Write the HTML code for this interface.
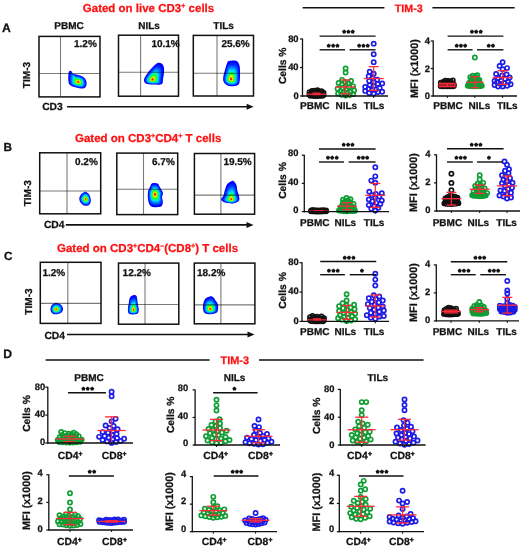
<!DOCTYPE html>
<html><head><meta charset="utf-8"><title>TIM-3 expression figure</title>
<style>
html,body{margin:0;padding:0;background:#fff;}
svg{display:block;text-rendering:geometricPrecision;}
text{font-family:'Liberation Sans', Arial, sans-serif;font-weight:bold;stroke-width:0.25px;paint-order:stroke;}
</style></head>
<body>
<svg width="526" height="550" viewBox="0 0 526 550">
<defs><filter id="bl" x="-20%" y="-20%" width="140%" height="140%"><feGaussianBlur stdDeviation="0.55"/></filter></defs>
<rect width="526" height="550" fill="#fff"/>
<text x="2" y="32.3" font-size="12.2" text-anchor="start" fill="#111" stroke="#111" >A</text>
<text x="3.4" y="150.6" font-size="11.8" text-anchor="start" fill="#111" stroke="#111" >B</text>
<text x="4" y="260.4" font-size="11.8" text-anchor="start" fill="#111" stroke="#111" >C</text>
<text x="3.2" y="358.4" font-size="12.2" text-anchor="start" fill="#111" stroke="#111" >D</text>
<text x="82.8" y="11.8" font-size="11.5" fill="#ff1010" stroke="#ff1010"><tspan>Gated on live CD3</tspan><tspan font-size="7.13" baseline-shift="4.14">+</tspan><tspan> cells</tspan></text>
<text x="75" y="142" font-size="11.5" fill="#ff1010" stroke="#ff1010"><tspan>Gated on CD3</tspan><tspan font-size="7.13" baseline-shift="4.14">+</tspan><tspan>CD4</tspan><tspan font-size="7.13" baseline-shift="4.14">+</tspan><tspan> T cells</tspan></text>
<text x="57" y="251.6" font-size="11.5" fill="#ff1010" stroke="#ff1010"><tspan>Gated on CD3</tspan><tspan font-size="7.13" baseline-shift="4.14">+</tspan><tspan>CD4</tspan><tspan font-size="7.13" baseline-shift="4.14">–</tspan><tspan>(CD8</tspan><tspan font-size="7.13" baseline-shift="4.14">+</tspan><tspan>) T cells</tspan></text>
<line x1="302.6" y1="7.8" x2="384.4" y2="7.8" stroke="#111" stroke-width="1.4" />
<line x1="432.4" y1="7.8" x2="514.6" y2="7.8" stroke="#111" stroke-width="1.4" />
<text x="408.8" y="11.7" font-size="10.7" text-anchor="middle" fill="#ff1010" stroke="#ff1010" >TIM-3</text>
<line x1="45.6" y1="360" x2="209.6" y2="360" stroke="#111" stroke-width="1.4" />
<line x1="259" y1="360" x2="423.6" y2="360" stroke="#111" stroke-width="1.4" />
<text x="234.8" y="364.2" font-size="10.9" text-anchor="middle" fill="#ff1010" stroke="#ff1010" >TIM-3</text>
<g filter="url(#bl)"><path d="M69.5,71C70.02,70.55 70.92,70.83 71.5,71.3C72.08,71.77 71.58,73.1 73,73.8C74.42,74.5 78.08,74.8 80,75.5C81.92,76.2 83.42,76.92 84.5,78C85.58,79.08 86.25,80.58 86.5,82C86.75,83.42 86.58,85.42 86,86.5C85.42,87.58 84.67,88.33 83,88.5C81.33,88.67 78.17,88.08 76,87.5C73.83,86.92 71.27,86.08 70,85C68.73,83.92 68.67,82.83 68.4,81C68.13,79.17 68.22,75.67 68.4,74C68.58,72.33 68.98,71.45 69.5,71Z" fill="#0000ff"/><path d="M70.65,72.43C71.1,72.04 71.87,72.27 72.36,72.66C72.86,73.04 72.38,74.18 73.62,74.76C74.87,75.35 78.12,75.57 79.82,76.18C81.52,76.79 82.87,77.46 83.83,78.43C84.79,79.4 85.37,80.74 85.59,82C85.8,83.26 85.64,85.02 85.12,85.99C84.6,86.95 83.96,87.62 82.48,87.78C81,87.94 78.15,87.47 76.23,86.95C74.31,86.43 72.06,85.63 70.95,84.66C69.84,83.69 69.79,82.73 69.57,81.12C69.36,79.51 69.48,76.46 69.66,75.02C69.84,73.57 70.2,72.83 70.65,72.43Z" fill="#0028ff"/><path d="M71.73,73.79C72.12,73.45 72.76,73.62 73.18,73.94C73.59,74.26 73.15,75.21 74.22,75.69C75.3,76.18 78.16,76.32 79.65,76.85C81.14,77.38 82.33,78 83.18,78.85C84.02,79.71 84.51,80.89 84.69,82C84.88,83.11 84.72,84.64 84.26,85.49C83.81,86.33 83.27,86.93 81.97,87.08C80.67,87.23 78.14,86.86 76.46,86.4C74.78,85.94 72.83,85.19 71.87,84.33C70.9,83.46 70.87,82.62 70.7,81.23C70.53,79.84 70.67,77.22 70.85,75.98C71.02,74.74 71.34,74.12 71.73,73.79Z" fill="#0064ff"/><path d="M72.74,75.05C73.07,74.77 73.61,74.9 73.95,75.16C74.3,75.41 73.88,76.2 74.8,76.59C75.72,76.98 78.19,77.07 79.47,77.51C80.76,77.96 81.81,78.52 82.53,79.27C83.26,80.02 83.67,81.04 83.82,82C83.98,82.96 83.83,84.27 83.44,85C83.04,85.73 82.6,86.25 81.47,86.39C80.35,86.53 78.14,86.25 76.69,85.85C75.24,85.45 73.57,84.75 72.76,84C71.94,83.25 71.91,82.53 71.78,81.34C71.65,80.16 71.81,77.94 71.97,76.89C72.13,75.84 72.41,75.34 72.74,75.05Z" fill="#00a8ff"/><path d="M73.7,76.25C73.97,76.01 74.41,76.11 74.68,76.31C74.96,76.51 74.59,77.14 75.36,77.45C76.13,77.76 78.21,77.8 79.3,78.17C80.39,78.55 81.28,79.04 81.9,79.68C82.51,80.32 82.85,81.19 82.98,82C83.1,82.81 82.96,83.91 82.63,84.53C82.3,85.15 81.94,85.59 80.99,85.72C80.04,85.85 78.15,85.64 76.92,85.3C75.69,84.96 74.31,84.33 73.62,83.69C72.94,83.05 72.92,82.44 72.83,81.45C72.73,80.46 72.89,78.62 73.04,77.75C73.18,76.88 73.42,76.49 73.7,76.25Z" fill="#00e4f4"/><path d="M74.51,77.26C74.73,77.06 75.09,77.14 75.31,77.29C75.53,77.45 75.21,77.96 75.85,78.2C76.49,78.45 78.23,78.46 79.15,78.76C80.06,79.07 80.82,79.5 81.33,80.04C81.85,80.58 82.13,81.32 82.23,82C82.33,82.68 82.21,83.6 81.93,84.12C81.65,84.64 81.36,85.01 80.56,85.13C79.76,85.24 78.16,85.09 77.13,84.81C76.1,84.52 74.95,83.96 74.38,83.42C73.81,82.87 73.81,82.36 73.73,81.54C73.66,80.72 73.82,79.2 73.95,78.48C74.08,77.77 74.28,77.46 74.51,77.26Z" fill="#00ff90"/><path d="M75.19,78.11C75.38,77.95 75.66,78 75.84,78.13C76.02,78.25 75.73,78.66 76.26,78.85C76.79,79.04 78.25,79.03 79.01,79.28C79.77,79.53 80.41,79.91 80.84,80.36C81.27,80.81 81.5,81.43 81.58,82C81.66,82.57 81.55,83.33 81.32,83.77C81.09,84.2 80.86,84.51 80.19,84.61C79.52,84.71 78.17,84.6 77.31,84.36C76.45,84.13 75.5,83.64 75.04,83.18C74.57,82.72 74.57,82.3 74.51,81.62C74.46,80.94 74.61,79.69 74.72,79.11C74.83,78.52 75,78.28 75.19,78.11Z" fill="#18ff18"/><path d="M75.92,79.02C76.06,78.89 76.27,78.93 76.41,79.02C76.54,79.11 76.31,79.41 76.72,79.55C77.13,79.69 78.26,79.67 78.86,79.86C79.46,80.05 79.96,80.36 80.29,80.71C80.63,81.07 80.8,81.56 80.86,82C80.92,82.44 80.83,83.04 80.65,83.38C80.47,83.72 80.3,83.96 79.78,84.04C79.25,84.13 78.19,84.06 77.52,83.87C76.85,83.68 76.12,83.28 75.76,82.92C75.4,82.56 75.39,82.23 75.36,81.7C75.32,81.18 75.45,80.22 75.54,79.77C75.64,79.33 75.77,79.15 75.92,79.02Z" fill="#90ff00"/><path d="M76.53,79.78C76.63,79.69 76.79,79.71 76.89,79.77C76.98,79.84 76.8,80.06 77.11,80.16C77.42,80.26 78.28,80.22 78.73,80.37C79.18,80.51 79.56,80.75 79.81,81.02C80.07,81.3 80.2,81.66 80.24,82C80.28,82.34 80.21,82.78 80.08,83.04C79.94,83.3 79.82,83.48 79.42,83.55C79.02,83.61 78.21,83.57 77.7,83.43C77.2,83.29 76.65,82.97 76.38,82.69C76.11,82.42 76.11,82.17 76.09,81.78C76.07,81.38 76.17,80.67 76.24,80.34C76.32,80.01 76.42,79.88 76.53,79.78Z" fill="#f0f000"/><path d="M77.11,80.51C77.18,80.44 77.28,80.46 77.34,80.5C77.41,80.54 77.28,80.68 77.49,80.74C77.7,80.81 78.29,80.78 78.59,80.87C78.9,80.97 79.17,81.14 79.34,81.33C79.51,81.52 79.6,81.77 79.63,82C79.66,82.23 79.61,82.53 79.51,82.71C79.42,82.89 79.34,83.01 79.07,83.06C78.8,83.11 78.23,83.09 77.89,82.99C77.54,82.89 77.17,82.67 76.99,82.47C76.8,82.28 76.81,82.11 76.79,81.85C76.78,81.58 76.86,81.1 76.91,80.88C76.96,80.65 77.03,80.57 77.11,80.51Z" fill="#ff8000"/><path d="M77.59,81.11C77.63,81.07 77.69,81.08 77.73,81.1C77.77,81.12 77.69,81.21 77.81,81.24C77.94,81.28 78.29,81.26 78.48,81.31C78.67,81.37 78.83,81.48 78.93,81.59C79.04,81.71 79.09,81.86 79.11,82C79.12,82.14 79.09,82.32 79.03,82.43C78.98,82.54 78.93,82.61 78.77,82.64C78.6,82.67 78.26,82.66 78.05,82.61C77.84,82.55 77.62,82.4 77.51,82.29C77.4,82.17 77.4,82.07 77.39,81.91C77.39,81.75 77.44,81.46 77.47,81.33C77.5,81.2 77.54,81.15 77.59,81.11Z" fill="#ff0000"/></g>
<line x1="60.5" y1="36.4" x2="60.5" y2="96.9" stroke="#7a7a7a" stroke-width="1.1" style="mix-blend-mode:multiply"/>
<line x1="39" y1="73.5" x2="100" y2="73.5" stroke="#7a7a7a" stroke-width="1.1" style="mix-blend-mode:multiply"/>
<rect x="39" y="36.4" width="61" height="60.5" fill="none" stroke="#111" stroke-width="1.5"/>
<text x="74" y="46.5" font-size="10" text-anchor="start" fill="#111" stroke="#111" >1.2%</text>
<g filter="url(#bl)"><path d="M157,63.2C158.92,62.12 160.37,62.87 161.5,63.5C162.63,64.13 163.38,65.42 163.8,67C164.22,68.58 164.13,71 164,73C163.87,75 163.33,77.17 163,79C162.67,80.83 163.33,83.07 162,84C160.67,84.93 157.5,84.6 155,84.6C152.5,84.6 148.83,84.6 147,84C145.17,83.4 144.33,82.17 144,81C143.67,79.83 144,78.83 145,77C146,75.17 148,72.3 150,70C152,67.7 155.08,64.28 157,63.2Z" fill="#0000ff"/><path d="M156.35,65.53C158,64.64 159.22,65.29 160.2,65.83C161.17,66.38 161.82,67.45 162.2,68.8C162.58,70.14 162.56,72.18 162.47,73.9C162.38,75.61 161.96,77.5 161.69,79.1C161.41,80.7 161.98,82.65 160.82,83.48C159.66,84.32 156.95,84.11 154.74,84.12C152.53,84.13 149.21,84.09 147.58,83.55C145.96,83 145.26,81.9 144.97,80.86C144.68,79.82 144.95,78.93 145.84,77.32C146.72,75.71 148.54,73.16 150.29,71.19C152.05,69.23 154.7,66.42 156.35,65.53Z" fill="#0028ff"/><path d="M155.76,67.69C157.16,66.96 158.17,67.52 159,67.98C159.83,68.44 160.38,69.33 160.72,70.46C161.06,71.58 161.08,73.28 161.03,74.74C160.99,76.19 160.66,77.82 160.44,79.19C160.22,80.57 160.68,82.25 159.69,82.99C158.7,83.73 156.4,83.62 154.48,83.64C152.56,83.66 149.59,83.59 148.16,83.1C146.73,82.61 146.16,81.64 145.91,80.73C145.66,79.81 145.88,79.02 146.65,77.63C147.43,76.23 149.05,73.99 150.57,72.34C152.09,70.68 154.35,68.41 155.76,67.69Z" fill="#0064ff"/><path d="M155.21,69.68C156.38,69.1 157.2,69.57 157.9,69.96C158.59,70.34 159.06,71.06 159.36,71.99C159.65,72.92 159.71,74.31 159.69,75.53C159.67,76.74 159.43,78.12 159.25,79.28C159.07,80.45 159.45,81.87 158.61,82.52C157.78,83.16 155.87,83.14 154.22,83.16C152.57,83.18 149.95,83.09 148.72,82.66C147.49,82.23 147.04,81.39 146.82,80.6C146.61,79.81 146.78,79.12 147.45,77.93C148.12,76.73 149.55,74.8 150.84,73.43C152.13,72.05 154.03,70.26 155.21,69.68Z" fill="#00a8ff"/><path d="M154.7,71.51C155.66,71.06 156.32,71.45 156.88,71.77C157.45,72.08 157.84,72.65 158.1,73.4C158.35,74.16 158.42,75.27 158.43,76.27C158.43,77.26 158.26,78.4 158.12,79.37C157.98,80.34 158.28,81.52 157.59,82.07C156.9,82.62 155.35,82.65 153.96,82.68C152.57,82.71 150.32,82.6 149.27,82.23C148.23,81.86 147.88,81.14 147.7,80.47C147.53,79.8 147.65,79.22 148.22,78.22C148.78,77.22 150.01,75.59 151.09,74.47C152.17,73.35 153.73,71.96 154.7,71.51Z" fill="#00e4f4"/><path d="M154.27,73.04C155.06,72.69 155.58,73.01 156.05,73.27C156.51,73.52 156.83,73.98 157.05,74.58C157.26,75.19 157.34,76.08 157.36,76.89C157.37,77.7 157.25,78.64 157.14,79.44C157.04,80.24 157.28,81.22 156.71,81.69C156.14,82.15 154.88,82.22 153.73,82.25C152.57,82.28 150.64,82.16 149.77,81.85C148.89,81.53 148.62,80.92 148.47,80.36C148.33,79.8 148.42,79.3 148.89,78.47C149.36,77.64 150.42,76.27 151.31,75.37C152.21,74.46 153.48,73.39 154.27,73.04Z" fill="#00ff90"/><path d="M153.92,74.31C154.56,74.04 154.98,74.3 155.36,74.5C155.73,74.71 155.99,75.07 156.18,75.56C156.36,76.05 156.44,76.76 156.46,77.42C156.48,78.08 156.4,78.85 156.32,79.5C156.23,80.16 156.42,80.96 155.96,81.36C155.49,81.75 154.48,81.84 153.52,81.86C152.56,81.89 150.93,81.78 150.19,81.52C149.46,81.25 149.25,80.74 149.13,80.27C149.01,79.8 149.08,79.38 149.48,78.69C149.87,78.01 150.76,76.87 151.5,76.14C152.24,75.41 153.28,74.58 153.92,74.31Z" fill="#18ff18"/><path d="M153.55,75.63C154.04,75.44 154.35,75.64 154.64,75.79C154.92,75.95 155.12,76.22 155.27,76.58C155.41,76.95 155.48,77.48 155.51,77.98C155.53,78.48 155.48,79.07 155.42,79.57C155.36,80.08 155.5,80.69 155.15,81C154.79,81.31 154.03,81.41 153.28,81.43C152.54,81.46 151.24,81.36 150.67,81.15C150.1,80.93 149.95,80.53 149.86,80.16C149.77,79.8 149.81,79.47 150.12,78.94C150.43,78.4 151.13,77.52 151.71,76.97C152.28,76.42 153.07,75.83 153.55,75.63Z" fill="#90ff00"/><path d="M153.25,76.73C153.61,76.59 153.83,76.74 154.04,76.85C154.25,76.97 154.4,77.16 154.51,77.43C154.62,77.69 154.68,78.08 154.71,78.45C154.73,78.81 154.7,79.25 154.66,79.63C154.62,80 154.72,80.46 154.46,80.7C154.19,80.94 153.64,81.03 153.08,81.05C152.51,81.07 151.52,80.98 151.09,80.82C150.65,80.66 150.55,80.35 150.48,80.07C150.41,79.79 150.44,79.55 150.68,79.15C150.91,78.75 151.45,78.08 151.88,77.68C152.31,77.27 152.89,76.87 153.25,76.73Z" fill="#f0f000"/><path d="M152.97,77.75C153.21,77.66 153.35,77.76 153.49,77.84C153.63,77.92 153.73,78.04 153.81,78.22C153.89,78.39 153.93,78.64 153.95,78.89C153.97,79.13 153.96,79.43 153.93,79.68C153.91,79.94 153.97,80.25 153.8,80.41C153.62,80.57 153.25,80.65 152.87,80.66C152.49,80.68 151.79,80.61 151.5,80.5C151.2,80.39 151.14,80.18 151.09,79.99C151.05,79.8 151.06,79.63 151.22,79.35C151.38,79.08 151.76,78.63 152.05,78.36C152.34,78.09 152.73,77.84 152.97,77.75Z" fill="#ff8000"/><path d="M152.74,78.59C152.88,78.54 152.96,78.6 153.05,78.64C153.13,78.69 153.19,78.76 153.23,78.86C153.28,78.97 153.31,79.11 153.33,79.26C153.34,79.4 153.33,79.58 153.32,79.73C153.3,79.88 153.34,80.07 153.24,80.17C153.13,80.27 152.92,80.32 152.69,80.33C152.46,80.34 152.03,80.3 151.85,80.23C151.67,80.16 151.64,80.03 151.61,79.91C151.58,79.8 151.59,79.69 151.69,79.53C151.78,79.37 152.01,79.09 152.19,78.93C152.36,78.78 152.59,78.64 152.74,78.59Z" fill="#ff0000"/></g>
<line x1="140.6" y1="35.2" x2="140.6" y2="96.2" stroke="#7a7a7a" stroke-width="1.1" style="mix-blend-mode:multiply"/>
<line x1="118.5" y1="72.3" x2="178.5" y2="72.3" stroke="#7a7a7a" stroke-width="1.1" style="mix-blend-mode:multiply"/>
<rect x="118.5" y="35.2" width="60" height="61" fill="none" stroke="#111" stroke-width="1.5"/>
<text x="151.4" y="47" font-size="10" text-anchor="start" fill="#111" stroke="#111" >10.1%</text>
<g filter="url(#bl)"><path d="M229,61C230.5,60.55 234.33,60.3 236,60.8C237.67,61.3 238.33,62.47 239,64C239.67,65.53 239.9,67 240,70C240.1,73 240.1,79.4 239.6,82C239.1,84.6 238.27,84.9 237,85.6C235.73,86.3 233.67,86.27 232,86.2C230.33,86.13 228.42,85.98 227,85.2C225.58,84.42 224.1,83.03 223.5,81.5C222.9,79.97 223.15,77.92 223.4,76C223.65,74.08 224.4,72.08 225,70C225.6,67.92 226.33,65 227,63.5C227.67,62 227.5,61.45 229,61Z" fill="#0000ff"/><path d="M229.27,63.48C230.57,63.11 233.87,62.91 235.32,63.34C236.76,63.76 237.34,64.74 237.94,66.04C238.53,67.35 238.78,68.54 238.9,71.15C239.02,73.77 239.08,79.42 238.66,81.72C238.23,84.01 237.48,84.3 236.35,84.93C235.22,85.56 233.39,85.57 231.9,85.52C230.41,85.47 228.67,85.32 227.4,84.61C226.13,83.91 224.82,82.66 224.28,81.28C223.75,79.91 223.98,78.06 224.21,76.36C224.45,74.67 225.15,72.9 225.7,71.1C226.26,69.3 226.93,66.85 227.52,65.58C228.12,64.31 227.97,63.86 229.27,63.48Z" fill="#0028ff"/><path d="M229.52,65.8C230.63,65.5 233.45,65.34 234.68,65.7C235.92,66.06 236.42,66.87 236.94,67.96C237.47,69.05 237.71,70.01 237.84,72.25C237.97,74.5 238.09,79.43 237.73,81.44C237.38,83.44 236.7,83.7 235.71,84.27C234.72,84.84 233.12,84.88 231.8,84.84C230.48,84.8 228.93,84.66 227.81,84.03C226.68,83.4 225.53,82.28 225.06,81.06C224.59,79.85 224.79,78.2 225.01,76.72C225.23,75.24 225.88,73.7 226.38,72.17C226.88,70.63 227.49,68.6 228.01,67.53C228.54,66.47 228.41,66.11 229.52,65.8Z" fill="#0064ff"/><path d="M229.76,67.96C230.69,67.72 233.05,67.6 234.09,67.89C235.14,68.19 235.55,68.85 236.01,69.75C236.47,70.66 236.7,71.4 236.84,73.31C236.97,75.21 237.12,79.44 236.83,81.16C236.54,82.88 235.94,83.12 235.09,83.62C234.23,84.12 232.85,84.19 231.7,84.16C230.55,84.13 229.19,84 228.21,83.45C227.23,82.9 226.23,81.91 225.83,80.85C225.43,79.79 225.6,78.35 225.8,77.07C226,75.8 226.59,74.47 227.04,73.19C227.48,71.91 228.02,70.24 228.48,69.37C228.93,68.5 228.82,68.21 229.76,67.96Z" fill="#00a8ff"/><path d="M229.98,69.98C230.75,69.78 232.68,69.69 233.54,69.94C234.4,70.18 234.75,70.7 235.14,71.43C235.53,72.16 235.74,72.73 235.88,74.31C236.01,75.88 236.18,79.45 235.94,80.89C235.71,82.34 235.2,82.56 234.47,82.99C233.75,83.42 232.58,83.5 231.6,83.48C230.62,83.46 229.44,83.34 228.61,82.87C227.77,82.39 226.93,81.54 226.59,80.64C226.25,79.73 226.4,78.5 226.58,77.42C226.76,76.35 227.28,75.23 227.67,74.18C228.06,73.13 228.53,71.8 228.91,71.1C229.3,70.4 229.2,70.17 229.98,69.98Z" fill="#00e4f4"/><path d="M230.16,71.67C230.79,71.52 232.38,71.45 233.08,71.65C233.79,71.85 234.07,72.26 234.4,72.85C234.73,73.44 234.92,73.87 235.05,75.17C235.18,76.47 235.35,79.45 235.16,80.66C234.97,81.87 234.54,82.06 233.93,82.42C233.32,82.79 232.34,82.88 231.51,82.87C230.68,82.85 229.68,82.75 228.97,82.34C228.26,81.94 227.55,81.21 227.27,80.45C226.98,79.68 227.11,78.63 227.27,77.73C227.43,76.83 227.88,75.9 228.22,75.04C228.55,74.18 228.96,73.12 229.28,72.56C229.6,72 229.53,71.82 230.16,71.67Z" fill="#00ff90"/><path d="M230.31,73.09C230.83,72.97 232.12,72.92 232.7,73.08C233.28,73.24 233.51,73.57 233.79,74.04C234.06,74.51 234.23,74.84 234.35,75.91C234.46,76.97 234.63,79.45 234.48,80.45C234.33,81.46 233.96,81.62 233.45,81.93C232.94,82.24 232.12,82.33 231.43,82.32C230.74,82.32 229.88,82.22 229.29,81.88C228.7,81.54 228.1,80.92 227.87,80.28C227.63,79.63 227.73,78.75 227.87,78C228.01,77.25 228.4,76.48 228.69,75.78C228.98,75.08 229.32,74.24 229.59,73.79C229.86,73.34 229.8,73.21 230.31,73.09Z" fill="#18ff18"/><path d="M230.48,74.58C230.87,74.5 231.85,74.46 232.3,74.58C232.74,74.7 232.91,74.95 233.13,75.3C233.35,75.65 233.49,75.88 233.59,76.7C233.68,77.52 233.84,79.44 233.72,80.22C233.61,81 233.32,81.14 232.92,81.39C232.52,81.63 231.89,81.72 231.34,81.71C230.79,81.71 230.12,81.63 229.65,81.36C229.18,81.09 228.72,80.6 228.53,80.09C228.35,79.58 228.43,78.88 228.54,78.3C228.66,77.72 228.98,77.12 229.2,76.59C229.43,76.05 229.71,75.44 229.92,75.1C230.13,74.77 230.08,74.67 230.48,74.58Z" fill="#90ff00"/><path d="M230.61,75.83C230.91,75.77 231.63,75.75 231.96,75.84C232.29,75.92 232.42,76.1 232.58,76.36C232.74,76.61 232.86,76.77 232.94,77.38C233.02,77.99 233.15,79.44 233.07,80.02C232.99,80.61 232.76,80.72 232.46,80.91C232.16,81.1 231.68,81.17 231.26,81.17C230.84,81.17 230.32,81.1 229.97,80.9C229.61,80.69 229.26,80.31 229.12,79.93C228.98,79.54 229.05,79.01 229.13,78.56C229.22,78.12 229.47,77.68 229.65,77.28C229.83,76.89 230.04,76.45 230.2,76.2C230.36,75.96 230.32,75.89 230.61,75.83Z" fill="#f0f000"/><path d="M230.74,77.01C230.94,76.97 231.42,76.95 231.64,77.01C231.86,77.07 231.95,77.18 232.06,77.35C232.17,77.52 232.25,77.62 232.31,78.03C232.37,78.44 232.47,79.43 232.42,79.83C232.37,80.23 232.21,80.3 232,80.44C231.8,80.57 231.47,80.62 231.18,80.62C230.89,80.62 230.53,80.58 230.29,80.44C230.04,80.29 229.8,80.03 229.7,79.76C229.61,79.49 229.65,79.13 229.72,78.83C229.78,78.52 229.95,78.22 230.08,77.96C230.2,77.69 230.35,77.41 230.46,77.25C230.57,77.09 230.54,77.05 230.74,77.01Z" fill="#ff8000"/><path d="M230.85,77.98C230.96,77.96 231.25,77.95 231.38,77.98C231.51,78.02 231.56,78.08 231.63,78.18C231.7,78.28 231.75,78.33 231.79,78.58C231.83,78.82 231.89,79.42 231.86,79.66C231.83,79.9 231.73,79.95 231.61,80.03C231.48,80.11 231.28,80.15 231.11,80.15C230.94,80.15 230.71,80.12 230.56,80.03C230.41,79.94 230.27,79.78 230.21,79.62C230.15,79.46 230.18,79.23 230.22,79.05C230.26,78.87 230.37,78.69 230.44,78.53C230.52,78.37 230.61,78.21 230.68,78.12C230.74,78.02 230.73,78 230.85,77.98Z" fill="#ff0000"/></g>
<line x1="217" y1="35.4" x2="217" y2="96" stroke="#7a7a7a" stroke-width="1.1" style="mix-blend-mode:multiply"/>
<line x1="193.3" y1="73.3" x2="253.5" y2="73.3" stroke="#7a7a7a" stroke-width="1.1" style="mix-blend-mode:multiply"/>
<rect x="193.3" y="35.4" width="60.2" height="60.6" fill="none" stroke="#111" stroke-width="1.5"/>
<text x="221.4" y="47" font-size="10" text-anchor="start" fill="#111" stroke="#111" >25.6%</text>
<g filter="url(#bl)"><path d="M84.5,192C85.5,191.65 86.17,191.9 87,192.4C87.83,192.9 88.88,193.9 89.5,195C90.12,196.1 90.55,197.67 90.7,199C90.85,200.33 90.85,201.9 90.4,203C89.95,204.1 89.07,205.2 88,205.6C86.93,206 85.25,205.92 84,205.4C82.75,204.88 81.28,203.65 80.5,202.5C79.72,201.35 79.22,199.83 79.3,198.5C79.38,197.17 80.13,195.58 81,194.5C81.87,193.42 83.5,192.35 84.5,192Z" fill="#0000ff"/><path d="M84.64,192.79C85.53,192.48 86.11,192.69 86.86,193.13C87.6,193.57 88.55,194.44 89.11,195.41C89.66,196.39 90.07,197.81 90.2,199C90.33,200.19 90.3,201.59 89.89,202.57C89.48,203.55 88.69,204.51 87.74,204.86C86.79,205.22 85.3,205.15 84.19,204.7C83.07,204.24 81.76,203.15 81.06,202.12C80.36,201.1 79.92,199.74 80,198.55C80.07,197.37 80.74,195.95 81.51,194.99C82.29,194.03 83.74,193.1 84.64,192.79Z" fill="#0028ff"/><path d="M84.77,193.56C85.55,193.28 86.06,193.47 86.72,193.84C87.37,194.22 88.22,194.97 88.72,195.83C89.21,196.68 89.59,197.95 89.7,199C89.81,200.05 89.77,201.29 89.4,202.15C89.03,203 88.33,203.83 87.49,204.14C86.65,204.45 85.35,204.4 84.37,204.01C83.39,203.61 82.23,202.65 81.61,201.75C81,200.85 80.61,199.65 80.68,198.61C80.75,197.56 81.34,196.32 82.02,195.48C82.7,194.63 83.98,193.83 84.77,193.56Z" fill="#0064ff"/><path d="M84.89,194.3C85.57,194.07 86.01,194.22 86.58,194.54C87.15,194.86 87.89,195.49 88.33,196.23C88.77,196.98 89.1,198.08 89.2,199C89.3,199.92 89.23,200.99 88.91,201.73C88.58,202.47 87.97,203.17 87.25,203.44C86.52,203.7 85.4,203.67 84.55,203.33C83.7,202.99 82.69,202.16 82.16,201.38C81.62,200.61 81.29,199.57 81.35,198.66C81.41,197.75 81.92,196.67 82.51,195.95C83.1,195.22 84.22,194.54 84.89,194.3Z" fill="#00a8ff"/><path d="M85.02,195.03C85.59,194.83 85.96,194.96 86.44,195.22C86.93,195.49 87.57,196.01 87.94,196.64C88.32,197.27 88.62,198.22 88.7,199C88.78,199.78 88.71,200.69 88.43,201.32C88.14,201.95 87.62,202.53 87.01,202.75C86.39,202.98 85.44,202.96 84.72,202.67C84.01,202.38 83.14,201.69 82.69,201.03C82.24,200.37 81.96,199.48 82.01,198.71C82.06,197.94 82.49,197.03 83,196.41C83.5,195.8 84.44,195.23 85.02,195.03Z" fill="#00e4f4"/><path d="M85.13,195.67C85.61,195.5 85.91,195.6 86.33,195.82C86.74,196.05 87.28,196.47 87.6,197C87.92,197.53 88.18,198.34 88.25,199C88.32,199.66 88.24,200.43 88,200.96C87.76,201.48 87.32,201.96 86.8,202.15C86.28,202.34 85.49,202.33 84.88,202.09C84.27,201.85 83.54,201.26 83.16,200.71C82.78,200.15 82.55,199.41 82.59,198.76C82.64,198.11 83,197.34 83.42,196.82C83.85,196.31 84.65,195.83 85.13,195.67Z" fill="#00ff90"/><path d="M85.22,196.22C85.63,196.08 85.88,196.16 86.22,196.35C86.57,196.53 87.03,196.88 87.3,197.32C87.57,197.76 87.8,198.45 87.85,199C87.9,199.55 87.83,200.2 87.63,200.64C87.42,201.08 87.05,201.47 86.62,201.63C86.18,201.79 85.52,201.78 85.01,201.58C84.51,201.38 83.9,200.89 83.58,200.43C83.26,199.97 83.06,199.34 83.1,198.8C83.14,198.25 83.44,197.61 83.8,197.18C84.15,196.75 84.82,196.36 85.22,196.22Z" fill="#18ff18"/><path d="M85.33,196.83C85.64,196.72 85.84,196.78 86.11,196.93C86.38,197.07 86.74,197.33 86.96,197.67C87.17,198.02 87.36,198.56 87.4,199C87.44,199.44 87.38,199.94 87.21,200.29C87.05,200.63 86.76,200.93 86.42,201.05C86.07,201.18 85.56,201.18 85.16,201.02C84.77,200.86 84.28,200.48 84.03,200.12C83.78,199.76 83.63,199.27 83.66,198.84C83.69,198.42 83.93,197.91 84.21,197.57C84.49,197.24 85.01,196.94 85.33,196.83Z" fill="#90ff00"/><path d="M85.42,197.36C85.66,197.28 85.8,197.32 86.01,197.43C86.22,197.53 86.49,197.73 86.66,197.99C86.82,198.25 86.97,198.67 87,199C87.03,199.33 86.97,199.72 86.85,199.98C86.72,200.24 86.5,200.46 86.24,200.55C85.98,200.65 85.59,200.65 85.29,200.53C84.99,200.41 84.63,200.13 84.44,199.85C84.25,199.58 84.13,199.2 84.15,198.88C84.18,198.56 84.36,198.17 84.57,197.92C84.78,197.66 85.18,197.44 85.42,197.36Z" fill="#f0f000"/><path d="M85.51,197.88C85.67,197.82 85.77,197.85 85.91,197.92C86.05,197.99 86.25,198.12 86.36,198.3C86.48,198.48 86.58,198.77 86.6,199C86.62,199.23 86.58,199.49 86.49,199.67C86.4,199.85 86.25,200 86.07,200.06C85.89,200.13 85.63,200.13 85.42,200.05C85.21,199.97 84.96,199.77 84.83,199.58C84.7,199.4 84.62,199.14 84.64,198.92C84.65,198.7 84.78,198.43 84.92,198.26C85.07,198.08 85.34,197.93 85.51,197.88Z" fill="#ff8000"/><path d="M85.58,198.32C85.68,198.29 85.74,198.3 85.83,198.35C85.92,198.39 86.03,198.47 86.1,198.58C86.17,198.68 86.24,198.86 86.25,199C86.26,199.14 86.23,199.3 86.18,199.41C86.13,199.52 86.03,199.61 85.92,199.64C85.82,199.68 85.66,199.69 85.53,199.64C85.41,199.59 85.25,199.47 85.17,199.36C85.09,199.24 85.05,199.08 85.06,198.95C85.07,198.82 85.14,198.65 85.23,198.55C85.32,198.44 85.48,198.35 85.58,198.32Z" fill="#ff0000"/></g>
<line x1="67" y1="152.8" x2="67" y2="213.8" stroke="#7a7a7a" stroke-width="1.1" style="mix-blend-mode:multiply"/>
<line x1="39.7" y1="191" x2="100.7" y2="191" stroke="#7a7a7a" stroke-width="1.1" style="mix-blend-mode:multiply"/>
<rect x="39.7" y="152.8" width="61" height="61" fill="none" stroke="#111" stroke-width="1.5"/>
<text x="75" y="165.1" font-size="10" text-anchor="start" fill="#111" stroke="#111" >0.2%</text>
<g filter="url(#bl)"><path d="M152,183.4C153.25,182.83 156.25,183.08 157.5,183.6C158.75,184.12 158.83,185.43 159.5,186.5C160.17,187.57 160.92,188.92 161.5,190C162.08,191.08 162.92,191.83 163,193C163.08,194.17 162.03,195.5 162,197C161.97,198.5 162.97,200.4 162.8,202C162.63,203.6 162.63,205.77 161,206.6C159.37,207.43 154.92,207.35 153,207C151.08,206.65 150.33,205.83 149.5,204.5C148.67,203.17 148.25,201.08 148,199C147.75,196.92 147.67,194 148,192C148.33,190 149.33,188.43 150,187C150.67,185.57 150.75,183.97 152,183.4Z" fill="#0000ff"/><path d="M152.35,184.64C153.46,184.15 156.1,184.36 157.21,184.81C158.33,185.26 158.41,186.39 159.02,187.32C159.62,188.26 160.31,189.46 160.84,190.43C161.36,191.39 162.1,192.08 162.17,193.12C162.25,194.17 161.34,195.39 161.29,196.72C161.25,198.05 162.08,199.71 161.91,201.11C161.74,202.5 161.71,204.36 160.27,205.08C158.82,205.81 154.93,205.76 153.24,205.46C151.55,205.16 150.89,204.46 150.14,203.3C149.39,202.14 148.98,200.34 148.74,198.49C148.5,196.65 148.4,194.01 148.7,192.22C149,190.43 149.92,189.03 150.53,187.77C151.14,186.5 151.23,185.14 152.35,184.64Z" fill="#0028ff"/><path d="M152.68,185.85C153.66,185.43 155.96,185.6 156.94,185.98C157.92,186.36 158,187.32 158.54,188.14C159.08,188.95 159.71,190 160.18,190.85C160.65,191.71 161.28,192.32 161.35,193.25C161.42,194.18 160.64,195.27 160.59,196.44C160.54,197.6 161.21,199.04 161.04,200.24C160.87,201.44 160.83,203.01 159.56,203.63C158.3,204.26 154.94,204.23 153.47,203.98C152,203.74 151.43,203.14 150.76,202.14C150.09,201.14 149.69,199.61 149.46,198C149.24,196.38 149.13,194.02 149.4,192.44C149.67,190.86 150.51,189.62 151.06,188.52C151.6,187.42 151.7,186.27 152.68,185.85Z" fill="#0064ff"/><path d="M153,187.01C153.85,186.66 155.82,186.8 156.67,187.12C157.51,187.44 157.6,188.24 158.08,188.93C158.55,189.63 159.11,190.54 159.52,191.28C159.93,192.02 160.47,192.56 160.53,193.37C160.6,194.18 159.94,195.15 159.88,196.15C159.83,197.16 160.36,198.38 160.2,199.4C160.03,200.42 159.98,201.72 158.89,202.25C157.81,202.78 154.95,202.77 153.69,202.57C152.44,202.36 151.94,201.86 151.36,201.02C150.77,200.17 150.39,198.89 150.18,197.5C149.98,196.11 149.87,194.03 150.1,192.66C150.33,191.29 151.09,190.21 151.57,189.27C152.06,188.33 152.15,187.37 153,187.01Z" fill="#00a8ff"/><path d="M153.32,188.14C154.04,187.85 155.69,187.97 156.41,188.23C157.12,188.49 157.21,189.14 157.62,189.72C158.03,190.3 158.52,191.07 158.87,191.7C159.22,192.33 159.67,192.8 159.73,193.49C159.78,194.19 159.24,195.02 159.18,195.87C159.12,196.72 159.54,197.74 159.38,198.58C159.23,199.43 159.17,200.49 158.25,200.93C157.34,201.36 154.96,201.38 153.9,201.21C152.85,201.05 152.44,200.64 151.94,199.94C151.44,199.24 151.09,198.19 150.9,197.01C150.71,195.84 150.6,194.05 150.8,192.88C151,191.71 151.66,190.79 152.08,190C152.5,189.21 152.6,188.44 153.32,188.14Z" fill="#00e4f4"/><path d="M153.59,189.13C154.2,188.89 155.58,188.98 156.18,189.2C156.78,189.41 156.86,189.94 157.21,190.42C157.56,190.9 157.98,191.55 158.28,192.08C158.58,192.61 158.96,193.01 159,193.6C159.05,194.19 158.61,194.91 158.55,195.62C158.5,196.33 158.81,197.18 158.67,197.87C158.53,198.57 158.47,199.43 157.7,199.79C156.94,200.15 154.97,200.17 154.09,200.04C153.21,199.91 152.87,199.57 152.44,199C152.01,198.42 151.7,197.57 151.53,196.58C151.36,195.59 151.26,194.07 151.43,193.08C151.6,192.09 152.18,191.31 152.54,190.65C152.9,190 152.98,189.37 153.59,189.13Z" fill="#00ff90"/><path d="M153.83,189.98C154.34,189.78 155.48,189.86 155.98,190.03C156.49,190.21 156.55,190.64 156.85,191.03C157.15,191.43 157.51,191.97 157.76,192.42C158.01,192.86 158.33,193.2 158.36,193.7C158.4,194.19 158.04,194.8 157.99,195.4C157.94,195.99 158.18,196.69 158.06,197.26C157.93,197.83 157.87,198.52 157.23,198.82C156.6,199.12 154.97,199.14 154.24,199.03C153.52,198.93 153.23,198.66 152.87,198.18C152.51,197.71 152.24,197.02 152.09,196.2C151.94,195.37 151.85,194.08 151.99,193.25C152.13,192.43 152.63,191.77 152.94,191.23C153.24,190.68 153.32,190.18 153.83,189.98Z" fill="#18ff18"/><path d="M154.09,190.92C154.49,190.76 155.37,190.82 155.77,190.95C156.16,191.09 156.22,191.41 156.45,191.71C156.69,192.02 156.98,192.44 157.18,192.79C157.38,193.14 157.62,193.41 157.65,193.8C157.68,194.19 157.41,194.68 157.36,195.15C157.32,195.61 157.49,196.14 157.38,196.58C157.28,197.02 157.22,197.54 156.73,197.77C156.23,198 154.98,198.02 154.41,197.95C153.85,197.87 153.63,197.66 153.35,197.3C153.06,196.94 152.83,196.41 152.71,195.77C152.59,195.13 152.51,194.1 152.62,193.45C152.73,192.8 153.13,192.29 153.38,191.86C153.62,191.44 153.69,191.07 154.09,190.92Z" fill="#90ff00"/><path d="M154.31,191.72C154.61,191.61 155.28,191.65 155.58,191.75C155.88,191.85 155.92,192.08 156.1,192.31C156.29,192.54 156.51,192.86 156.66,193.13C156.82,193.39 157,193.6 157.02,193.9C157.04,194.2 156.84,194.57 156.81,194.92C156.77,195.27 156.88,195.67 156.8,196C156.71,196.32 156.67,196.71 156.29,196.88C155.92,197.04 154.98,197.07 154.56,197.01C154.14,196.96 153.97,196.8 153.75,196.53C153.54,196.26 153.35,195.88 153.26,195.4C153.16,194.91 153.1,194.12 153.18,193.63C153.26,193.13 153.58,192.74 153.77,192.42C153.96,192.11 154.01,191.84 154.31,191.72Z" fill="#f0f000"/><path d="M154.53,192.51C154.74,192.43 155.19,192.46 155.4,192.52C155.6,192.59 155.63,192.74 155.76,192.9C155.89,193.06 156.04,193.28 156.15,193.46C156.26,193.64 156.38,193.78 156.39,193.99C156.41,194.2 156.28,194.46 156.25,194.7C156.22,194.94 156.29,195.21 156.23,195.43C156.17,195.65 156.13,195.9 155.88,196.02C155.62,196.13 154.99,196.15 154.7,196.11C154.41,196.07 154.3,195.97 154.15,195.79C154,195.61 153.87,195.36 153.8,195.02C153.73,194.69 153.68,194.15 153.74,193.8C153.8,193.46 154.02,193.19 154.15,192.98C154.28,192.76 154.32,192.58 154.53,192.51Z" fill="#ff8000"/><path d="M154.72,193.18C154.84,193.13 155.11,193.15 155.24,193.19C155.36,193.23 155.38,193.32 155.46,193.41C155.54,193.5 155.64,193.64 155.7,193.75C155.77,193.86 155.84,193.95 155.85,194.07C155.86,194.2 155.78,194.36 155.76,194.51C155.74,194.65 155.78,194.81 155.74,194.94C155.7,195.07 155.68,195.22 155.53,195.29C155.37,195.36 154.99,195.37 154.82,195.35C154.65,195.33 154.58,195.27 154.49,195.16C154.4,195.05 154.31,194.9 154.27,194.7C154.23,194.5 154.19,194.17 154.23,193.96C154.27,193.75 154.4,193.59 154.48,193.46C154.56,193.33 154.59,193.22 154.72,193.18Z" fill="#ff0000"/></g>
<line x1="143.5" y1="153.1" x2="143.5" y2="214.6" stroke="#7a7a7a" stroke-width="1.1" style="mix-blend-mode:multiply"/>
<line x1="116.8" y1="189.3" x2="177.7" y2="189.3" stroke="#7a7a7a" stroke-width="1.1" style="mix-blend-mode:multiply"/>
<rect x="116.8" y="153.1" width="60.9" height="61.5" fill="none" stroke="#111" stroke-width="1.5"/>
<text x="152" y="165.1" font-size="10" text-anchor="start" fill="#111" stroke="#111" >6.7%</text>
<g filter="url(#bl)"><path d="M232,180.9C233.17,180.6 233.73,181.23 234.5,182C235.27,182.77 236.15,184.17 236.6,185.5C237.05,186.83 236.8,188.25 237.2,190C237.6,191.75 238.73,194.17 239,196C239.27,197.83 239.8,199.77 238.8,201C237.8,202.23 235.3,203.13 233,203.4C230.7,203.67 226.97,203.25 225,202.6C223.03,201.95 221.45,200.68 221.2,199.5C220.95,198.32 222.83,197.25 223.5,195.5C224.17,193.75 224.53,190.95 225.2,189C225.87,187.05 226.37,185.15 227.5,183.8C228.63,182.45 230.83,181.2 232,180.9Z" fill="#0000ff"/><path d="M231.89,183.75C232.89,183.51 233.36,184.02 234.02,184.66C234.67,185.29 235.43,186.44 235.83,187.55C236.23,188.65 236.04,189.81 236.4,191.3C236.77,192.78 237.79,194.86 238.03,196.45C238.28,198.04 238.76,199.74 237.89,200.83C237.02,201.92 234.85,202.78 232.83,203.02C230.81,203.26 227.46,202.83 225.75,202.24C224.03,201.66 222.74,200.55 222.53,199.51C222.32,198.48 223.9,197.53 224.49,196.02C225.07,194.51 225.45,192.11 226.04,190.46C226.64,188.81 227.09,187.25 228.06,186.13C229.04,185.02 230.9,184 231.89,183.75Z" fill="#0028ff"/><path d="M231.8,186.33C232.63,186.14 233.02,186.56 233.58,187.07C234.13,187.58 234.78,188.52 235.13,189.42C235.47,190.33 235.33,191.27 235.66,192.51C235.99,193.75 236.89,195.52 237.12,196.88C237.34,198.24 237.76,199.71 237.02,200.67C236.27,201.63 234.42,202.43 232.66,202.64C230.9,202.85 227.95,202.42 226.46,201.9C224.98,201.38 223.95,200.42 223.77,199.53C223.6,198.63 224.92,197.8 225.42,196.51C225.93,195.23 226.3,193.19 226.82,191.82C227.35,190.45 227.74,189.18 228.57,188.26C229.4,187.35 230.96,186.53 231.8,186.33Z" fill="#0064ff"/><path d="M231.71,188.67C232.4,188.51 232.72,188.85 233.18,189.26C233.64,189.67 234.18,190.41 234.48,191.14C234.78,191.87 234.67,192.61 234.96,193.64C235.26,194.66 236.04,196.14 236.25,197.29C236.45,198.43 236.81,199.68 236.18,200.51C235.56,201.34 233.99,202.08 232.49,202.26C230.99,202.44 228.41,202.03 227.16,201.57C225.9,201.12 225.08,200.3 224.94,199.54C224.8,198.77 225.88,198.05 226.31,196.98C226.74,195.9 227.09,194.21 227.55,193.08C228,191.95 228.35,190.94 229.04,190.21C229.73,189.47 231.02,188.83 231.71,188.67Z" fill="#00a8ff"/><path d="M231.63,190.78C232.19,190.66 232.44,190.91 232.82,191.24C233.2,191.56 233.64,192.14 233.89,192.71C234.14,193.29 234.06,193.86 234.32,194.69C234.57,195.51 235.24,196.73 235.42,197.67C235.6,198.62 235.9,199.66 235.38,200.36C234.87,201.06 233.58,201.73 232.32,201.88C231.06,202.03 228.87,201.65 227.82,201.26C226.77,200.87 226.15,200.19 226.04,199.55C225.93,198.91 226.79,198.3 227.15,197.42C227.51,196.53 227.83,195.15 228.22,194.25C228.61,193.34 228.9,192.55 229.47,191.98C230.03,191.4 231.07,190.9 231.63,190.78Z" fill="#00e4f4"/><path d="M231.57,192.5C232.02,192.4 232.22,192.6 232.53,192.86C232.83,193.11 233.19,193.56 233.4,194.01C233.61,194.46 233.56,194.91 233.78,195.57C233.99,196.24 234.56,197.23 234.71,198C234.87,198.78 235.12,199.65 234.7,200.23C234.27,200.82 233.22,201.41 232.17,201.54C231.12,201.66 229.26,201.31 228.4,200.98C227.53,200.65 227.06,200.09 226.97,199.56C226.88,199.03 227.56,198.52 227.87,197.79C228.17,197.07 228.46,195.95 228.78,195.22C229.11,194.5 229.35,193.88 229.82,193.43C230.28,192.98 231.11,192.59 231.57,192.5Z" fill="#00ff90"/><path d="M231.51,193.89C231.88,193.82 232.04,193.97 232.29,194.17C232.53,194.37 232.83,194.72 233,195.08C233.17,195.43 233.14,195.78 233.32,196.31C233.51,196.84 233.98,197.65 234.11,198.28C234.24,198.92 234.46,199.63 234.11,200.12C233.76,200.62 232.9,201.13 232.03,201.23C231.16,201.34 229.61,201.02 228.89,200.75C228.18,200.47 227.82,200 227.75,199.56C227.68,199.13 228.22,198.7 228.47,198.11C228.72,197.53 228.98,196.62 229.25,196.03C229.52,195.45 229.72,194.98 230.1,194.62C230.48,194.26 231.15,193.97 231.51,193.89Z" fill="#18ff18"/><path d="M231.46,195.32C231.73,195.27 231.85,195.38 232.04,195.53C232.23,195.67 232.45,195.93 232.58,196.19C232.72,196.45 232.69,196.69 232.84,197.09C232.99,197.49 233.36,198.1 233.47,198.59C233.57,199.07 233.74,199.62 233.47,200.01C233.21,200.39 232.55,200.81 231.88,200.89C231.2,200.97 229.98,200.71 229.43,200.49C228.88,200.27 228.63,199.91 228.58,199.57C228.53,199.23 228.93,198.9 229.12,198.46C229.32,198.01 229.53,197.32 229.74,196.89C229.95,196.45 230.11,196.11 230.4,195.85C230.68,195.59 231.19,195.38 231.46,195.32Z" fill="#90ff00"/><path d="M231.42,196.48C231.62,196.45 231.7,196.53 231.84,196.63C231.98,196.73 232.14,196.91 232.24,197.09C232.34,197.28 232.33,197.45 232.44,197.74C232.56,198.03 232.84,198.48 232.92,198.84C233,199.2 233.13,199.61 232.93,199.9C232.73,200.2 232.25,200.53 231.74,200.59C231.24,200.65 230.3,200.44 229.89,200.27C229.48,200.1 229.32,199.83 229.28,199.58C229.24,199.33 229.53,199.08 229.68,198.75C229.82,198.42 229.99,197.91 230.15,197.6C230.31,197.28 230.43,197.04 230.64,196.85C230.85,196.67 231.22,196.52 231.42,196.48Z" fill="#f0f000"/><path d="M231.38,197.54C231.51,197.52 231.57,197.57 231.66,197.64C231.75,197.7 231.86,197.82 231.93,197.94C231.99,198.05 231.99,198.16 232.07,198.35C232.14,198.55 232.34,198.85 232.4,199.09C232.45,199.33 232.54,199.61 232.41,199.81C232.27,200.01 231.95,200.24 231.61,200.28C231.26,200.33 230.62,200.17 230.34,200.06C230.07,199.94 229.96,199.76 229.94,199.59C229.92,199.41 230.1,199.24 230.2,199.02C230.3,198.8 230.42,198.47 230.53,198.26C230.64,198.05 230.72,197.9 230.86,197.78C231,197.66 231.24,197.57 231.38,197.54Z" fill="#ff8000"/><path d="M231.35,198.4C231.42,198.38 231.46,198.41 231.51,198.45C231.56,198.49 231.63,198.55 231.67,198.62C231.71,198.69 231.71,198.75 231.76,198.86C231.8,198.97 231.92,199.15 231.96,199.29C231.99,199.44 232.04,199.6 231.96,199.72C231.89,199.84 231.69,199.99 231.49,200.02C231.28,200.04 230.89,199.95 230.72,199.87C230.56,199.8 230.5,199.7 230.49,199.59C230.48,199.49 230.58,199.39 230.64,199.25C230.7,199.12 230.78,198.93 230.84,198.81C230.91,198.68 230.96,198.6 231.04,198.53C231.13,198.46 231.27,198.41 231.35,198.4Z" fill="#ff0000"/></g>
<line x1="220.9" y1="153.5" x2="220.9" y2="214.2" stroke="#7a7a7a" stroke-width="1.1" style="mix-blend-mode:multiply"/>
<line x1="194.4" y1="195.1" x2="254.6" y2="195.1" stroke="#7a7a7a" stroke-width="1.1" style="mix-blend-mode:multiply"/>
<rect x="194.4" y="153.5" width="60.2" height="60.7" fill="none" stroke="#111" stroke-width="1.5"/>
<text x="223.4" y="165.1" font-size="10" text-anchor="start" fill="#111" stroke="#111" >19.5%</text>
<g filter="url(#bl)"><path d="M55,303.2C56.25,302.88 57.83,303.13 59,303.6C60.17,304.07 61.33,305.1 62,306C62.67,306.9 63.08,307.9 63,309C62.92,310.1 62.5,311.72 61.5,312.6C60.5,313.48 58.5,314.15 57,314.3C55.5,314.45 53.58,314.22 52.5,313.5C51.42,312.78 50.67,311.33 50.5,310C50.33,308.67 50.75,306.63 51.5,305.5C52.25,304.37 53.75,303.52 55,303.2Z" fill="#0000ff"/><path d="M55.13,303.87C56.25,303.59 57.66,303.82 58.69,304.23C59.73,304.65 60.77,305.58 61.36,306.38C61.95,307.18 62.31,308.06 62.24,309.04C62.17,310.02 61.82,311.46 60.93,312.25C60.04,313.05 58.26,313.67 56.92,313.81C55.58,313.95 53.85,313.72 52.88,313.07C51.91,312.43 51.25,311.13 51.1,309.94C50.95,308.74 51.33,306.93 52,305.92C52.68,304.91 54.02,304.15 55.13,303.87Z" fill="#0028ff"/><path d="M55.26,304.53C56.24,304.29 57.48,304.49 58.39,304.86C59.31,305.22 60.21,306.04 60.73,306.75C61.25,307.45 61.56,308.23 61.5,309.09C61.44,309.95 61.14,311.21 60.37,311.92C59.59,312.62 58.02,313.2 56.84,313.32C55.66,313.44 54.12,313.23 53.27,312.65C52.41,312.08 51.82,310.93 51.69,309.87C51.56,308.82 51.91,307.22 52.5,306.33C53.1,305.44 54.28,304.78 55.26,304.53Z" fill="#0064ff"/><path d="M55.38,305.18C56.24,304.97 57.31,305.14 58.1,305.46C58.89,305.79 59.67,306.49 60.11,307.11C60.56,307.72 60.83,308.38 60.78,309.13C60.73,309.88 60.48,310.96 59.81,311.58C59.14,312.2 57.79,312.72 56.76,312.83C55.73,312.94 54.39,312.74 53.64,312.23C52.9,311.73 52.39,310.73 52.28,309.81C52.17,308.9 52.47,307.51 52.99,306.74C53.51,305.97 54.53,305.4 55.38,305.18Z" fill="#00a8ff"/><path d="M55.51,305.82C56.23,305.64 57.14,305.79 57.81,306.06C58.48,306.33 59.14,306.94 59.52,307.46C59.89,307.97 60.12,308.54 60.08,309.17C60.04,309.8 59.84,310.73 59.27,311.25C58.7,311.78 57.56,312.25 56.68,312.34C55.8,312.43 54.65,312.25 54.02,311.82C53.38,311.39 52.95,310.53 52.86,309.75C52.77,308.97 53.03,307.79 53.47,307.14C53.91,306.48 54.78,306 55.51,305.82Z" fill="#00e4f4"/><path d="M55.62,306.38C56.23,306.23 57,306.36 57.56,306.59C58.12,306.82 58.67,307.33 58.99,307.77C59.3,308.2 59.49,308.68 59.46,309.21C59.43,309.74 59.26,310.51 58.79,310.96C58.31,311.41 57.35,311.82 56.61,311.9C55.87,311.98 54.89,311.81 54.35,311.45C53.81,311.08 53.45,310.36 53.37,309.7C53.3,309.04 53.52,308.04 53.9,307.49C54.27,306.94 55.01,306.53 55.62,306.38Z" fill="#00ff90"/><path d="M55.71,306.88C56.22,306.75 56.87,306.86 57.33,307.05C57.8,307.24 58.26,307.67 58.53,308.04C58.79,308.4 58.95,308.79 58.92,309.24C58.89,309.69 58.76,310.33 58.37,310.71C57.97,311.09 57.16,311.44 56.54,311.51C55.92,311.58 55.1,311.43 54.65,311.12C54.19,310.81 53.89,310.2 53.83,309.65C53.77,309.1 53.96,308.26 54.27,307.8C54.59,307.34 55.2,307 55.71,306.88Z" fill="#18ff18"/><path d="M55.82,307.42C56.22,307.32 56.72,307.41 57.09,307.56C57.46,307.71 57.81,308.05 58.02,308.33C58.23,308.62 58.35,308.93 58.33,309.27C58.31,309.62 58.21,310.13 57.9,310.43C57.59,310.72 56.96,311.01 56.47,311.07C55.98,311.12 55.33,311 54.98,310.76C54.62,310.51 54.38,310.03 54.33,309.6C54.29,309.16 54.44,308.51 54.69,308.14C54.93,307.78 55.42,307.52 55.82,307.42Z" fill="#90ff00"/><path d="M55.91,307.9C56.21,307.83 56.6,307.89 56.87,308C57.15,308.12 57.42,308.37 57.58,308.59C57.73,308.81 57.82,309.04 57.81,309.31C57.8,309.57 57.72,309.95 57.49,310.18C57.26,310.41 56.78,310.63 56.41,310.67C56.04,310.72 55.54,310.62 55.27,310.43C55,310.25 54.82,309.88 54.78,309.55C54.74,309.22 54.86,308.72 55.05,308.45C55.24,308.17 55.61,307.97 55.91,307.9Z" fill="#f0f000"/><path d="M56,308.37C56.21,308.32 56.47,308.36 56.66,308.44C56.85,308.52 57.04,308.7 57.15,308.85C57.25,308.99 57.31,309.15 57.3,309.34C57.29,309.52 57.25,309.78 57.09,309.94C56.93,310.09 56.6,310.25 56.34,310.28C56.09,310.31 55.74,310.24 55.56,310.11C55.37,309.98 55.25,309.73 55.22,309.5C55.2,309.27 55.28,308.93 55.41,308.74C55.54,308.56 55.79,308.42 56,308.37Z" fill="#ff8000"/><path d="M56.08,308.77C56.21,308.74 56.37,308.77 56.48,308.82C56.6,308.87 56.71,308.97 56.77,309.06C56.84,309.15 56.87,309.25 56.87,309.36C56.86,309.47 56.84,309.63 56.74,309.73C56.64,309.82 56.44,309.92 56.29,309.94C56.13,309.96 55.92,309.91 55.81,309.83C55.69,309.75 55.62,309.6 55.6,309.46C55.59,309.32 55.64,309.12 55.72,309C55.8,308.89 55.95,308.8 56.08,308.77Z" fill="#ff0000"/></g>
<line x1="67.8" y1="262.3" x2="67.8" y2="323.4" stroke="#7a7a7a" stroke-width="1.1" style="mix-blend-mode:multiply"/>
<line x1="40.3" y1="303.4" x2="101" y2="303.4" stroke="#7a7a7a" stroke-width="1.1" style="mix-blend-mode:multiply"/>
<rect x="40.3" y="262.3" width="60.7" height="61.1" fill="none" stroke="#111" stroke-width="1.5"/>
<text x="42.4" y="276.2" font-size="10" text-anchor="start" fill="#111" stroke="#111" >1.2%</text>
<g filter="url(#bl)"><path d="M134,295.1C135.08,294.85 135.95,295.18 136.5,296C137.05,296.82 137.05,298.5 137.3,300C137.55,301.5 137.75,303.33 138,305C138.25,306.67 138.88,308.57 138.8,310C138.72,311.43 138.47,312.85 137.5,313.6C136.53,314.35 134.45,314.52 133,314.5C131.55,314.48 129.65,314.42 128.8,313.5C127.95,312.58 127.87,310.92 127.9,309C127.93,307.08 128.65,303.92 129,302C129.35,300.08 129.17,298.65 130,297.5C130.83,296.35 132.92,295.35 134,295.1Z" fill="#0000ff"/><path d="M133.93,297.19C134.86,296.98 135.6,297.26 136.08,297.94C136.56,298.62 136.57,300.01 136.81,301.28C137.04,302.55 137.25,304.1 137.49,305.55C137.73,307.01 138.31,308.71 138.24,309.99C138.17,311.27 137.94,312.53 137.08,313.21C136.21,313.88 134.34,314.06 133.05,314.04C131.76,314.02 130.07,313.93 129.31,313.11C128.55,312.28 128.46,310.78 128.5,309.1C128.54,307.41 129.23,304.63 129.56,302.98C129.89,301.33 129.75,300.15 130.48,299.19C131.21,298.22 133,297.39 133.93,297.19Z" fill="#0028ff"/><path d="M133.86,299.11C134.66,298.94 135.28,299.17 135.69,299.74C136.11,300.3 136.13,301.43 136.34,302.49C136.56,303.55 136.77,304.84 137,306.09C137.22,307.34 137.75,308.86 137.69,309.98C137.64,311.1 137.42,312.22 136.66,312.82C135.89,313.42 134.24,313.6 133.1,313.58C131.96,313.56 130.48,313.46 129.81,312.72C129.15,311.99 129.05,310.66 129.09,309.19C129.14,307.72 129.78,305.32 130.09,303.91C130.39,302.51 130.29,301.56 130.92,300.76C131.55,299.96 133.07,299.28 133.86,299.11Z" fill="#0064ff"/><path d="M133.8,300.89C134.47,300.75 134.98,300.94 135.34,301.4C135.69,301.85 135.71,302.76 135.91,303.63C136.1,304.5 136.31,305.56 136.52,306.62C136.72,307.67 137.19,309 137.15,309.97C137.1,310.94 136.91,311.91 136.25,312.44C135.58,312.96 134.14,313.14 133.15,313.12C132.16,313.1 130.89,312.99 130.31,312.35C129.73,311.71 129.63,310.54 129.67,309.29C129.72,308.03 130.32,305.98 130.6,304.8C130.87,303.62 130.8,302.88 131.33,302.22C131.87,301.57 133.14,301.03 133.8,300.89Z" fill="#00a8ff"/><path d="M133.75,302.53C134.3,302.42 134.71,302.57 135,302.93C135.3,303.29 135.32,304 135.5,304.7C135.67,305.4 135.86,306.25 136.05,307.13C136.23,308 136.65,309.14 136.61,309.96C136.58,310.78 136.41,311.61 135.84,312.06C135.27,312.51 134.04,312.67 133.2,312.66C132.36,312.65 131.28,312.52 130.79,311.98C130.3,311.43 130.2,310.43 130.25,309.38C130.3,308.32 130.83,306.61 131.08,305.65C131.32,304.68 131.27,304.1 131.72,303.58C132.16,303.06 133.2,302.64 133.75,302.53Z" fill="#00e4f4"/><path d="M133.7,303.89C134.15,303.81 134.49,303.92 134.73,304.21C134.97,304.5 135,305.05 135.15,305.61C135.3,306.17 135.47,306.85 135.64,307.57C135.8,308.3 136.16,309.26 136.13,309.95C136.1,310.64 135.96,311.34 135.48,311.73C134.99,312.11 133.95,312.26 133.25,312.25C132.54,312.23 131.63,312.11 131.22,311.65C130.8,311.18 130.71,310.34 130.76,309.46C130.8,308.58 131.28,307.16 131.49,306.37C131.7,305.58 131.67,305.14 132.04,304.73C132.41,304.31 133.25,303.98 133.7,303.89Z" fill="#00ff90"/><path d="M133.66,305.02C134.03,304.95 134.3,305.05 134.5,305.27C134.7,305.5 134.72,305.93 134.85,306.38C134.98,306.82 135.14,307.37 135.28,307.96C135.42,308.55 135.73,309.36 135.71,309.94C135.69,310.52 135.56,311.11 135.16,311.43C134.75,311.76 133.88,311.89 133.28,311.88C132.69,311.87 131.94,311.75 131.59,311.36C131.24,310.97 131.16,310.26 131.2,309.53C131.24,308.8 131.66,307.63 131.84,306.99C132.03,306.35 132,306.01 132.31,305.68C132.61,305.35 133.3,305.09 133.66,305.02Z" fill="#18ff18"/><path d="M133.63,306.2C133.9,306.15 134.11,306.22 134.26,306.39C134.41,306.55 134.43,306.86 134.54,307.2C134.64,307.53 134.77,307.93 134.89,308.39C135.01,308.84 135.25,309.48 135.24,309.93C135.22,310.39 135.12,310.85 134.8,311.1C134.48,311.36 133.8,311.47 133.33,311.46C132.86,311.45 132.28,311.36 132,311.05C131.73,310.74 131.66,310.18 131.7,309.61C131.73,309.04 132.07,308.14 132.22,307.65C132.37,307.16 132.36,306.93 132.59,306.68C132.83,306.44 133.35,306.25 133.63,306.2Z" fill="#90ff00"/><path d="M133.59,307.17C133.8,307.14 133.95,307.19 134.06,307.31C134.17,307.43 134.19,307.64 134.27,307.89C134.35,308.13 134.46,308.42 134.55,308.76C134.64,309.1 134.83,309.58 134.82,309.92C134.81,310.27 134.73,310.62 134.49,310.82C134.25,311.01 133.72,311.1 133.37,311.1C133.02,311.09 132.57,311.01 132.36,310.77C132.16,310.53 132.1,310.11 132.13,309.68C132.16,309.25 132.43,308.58 132.54,308.22C132.66,307.86 132.65,307.69 132.83,307.52C133,307.34 133.39,307.21 133.59,307.17Z" fill="#f0f000"/><path d="M133.56,308.08C133.7,308.06 133.8,308.09 133.87,308.17C133.95,308.25 133.96,308.38 134.02,308.54C134.08,308.7 134.15,308.89 134.22,309.12C134.28,309.35 134.42,309.68 134.41,309.92C134.41,310.15 134.35,310.4 134.18,310.53C134.02,310.67 133.65,310.73 133.41,310.73C133.17,310.72 132.86,310.66 132.72,310.5C132.58,310.33 132.54,310.04 132.56,309.75C132.58,309.46 132.77,309 132.85,308.76C132.93,308.52 132.93,308.42 133.05,308.3C133.17,308.19 133.42,308.1 133.56,308.08Z" fill="#ff8000"/><path d="M133.54,308.82C133.62,308.81 133.68,308.83 133.72,308.87C133.77,308.92 133.78,309 133.81,309.09C133.85,309.18 133.89,309.29 133.93,309.43C133.98,309.56 134.06,309.77 134.06,309.91C134.05,310.05 134.02,310.2 133.92,310.28C133.81,310.37 133.59,310.41 133.44,310.41C133.3,310.4 133.11,310.36 133.03,310.26C132.94,310.16 132.91,309.98 132.93,309.81C132.94,309.63 133.06,309.36 133.11,309.22C133.16,309.07 133.16,309.02 133.23,308.95C133.3,308.89 133.45,308.84 133.54,308.82Z" fill="#ff0000"/></g>
<line x1="145" y1="263.1" x2="145" y2="324.2" stroke="#7a7a7a" stroke-width="1.1" style="mix-blend-mode:multiply"/>
<line x1="118.5" y1="304.5" x2="178.8" y2="304.5" stroke="#7a7a7a" stroke-width="1.1" style="mix-blend-mode:multiply"/>
<rect x="118.5" y="263.1" width="60.3" height="61.1" fill="none" stroke="#111" stroke-width="1.5"/>
<text x="122.6" y="276.2" font-size="10" text-anchor="start" fill="#111" stroke="#111" >12.2%</text>
<g filter="url(#bl)"><path d="M210,296.4C211.33,296.23 212.58,296.82 213.5,297.5C214.42,298.18 214.78,299.42 215.5,300.5C216.22,301.58 217.37,302.58 217.8,304C218.23,305.42 218.32,307.53 218.1,309C217.88,310.47 217.77,311.92 216.5,312.8C215.23,313.68 212.42,314.23 210.5,314.3C208.58,314.37 206.23,314 205,313.2C203.77,312.4 203.37,311.12 203.1,309.5C202.83,307.88 203,305.33 203.4,303.5C203.8,301.67 204.4,299.68 205.5,298.5C206.6,297.32 208.67,296.57 210,296.4Z" fill="#0000ff"/><path d="M210.03,298.07C211.19,297.93 212.27,298.42 213.07,299C213.88,299.59 214.21,300.63 214.85,301.56C215.48,302.5 216.5,303.37 216.89,304.61C217.28,305.85 217.37,307.72 217.19,309.01C217.01,310.31 216.91,311.59 215.79,312.39C214.67,313.18 212.17,313.72 210.47,313.78C208.77,313.84 206.66,313.48 205.56,312.75C204.47,312.03 204.12,310.89 203.89,309.46C203.66,308.02 203.84,305.76 204.21,304.16C204.58,302.57 205.13,300.88 206.1,299.86C207.07,298.84 208.86,298.21 210.03,298.07Z" fill="#0028ff"/><path d="M210.05,299.64C211.05,299.52 211.97,299.93 212.67,300.42C213.36,300.91 213.66,301.78 214.22,302.58C214.78,303.37 215.66,304.13 216.01,305.2C216.36,306.27 216.46,307.89 216.31,309.02C216.16,310.15 216.08,311.27 215.11,311.98C214.13,312.69 211.94,313.2 210.44,313.26C208.94,313.32 207.08,312.96 206.12,312.32C205.16,311.68 204.85,310.66 204.66,309.41C204.47,308.16 204.65,306.18 204.98,304.8C205.32,303.43 205.83,302.01 206.67,301.15C207.52,300.29 209.05,299.76 210.05,299.64Z" fill="#0064ff"/><path d="M210.07,301.11C210.92,301.01 211.7,301.35 212.29,301.76C212.88,302.16 213.15,302.87 213.63,303.54C214.11,304.21 214.87,304.85 215.17,305.76C215.48,306.68 215.58,308.06 215.46,309.03C215.34,310 215.28,310.97 214.43,311.59C213.59,312.2 211.71,312.69 210.41,312.74C209.11,312.79 207.5,312.45 206.66,311.89C205.83,311.33 205.57,310.45 205.41,309.37C205.26,308.29 205.43,306.59 205.73,305.42C206.03,304.25 206.49,303.08 207.21,302.36C207.94,301.64 209.23,301.21 210.07,301.11Z" fill="#00a8ff"/><path d="M210.1,302.49C210.8,302.41 211.44,302.69 211.93,303.01C212.43,303.34 212.65,303.91 213.06,304.46C213.47,305.01 214.1,305.54 214.37,306.3C214.63,307.07 214.73,308.23 214.63,309.04C214.54,309.86 214.49,310.67 213.78,311.2C213.07,311.73 211.48,312.18 210.38,312.22C209.28,312.26 207.9,311.95 207.2,311.47C206.49,310.99 206.27,310.24 206.15,309.33C206.02,308.42 206.19,306.98 206.45,306.01C206.71,305.04 207.11,304.09 207.72,303.5C208.33,302.92 209.39,302.57 210.1,302.49Z" fill="#00e4f4"/><path d="M210.11,303.66C210.69,303.6 211.22,303.82 211.63,304.08C212.04,304.35 212.23,304.8 212.57,305.25C212.91,305.7 213.45,306.14 213.67,306.77C213.89,307.41 213.99,308.37 213.91,309.05C213.84,309.74 213.8,310.42 213.21,310.87C212.61,311.32 211.28,311.71 210.35,311.75C209.43,311.79 208.26,311.5 207.67,311.09C207.08,310.68 206.89,310.05 206.79,309.29C206.69,308.53 206.85,307.33 207.07,306.52C207.3,305.72 207.64,304.96 208.15,304.48C208.66,304 209.53,303.73 210.11,303.66Z" fill="#00ff90"/><path d="M210.13,304.64C210.61,304.59 211.03,304.77 211.37,304.98C211.71,305.19 211.88,305.56 212.16,305.92C212.44,306.29 212.89,306.65 213.07,307.17C213.26,307.69 213.35,308.49 213.29,309.06C213.23,309.63 213.2,310.19 212.71,310.57C212.21,310.95 211.1,311.3 210.33,311.34C209.56,311.37 208.58,311.12 208.08,310.77C207.59,310.42 207.44,309.89 207.36,309.26C207.28,308.63 207.41,307.62 207.61,306.96C207.8,306.3 208.1,305.69 208.52,305.3C208.94,304.92 209.65,304.7 210.13,304.64Z" fill="#18ff18"/><path d="M210.15,305.69C210.51,305.65 210.84,305.78 211.1,305.94C211.36,306.1 211.49,306.37 211.71,306.65C211.93,306.92 212.28,307.2 212.43,307.61C212.58,308.01 212.65,308.63 212.61,309.07C212.56,309.51 212.54,309.95 212.16,310.25C211.77,310.55 210.91,310.84 210.3,310.87C209.7,310.89 208.93,310.68 208.54,310.41C208.15,310.13 208.04,309.72 207.98,309.23C207.92,308.73 208.03,307.95 208.19,307.44C208.34,306.94 208.58,306.47 208.91,306.18C209.23,305.89 209.78,305.73 210.15,305.69Z" fill="#90ff00"/><path d="M210.16,306.56C210.43,306.53 210.67,306.63 210.87,306.75C211.06,306.86 211.17,307.06 211.33,307.26C211.5,307.47 211.76,307.68 211.87,307.98C211.99,308.28 212.05,308.74 212.02,309.08C211.98,309.41 211.97,309.74 211.68,309.97C211.39,310.2 210.73,310.43 210.28,310.45C209.82,310.47 209.23,310.3 208.94,310.09C208.65,309.88 208.56,309.57 208.52,309.19C208.47,308.82 208.57,308.23 208.69,307.85C208.81,307.48 208.99,307.14 209.24,306.93C209.48,306.71 209.89,306.59 210.16,306.56Z" fill="#f0f000"/><path d="M210.17,307.39C210.36,307.37 210.52,307.44 210.65,307.51C210.78,307.59 210.85,307.72 210.97,307.85C211.08,307.99 211.26,308.13 211.34,308.34C211.42,308.54 211.46,308.86 211.44,309.08C211.42,309.31 211.41,309.54 211.21,309.7C211.02,309.85 210.57,310.02 210.25,310.04C209.94,310.05 209.54,309.93 209.33,309.78C209.13,309.64 209.07,309.42 209.05,309.17C209.02,308.91 209.09,308.51 209.17,308.25C209.25,308 209.38,307.78 209.55,307.63C209.72,307.49 209.99,307.41 210.17,307.39Z" fill="#ff8000"/><path d="M210.18,308.08C210.29,308.07 210.39,308.11 210.47,308.15C210.55,308.2 210.59,308.27 210.66,308.35C210.73,308.43 210.84,308.52 210.88,308.64C210.93,308.76 210.96,308.95 210.95,309.09C210.94,309.23 210.93,309.36 210.81,309.46C210.69,309.56 210.42,309.66 210.23,309.67C210.04,309.68 209.8,309.6 209.67,309.51C209.55,309.43 209.52,309.29 209.5,309.14C209.49,308.99 209.53,308.74 209.58,308.59C209.63,308.44 209.71,308.31 209.81,308.22C209.91,308.14 210.07,308.09 210.18,308.08Z" fill="#ff0000"/></g>
<line x1="220.9" y1="263.1" x2="220.9" y2="323.8" stroke="#7a7a7a" stroke-width="1.1" style="mix-blend-mode:multiply"/>
<line x1="194.3" y1="304.9" x2="254.9" y2="304.9" stroke="#7a7a7a" stroke-width="1.1" style="mix-blend-mode:multiply"/>
<rect x="194.3" y="263.1" width="60.6" height="60.7" fill="none" stroke="#111" stroke-width="1.5"/>
<text x="197" y="276.2" font-size="10" text-anchor="start" fill="#111" stroke="#111" >18.2%</text>
<text x="69" y="29" font-size="10" text-anchor="middle" fill="#111" stroke="#111" >PBMC</text>
<text x="149.1" y="29" font-size="10" text-anchor="middle" fill="#111" stroke="#111" >NILs</text>
<text x="223.6" y="29" font-size="10" text-anchor="middle" fill="#111" stroke="#111" >TILs</text>
<text x="0" y="0" transform="translate(30.3,75) rotate(-90)" font-size="10.1" text-anchor="middle" fill="#111" stroke="#111" >TIM-3</text>
<text x="42.2" y="110.3" font-size="10.3" text-anchor="start" fill="#111" stroke="#111" >CD3</text>
<line x1="67" y1="106.8" x2="248.6" y2="106.8" stroke="#111" stroke-width="1.6" />
<path d="M246.6,103.8 L253.6,106.8 L246.6,109.8 Z" fill="#111"/>
<text x="0" y="0" transform="translate(30.9,193.2) rotate(-90)" font-size="10.1" text-anchor="middle" fill="#111" stroke="#111" >TIM-3</text>
<text x="43.9" y="228.2" font-size="10.3" text-anchor="start" fill="#111" stroke="#111" >CD4</text>
<line x1="65.8" y1="224.9" x2="248.5" y2="224.9" stroke="#111" stroke-width="1.6" />
<path d="M246.5,221.9 L253.5,224.9 L246.5,227.9 Z" fill="#111"/>
<text x="0" y="0" transform="translate(31.7,301.5) rotate(-90)" font-size="10.1" text-anchor="middle" fill="#111" stroke="#111" >TIM-3</text>
<text x="44.4" y="338.5" font-size="10.3" text-anchor="start" fill="#111" stroke="#111" >CD4</text>
<line x1="67" y1="334.5" x2="249.5" y2="334.5" stroke="#111" stroke-width="1.6" />
<path d="M247.5,331.5 L254.5,334.5 L247.5,337.5 Z" fill="#111"/>
<circle cx="316.5" cy="96" r="2.1" fill="#111" stroke="#111" stroke-width="1.7"/>
<circle cx="313.5" cy="95.96" r="2.1" fill="#111" stroke="#111" stroke-width="1.7"/>
<circle cx="319.5" cy="95.88" r="2.1" fill="#111" stroke="#111" stroke-width="1.7"/>
<circle cx="322.5" cy="95.83" r="2.1" fill="#111" stroke="#111" stroke-width="1.7"/>
<circle cx="310.5" cy="95.69" r="2.1" fill="#111" stroke="#111" stroke-width="1.7"/>
<circle cx="315" cy="95.58" r="2.1" fill="#111" stroke="#111" stroke-width="1.7"/>
<circle cx="318" cy="95.47" r="2.1" fill="#111" stroke="#111" stroke-width="1.7"/>
<circle cx="321" cy="95.27" r="2.1" fill="#111" stroke="#111" stroke-width="1.7"/>
<circle cx="312" cy="95.15" r="2.1" fill="#111" stroke="#111" stroke-width="1.7"/>
<circle cx="323.5" cy="94.92" r="2.1" fill="#111" stroke="#111" stroke-width="1.7"/>
<circle cx="309.5" cy="94.77" r="2.1" fill="#111" stroke="#111" stroke-width="1.7"/>
<circle cx="316.5" cy="94.55" r="2.1" fill="#111" stroke="#111" stroke-width="1.7"/>
<circle cx="314" cy="94.27" r="2.1" fill="#111" stroke="#111" stroke-width="1.7"/>
<circle cx="319" cy="93.95" r="2.1" fill="#111" stroke="#111" stroke-width="1.7"/>
<circle cx="321.5" cy="93.82" r="2.1" fill="#111" stroke="#111" stroke-width="1.7"/>
<circle cx="311.5" cy="93.54" r="2.1" fill="#111" stroke="#111" stroke-width="1.7"/>
<circle cx="316.5" cy="93.18" r="2.1" fill="#111" stroke="#111" stroke-width="1.7"/>
<circle cx="323.5" cy="92.82" r="2.1" fill="none" stroke="#111" stroke-width="1.7"/>
<circle cx="314" cy="92.59" r="2.1" fill="none" stroke="#111" stroke-width="1.7"/>
<circle cx="309.5" cy="92.31" r="2.1" fill="none" stroke="#111" stroke-width="1.7"/>
<circle cx="319" cy="91.84" r="2.1" fill="none" stroke="#111" stroke-width="1.7"/>
<circle cx="316.5" cy="91.73" r="2.1" fill="none" stroke="#111" stroke-width="1.7"/>
<circle cx="321.5" cy="91.17" r="2.1" fill="none" stroke="#111" stroke-width="1.7"/>
<circle cx="312" cy="90.95" r="2.1" fill="none" stroke="#111" stroke-width="1.7"/>
<circle cx="314.5" cy="90.62" r="2.1" fill="none" stroke="#111" stroke-width="1.7"/>
<circle cx="317.5" cy="90.24" r="2.1" fill="none" stroke="#111" stroke-width="1.7"/>
<circle cx="345.6" cy="95.57" r="2.1" fill="none" stroke="#0f9e34" stroke-width="1.7"/>
<circle cx="349.6" cy="95.06" r="2.1" fill="none" stroke="#0f9e34" stroke-width="1.7"/>
<circle cx="341.6" cy="94.8" r="2.1" fill="none" stroke="#0f9e34" stroke-width="1.7"/>
<circle cx="353.1" cy="94.14" r="2.1" fill="none" stroke="#0f9e34" stroke-width="1.7"/>
<circle cx="338.1" cy="93.55" r="2.1" fill="none" stroke="#0f9e34" stroke-width="1.7"/>
<circle cx="347.1" cy="93.06" r="2.1" fill="none" stroke="#0f9e34" stroke-width="1.7"/>
<circle cx="343.6" cy="92.34" r="2.1" fill="none" stroke="#0f9e34" stroke-width="1.7"/>
<circle cx="350.6" cy="91.9" r="2.1" fill="none" stroke="#0f9e34" stroke-width="1.7"/>
<circle cx="340.6" cy="91.21" r="2.1" fill="none" stroke="#0f9e34" stroke-width="1.7"/>
<circle cx="354.1" cy="90.41" r="2.1" fill="none" stroke="#0f9e34" stroke-width="1.7"/>
<circle cx="346.1" cy="89.42" r="2.1" fill="none" stroke="#0f9e34" stroke-width="1.7"/>
<circle cx="337.6" cy="88.79" r="2.1" fill="none" stroke="#0f9e34" stroke-width="1.7"/>
<circle cx="342.6" cy="88.06" r="2.1" fill="none" stroke="#0f9e34" stroke-width="1.7"/>
<circle cx="349.1" cy="87.1" r="2.1" fill="none" stroke="#0f9e34" stroke-width="1.7"/>
<circle cx="353.1" cy="86.35" r="2.1" fill="none" stroke="#0f9e34" stroke-width="1.7"/>
<circle cx="345.6" cy="85.59" r="2.1" fill="none" stroke="#0f9e34" stroke-width="1.7"/>
<circle cx="342.1" cy="84.44" r="2.1" fill="none" stroke="#0f9e34" stroke-width="1.7"/>
<circle cx="348.6" cy="83.61" r="2.1" fill="none" stroke="#0f9e34" stroke-width="1.7"/>
<circle cx="338.6" cy="83.01" r="2.1" fill="none" stroke="#0f9e34" stroke-width="1.7"/>
<circle cx="345.1" cy="81.89" r="2.1" fill="none" stroke="#0f9e34" stroke-width="1.7"/>
<circle cx="351.1" cy="81" r="2.1" fill="none" stroke="#0f9e34" stroke-width="1.7"/>
<circle cx="342.1" cy="79.84" r="2.1" fill="none" stroke="#0f9e34" stroke-width="1.7"/>
<circle cx="345.6" cy="72.49" r="2.1" fill="none" stroke="#0f9e34" stroke-width="1.7"/>
<circle cx="345.6" cy="68.57" r="2.1" fill="none" stroke="#0f9e34" stroke-width="1.7"/>
<circle cx="373.7" cy="93.44" r="2.1" fill="none" stroke="#1c1ce6" stroke-width="1.7"/>
<circle cx="369.2" cy="93" r="2.1" fill="none" stroke="#1c1ce6" stroke-width="1.7"/>
<circle cx="377.7" cy="92.02" r="2.1" fill="none" stroke="#1c1ce6" stroke-width="1.7"/>
<circle cx="382.2" cy="91.75" r="2.1" fill="none" stroke="#1c1ce6" stroke-width="1.7"/>
<circle cx="365.2" cy="90.91" r="2.1" fill="none" stroke="#1c1ce6" stroke-width="1.7"/>
<circle cx="372.2" cy="90.02" r="2.1" fill="none" stroke="#1c1ce6" stroke-width="1.7"/>
<circle cx="375.7" cy="89.59" r="2.1" fill="none" stroke="#1c1ce6" stroke-width="1.7"/>
<circle cx="368.7" cy="88.64" r="2.1" fill="none" stroke="#1c1ce6" stroke-width="1.7"/>
<circle cx="379.7" cy="88.1" r="2.1" fill="none" stroke="#1c1ce6" stroke-width="1.7"/>
<circle cx="365.2" cy="86.91" r="2.1" fill="none" stroke="#1c1ce6" stroke-width="1.7"/>
<circle cx="373.7" cy="85.98" r="2.1" fill="none" stroke="#1c1ce6" stroke-width="1.7"/>
<circle cx="369.7" cy="85.18" r="2.1" fill="none" stroke="#1c1ce6" stroke-width="1.7"/>
<circle cx="377.7" cy="84.01" r="2.1" fill="none" stroke="#1c1ce6" stroke-width="1.7"/>
<circle cx="382.2" cy="83.39" r="2.1" fill="none" stroke="#1c1ce6" stroke-width="1.7"/>
<circle cx="373.7" cy="82.01" r="2.1" fill="none" stroke="#1c1ce6" stroke-width="1.7"/>
<circle cx="369.2" cy="80.91" r="2.1" fill="none" stroke="#1c1ce6" stroke-width="1.7"/>
<circle cx="377.2" cy="79.63" r="2.1" fill="none" stroke="#1c1ce6" stroke-width="1.7"/>
<circle cx="372.7" cy="78.31" r="2.1" fill="none" stroke="#1c1ce6" stroke-width="1.7"/>
<circle cx="368.7" cy="76.15" r="2.1" fill="none" stroke="#1c1ce6" stroke-width="1.7"/>
<circle cx="373.7" cy="73.77" r="2.1" fill="none" stroke="#1c1ce6" stroke-width="1.7"/>
<circle cx="369.7" cy="71.64" r="2.1" fill="none" stroke="#1c1ce6" stroke-width="1.7"/>
<circle cx="373.7" cy="62.16" r="2.1" fill="none" stroke="#1c1ce6" stroke-width="1.7"/>
<circle cx="373.7" cy="54.32" r="2.1" fill="none" stroke="#1c1ce6" stroke-width="1.7"/>
<circle cx="373.7" cy="43.63" r="2.1" fill="none" stroke="#1c1ce6" stroke-width="1.7"/>
<line x1="316.5" y1="95.29" x2="316.5" y2="93.15" stroke="#ff2a3a" stroke-width="1.2" />
<line x1="306.5" y1="94.22" x2="326.5" y2="94.22" stroke="#ff2a3a" stroke-width="1.3" />
<line x1="312.5" y1="93.15" x2="320.5" y2="93.15" stroke="#ff2a3a" stroke-width="1.3" />
<line x1="312.5" y1="95.29" x2="320.5" y2="95.29" stroke="#ff2a3a" stroke-width="1.3" />
<line x1="345.6" y1="93.93" x2="345.6" y2="79.97" stroke="#ff2a3a" stroke-width="1.2" />
<line x1="335.6" y1="86.95" x2="355.6" y2="86.95" stroke="#ff2a3a" stroke-width="1.3" />
<line x1="340.6" y1="79.97" x2="350.6" y2="79.97" stroke="#ff2a3a" stroke-width="1.3" />
<line x1="340.6" y1="93.93" x2="350.6" y2="93.93" stroke="#ff2a3a" stroke-width="1.3" />
<line x1="373.7" y1="90.44" x2="373.7" y2="66.64" stroke="#ff2a3a" stroke-width="1.2" />
<line x1="363.7" y1="78.54" x2="383.7" y2="78.54" stroke="#ff2a3a" stroke-width="1.3" />
<line x1="368.7" y1="66.64" x2="378.7" y2="66.64" stroke="#ff2a3a" stroke-width="1.3" />
<line x1="368.7" y1="90.44" x2="378.7" y2="90.44" stroke="#ff2a3a" stroke-width="1.3" />
<line x1="302.5" y1="38.5" x2="302.5" y2="96.6" stroke="#111" stroke-width="1.3" />
<line x1="301.9" y1="96" x2="388" y2="96" stroke="#111" stroke-width="1.3" />
<line x1="300" y1="96" x2="302.5" y2="96" stroke="#111" stroke-width="1.2" />
<text x="298.6" y="98.9" font-size="9.4" text-anchor="end" fill="#111" stroke="#111" >0</text>
<line x1="300" y1="67.5" x2="302.5" y2="67.5" stroke="#111" stroke-width="1.2" />
<text x="298.6" y="70.4" font-size="9.4" text-anchor="end" fill="#111" stroke="#111" >40</text>
<line x1="300" y1="39" x2="302.5" y2="39" stroke="#111" stroke-width="1.2" />
<text x="298.6" y="41.9" font-size="9.4" text-anchor="end" fill="#111" stroke="#111" >80</text>
<line x1="316.5" y1="96" x2="316.5" y2="98" stroke="#111" stroke-width="1" />
<line x1="345.6" y1="96" x2="345.6" y2="98" stroke="#111" stroke-width="1" />
<line x1="373.7" y1="96" x2="373.7" y2="98" stroke="#111" stroke-width="1" />
<text x="0" y="0" transform="translate(285.7,65.8) rotate(-90)" font-size="10.3" text-anchor="middle" fill="#111" stroke="#111" >Cells %</text>
<text x="314.8" y="109.3" font-size="10" text-anchor="middle" fill="#111" stroke="#111" >PBMC</text>
<text x="346.3" y="109.3" font-size="10" text-anchor="middle" fill="#111" stroke="#111" >NILs</text>
<text x="374.1" y="109.3" font-size="10" text-anchor="middle" fill="#111" stroke="#111" >TILs</text>
<line x1="319.6" y1="36.1" x2="375.6" y2="36.1" stroke="#111" stroke-width="1.4" />
<text x="348.9" y="36.4" font-size="8.6" text-anchor="middle" fill="#111" stroke="#111" style="stroke-width:0.75px;stroke-linejoin:round" letter-spacing="1.0">***</text>
<line x1="319.6" y1="49.8" x2="345" y2="49.8" stroke="#111" stroke-width="1.4" />
<text x="333.6" y="50.1" font-size="8.6" text-anchor="middle" fill="#111" stroke="#111" style="stroke-width:0.75px;stroke-linejoin:round" letter-spacing="1.0">***</text>
<line x1="349.6" y1="49.8" x2="375.6" y2="49.8" stroke="#111" stroke-width="1.4" />
<text x="363.9" y="50.1" font-size="8.6" text-anchor="middle" fill="#111" stroke="#111" style="stroke-width:0.75px;stroke-linejoin:round" letter-spacing="1.0">***</text>
<circle cx="447.3" cy="86.37" r="2.1" fill="#111" stroke="#111" stroke-width="1.7"/>
<circle cx="444.8" cy="86.36" r="2.1" fill="#111" stroke="#111" stroke-width="1.7"/>
<circle cx="449.8" cy="86.34" r="2.1" fill="#111" stroke="#111" stroke-width="1.7"/>
<circle cx="442.3" cy="86.27" r="2.1" fill="#111" stroke="#111" stroke-width="1.7"/>
<circle cx="452.3" cy="86.23" r="2.1" fill="#111" stroke="#111" stroke-width="1.7"/>
<circle cx="440.8" cy="86.13" r="2.1" fill="#111" stroke="#111" stroke-width="1.7"/>
<circle cx="453.8" cy="86" r="2.1" fill="#111" stroke="#111" stroke-width="1.7"/>
<circle cx="446.3" cy="85.96" r="2.1" fill="#111" stroke="#111" stroke-width="1.7"/>
<circle cx="448.8" cy="85.84" r="2.1" fill="#111" stroke="#111" stroke-width="1.7"/>
<circle cx="443.8" cy="85.65" r="2.1" fill="#111" stroke="#111" stroke-width="1.7"/>
<circle cx="451.3" cy="85.52" r="2.1" fill="#111" stroke="#111" stroke-width="1.7"/>
<circle cx="447.3" cy="85.28" r="2.1" fill="#111" stroke="#111" stroke-width="1.7"/>
<circle cx="440.8" cy="85.18" r="2.1" fill="#111" stroke="#111" stroke-width="1.7"/>
<circle cx="445.3" cy="84.85" r="2.1" fill="#111" stroke="#111" stroke-width="1.7"/>
<circle cx="449.8" cy="84.62" r="2.1" fill="#111" stroke="#111" stroke-width="1.7"/>
<circle cx="453.8" cy="84.39" r="2.1" fill="#111" stroke="#111" stroke-width="1.7"/>
<circle cx="442.8" cy="84.19" r="2.1" fill="#111" stroke="#111" stroke-width="1.7"/>
<circle cx="447.3" cy="83.95" r="2.1" fill="#111" stroke="#111" stroke-width="1.7"/>
<circle cx="451.8" cy="83.58" r="2.1" fill="#111" stroke="#111" stroke-width="1.7"/>
<circle cx="444.8" cy="83.3" r="2.1" fill="#111" stroke="#111" stroke-width="1.7"/>
<circle cx="449.3" cy="83" r="2.1" fill="#111" stroke="#111" stroke-width="1.7"/>
<circle cx="440.8" cy="82.68" r="2.1" fill="none" stroke="#111" stroke-width="1.7"/>
<circle cx="446.8" cy="82.31" r="2.1" fill="none" stroke="#111" stroke-width="1.7"/>
<circle cx="443.3" cy="81.88" r="2.1" fill="none" stroke="#111" stroke-width="1.7"/>
<circle cx="450.8" cy="81.44" r="2.1" fill="none" stroke="#111" stroke-width="1.7"/>
<circle cx="448.3" cy="81.01" r="2.1" fill="none" stroke="#111" stroke-width="1.7"/>
<circle cx="445.3" cy="80.81" r="2.1" fill="none" stroke="#111" stroke-width="1.7"/>
<circle cx="452.8" cy="80.34" r="2.1" fill="none" stroke="#111" stroke-width="1.7"/>
<circle cx="474.8" cy="86.37" r="2.1" fill="#0f9e34" stroke="#0f9e34" stroke-width="1.7"/>
<circle cx="477.3" cy="86.32" r="2.1" fill="#0f9e34" stroke="#0f9e34" stroke-width="1.7"/>
<circle cx="472.3" cy="86.25" r="2.1" fill="#0f9e34" stroke="#0f9e34" stroke-width="1.7"/>
<circle cx="479.8" cy="86.16" r="2.1" fill="#0f9e34" stroke="#0f9e34" stroke-width="1.7"/>
<circle cx="469.8" cy="86.03" r="2.1" fill="#0f9e34" stroke="#0f9e34" stroke-width="1.7"/>
<circle cx="481.8" cy="85.85" r="2.1" fill="#0f9e34" stroke="#0f9e34" stroke-width="1.7"/>
<circle cx="467.8" cy="85.64" r="2.1" fill="#0f9e34" stroke="#0f9e34" stroke-width="1.7"/>
<circle cx="475.8" cy="85.33" r="2.1" fill="#0f9e34" stroke="#0f9e34" stroke-width="1.7"/>
<circle cx="473.3" cy="85.09" r="2.1" fill="#0f9e34" stroke="#0f9e34" stroke-width="1.7"/>
<circle cx="478.3" cy="84.83" r="2.1" fill="#0f9e34" stroke="#0f9e34" stroke-width="1.7"/>
<circle cx="470.8" cy="84.51" r="2.1" fill="#0f9e34" stroke="#0f9e34" stroke-width="1.7"/>
<circle cx="474.8" cy="84.19" r="2.1" fill="#0f9e34" stroke="#0f9e34" stroke-width="1.7"/>
<circle cx="480.3" cy="83.93" r="2.1" fill="#0f9e34" stroke="#0f9e34" stroke-width="1.7"/>
<circle cx="476.8" cy="83.52" r="2.1" fill="#0f9e34" stroke="#0f9e34" stroke-width="1.7"/>
<circle cx="472.8" cy="83.34" r="2.1" fill="#0f9e34" stroke="#0f9e34" stroke-width="1.7"/>
<circle cx="469.3" cy="82.76" r="2.1" fill="#0f9e34" stroke="#0f9e34" stroke-width="1.7"/>
<circle cx="474.8" cy="82.36" r="2.1" fill="#0f9e34" stroke="#0f9e34" stroke-width="1.7"/>
<circle cx="478.8" cy="82.01" r="2.1" fill="#0f9e34" stroke="#0f9e34" stroke-width="1.7"/>
<circle cx="471.3" cy="81.46" r="2.1" fill="#0f9e34" stroke="#0f9e34" stroke-width="1.7"/>
<circle cx="476.8" cy="80.83" r="2.1" fill="#0f9e34" stroke="#0f9e34" stroke-width="1.7"/>
<circle cx="473.8" cy="80.49" r="2.1" fill="#0f9e34" stroke="#0f9e34" stroke-width="1.7"/>
<circle cx="479.3" cy="79.9" r="2.1" fill="#0f9e34" stroke="#0f9e34" stroke-width="1.7"/>
<circle cx="475.3" cy="79.49" r="2.1" fill="#0f9e34" stroke="#0f9e34" stroke-width="1.7"/>
<circle cx="471.8" cy="78.91" r="2.1" fill="#0f9e34" stroke="#0f9e34" stroke-width="1.7"/>
<circle cx="477.3" cy="78.1" r="2.1" fill="none" stroke="#0f9e34" stroke-width="1.7"/>
<circle cx="473.8" cy="77.85" r="2.1" fill="none" stroke="#0f9e34" stroke-width="1.7"/>
<circle cx="470.3" cy="77.16" r="2.1" fill="none" stroke="#0f9e34" stroke-width="1.7"/>
<circle cx="475.3" cy="76.3" r="2.1" fill="none" stroke="#0f9e34" stroke-width="1.7"/>
<circle cx="472.8" cy="75.74" r="2.1" fill="none" stroke="#0f9e34" stroke-width="1.7"/>
<circle cx="477.3" cy="75.24" r="2.1" fill="none" stroke="#0f9e34" stroke-width="1.7"/>
<circle cx="474.8" cy="57.5" r="2.1" fill="none" stroke="#0f9e34" stroke-width="1.7"/>
<circle cx="502.6" cy="86.51" r="2.1" fill="none" stroke="#1c1ce6" stroke-width="1.7"/>
<circle cx="498.1" cy="86.51" r="2.1" fill="none" stroke="#1c1ce6" stroke-width="1.7"/>
<circle cx="507.1" cy="85.69" r="2.1" fill="none" stroke="#1c1ce6" stroke-width="1.7"/>
<circle cx="494.6" cy="85" r="2.1" fill="none" stroke="#1c1ce6" stroke-width="1.7"/>
<circle cx="510.6" cy="84.31" r="2.1" fill="none" stroke="#1c1ce6" stroke-width="1.7"/>
<circle cx="500.6" cy="84.04" r="2.1" fill="none" stroke="#1c1ce6" stroke-width="1.7"/>
<circle cx="504.6" cy="82.94" r="2.1" fill="none" stroke="#1c1ce6" stroke-width="1.7"/>
<circle cx="497.1" cy="82.25" r="2.1" fill="none" stroke="#1c1ce6" stroke-width="1.7"/>
<circle cx="508.1" cy="81.97" r="2.1" fill="none" stroke="#1c1ce6" stroke-width="1.7"/>
<circle cx="501.1" cy="81.01" r="2.1" fill="none" stroke="#1c1ce6" stroke-width="1.7"/>
<circle cx="494.6" cy="80.88" r="2.1" fill="none" stroke="#1c1ce6" stroke-width="1.7"/>
<circle cx="505.1" cy="78.81" r="2.1" fill="none" stroke="#1c1ce6" stroke-width="1.7"/>
<circle cx="498.1" cy="77.99" r="2.1" fill="none" stroke="#1c1ce6" stroke-width="1.7"/>
<circle cx="509.6" cy="77.44" r="2.1" fill="none" stroke="#1c1ce6" stroke-width="1.7"/>
<circle cx="502.1" cy="75.38" r="2.1" fill="none" stroke="#1c1ce6" stroke-width="1.7"/>
<circle cx="506.6" cy="74.55" r="2.1" fill="none" stroke="#1c1ce6" stroke-width="1.7"/>
<circle cx="496.1" cy="74" r="2.1" fill="none" stroke="#1c1ce6" stroke-width="1.7"/>
<circle cx="502.6" cy="69.19" r="2.1" fill="none" stroke="#1c1ce6" stroke-width="1.7"/>
<circle cx="507.1" cy="68.09" r="2.1" fill="none" stroke="#1c1ce6" stroke-width="1.7"/>
<circle cx="499.6" cy="65.89" r="2.1" fill="none" stroke="#1c1ce6" stroke-width="1.7"/>
<circle cx="502.6" cy="62.31" r="2.1" fill="none" stroke="#1c1ce6" stroke-width="1.7"/>
<line x1="447.3" y1="86.65" x2="447.3" y2="83.35" stroke="#ff2a3a" stroke-width="1.2" />
<line x1="438.3" y1="85" x2="456.3" y2="85" stroke="#ff2a3a" stroke-width="1.3" />
<line x1="438.8" y1="83.35" x2="455.8" y2="83.35" stroke="#ff2a3a" stroke-width="1.3" />
<line x1="438.8" y1="86.65" x2="455.8" y2="86.65" stroke="#ff2a3a" stroke-width="1.3" />
<line x1="474.8" y1="87.75" x2="474.8" y2="76.75" stroke="#ff2a3a" stroke-width="1.2" />
<line x1="466.1" y1="82.25" x2="483.5" y2="82.25" stroke="#ff2a3a" stroke-width="1.3" />
<line x1="470.8" y1="76.75" x2="478.8" y2="76.75" stroke="#ff2a3a" stroke-width="1.3" />
<line x1="470.8" y1="87.75" x2="478.8" y2="87.75" stroke="#ff2a3a" stroke-width="1.3" />
<line x1="502.6" y1="84.45" x2="502.6" y2="70.7" stroke="#ff2a3a" stroke-width="1.2" />
<line x1="492.6" y1="77.58" x2="512.6" y2="77.58" stroke="#ff2a3a" stroke-width="1.3" />
<line x1="497.6" y1="70.7" x2="507.6" y2="70.7" stroke="#ff2a3a" stroke-width="1.3" />
<line x1="497.6" y1="84.45" x2="507.6" y2="84.45" stroke="#ff2a3a" stroke-width="1.3" />
<line x1="433.2" y1="40.5" x2="433.2" y2="96.6" stroke="#111" stroke-width="1.3" />
<line x1="432.6" y1="96" x2="517" y2="96" stroke="#111" stroke-width="1.3" />
<line x1="430.7" y1="96" x2="433.2" y2="96" stroke="#111" stroke-width="1.2" />
<text x="430" y="99.3" font-size="9.4" text-anchor="end" fill="#111" stroke="#111" >0</text>
<line x1="430.7" y1="68.5" x2="433.2" y2="68.5" stroke="#111" stroke-width="1.2" />
<text x="430" y="71.8" font-size="9.4" text-anchor="end" fill="#111" stroke="#111" >2</text>
<line x1="430.7" y1="41" x2="433.2" y2="41" stroke="#111" stroke-width="1.2" />
<text x="430" y="44.3" font-size="9.4" text-anchor="end" fill="#111" stroke="#111" >4</text>
<line x1="447.3" y1="96" x2="447.3" y2="98" stroke="#111" stroke-width="1" />
<line x1="474.8" y1="96" x2="474.8" y2="98" stroke="#111" stroke-width="1" />
<line x1="502.6" y1="96" x2="502.6" y2="98" stroke="#111" stroke-width="1" />
<text x="0" y="0" transform="translate(417.6,68.5) rotate(-90)" font-size="10.8" text-anchor="middle" fill="#111" stroke="#111" >MFI (x1000)</text>
<text x="448" y="109.3" font-size="10" text-anchor="middle" fill="#111" stroke="#111" >PBMC</text>
<text x="479.4" y="109.3" font-size="10" text-anchor="middle" fill="#111" stroke="#111" >NILs</text>
<text x="507.3" y="109.3" font-size="10" text-anchor="middle" fill="#111" stroke="#111" >TILs</text>
<line x1="447.6" y1="36.1" x2="503.4" y2="36.1" stroke="#111" stroke-width="1.4" />
<text x="476.8" y="36.4" font-size="8.6" text-anchor="middle" fill="#111" stroke="#111" style="stroke-width:0.75px;stroke-linejoin:round" letter-spacing="1.0">***</text>
<line x1="447.6" y1="49.8" x2="472.6" y2="49.8" stroke="#111" stroke-width="1.4" />
<text x="461.4" y="50.1" font-size="8.6" text-anchor="middle" fill="#111" stroke="#111" style="stroke-width:0.75px;stroke-linejoin:round" letter-spacing="1.0">***</text>
<line x1="477" y1="49.8" x2="503.4" y2="49.8" stroke="#111" stroke-width="1.4" />
<text x="491.3" y="50.1" font-size="8.6" text-anchor="middle" fill="#111" stroke="#111" style="stroke-width:0.75px;stroke-linejoin:round" letter-spacing="1.0">**</text>
<circle cx="318.6" cy="211.57" r="2.1" fill="none" stroke="#111" stroke-width="1.7"/>
<circle cx="316.1" cy="211.51" r="2.1" fill="none" stroke="#111" stroke-width="1.7"/>
<circle cx="321.1" cy="211.48" r="2.1" fill="none" stroke="#111" stroke-width="1.7"/>
<circle cx="313.6" cy="211.4" r="2.1" fill="none" stroke="#111" stroke-width="1.7"/>
<circle cx="323.6" cy="211.36" r="2.1" fill="none" stroke="#111" stroke-width="1.7"/>
<circle cx="326.1" cy="211.31" r="2.1" fill="none" stroke="#111" stroke-width="1.7"/>
<circle cx="311.1" cy="211.23" r="2.1" fill="none" stroke="#111" stroke-width="1.7"/>
<circle cx="317.6" cy="211.18" r="2.1" fill="none" stroke="#111" stroke-width="1.7"/>
<circle cx="320.1" cy="211.12" r="2.1" fill="none" stroke="#111" stroke-width="1.7"/>
<circle cx="315.1" cy="211.09" r="2.1" fill="none" stroke="#111" stroke-width="1.7"/>
<circle cx="322.6" cy="211.03" r="2.1" fill="none" stroke="#111" stroke-width="1.7"/>
<circle cx="312.6" cy="210.96" r="2.1" fill="none" stroke="#111" stroke-width="1.7"/>
<circle cx="325.1" cy="210.91" r="2.1" fill="none" stroke="#111" stroke-width="1.7"/>
<circle cx="319.1" cy="210.87" r="2.1" fill="none" stroke="#111" stroke-width="1.7"/>
<circle cx="316.6" cy="210.8" r="2.1" fill="none" stroke="#111" stroke-width="1.7"/>
<circle cx="311.1" cy="210.76" r="2.1" fill="none" stroke="#111" stroke-width="1.7"/>
<circle cx="321.6" cy="210.69" r="2.1" fill="none" stroke="#111" stroke-width="1.7"/>
<circle cx="314.1" cy="210.65" r="2.1" fill="none" stroke="#111" stroke-width="1.7"/>
<circle cx="324.1" cy="210.61" r="2.1" fill="none" stroke="#111" stroke-width="1.7"/>
<circle cx="326.1" cy="210.53" r="2.1" fill="none" stroke="#111" stroke-width="1.7"/>
<circle cx="318.1" cy="210.5" r="2.1" fill="none" stroke="#111" stroke-width="1.7"/>
<circle cx="320.6" cy="210.43" r="2.1" fill="none" stroke="#111" stroke-width="1.7"/>
<circle cx="315.6" cy="210.4" r="2.1" fill="none" stroke="#111" stroke-width="1.7"/>
<circle cx="312.1" cy="210.31" r="2.1" fill="none" stroke="#111" stroke-width="1.7"/>
<circle cx="323.1" cy="210.27" r="2.1" fill="none" stroke="#111" stroke-width="1.7"/>
<circle cx="313.6" cy="210.21" r="2.1" fill="none" stroke="#111" stroke-width="1.7"/>
<circle cx="347" cy="211.25" r="2.1" fill="#0f9e34" stroke="#0f9e34" stroke-width="1.7"/>
<circle cx="344" cy="211.18" r="2.1" fill="#0f9e34" stroke="#0f9e34" stroke-width="1.7"/>
<circle cx="350" cy="211.1" r="2.1" fill="#0f9e34" stroke="#0f9e34" stroke-width="1.7"/>
<circle cx="353" cy="210.99" r="2.1" fill="#0f9e34" stroke="#0f9e34" stroke-width="1.7"/>
<circle cx="341" cy="210.77" r="2.1" fill="#0f9e34" stroke="#0f9e34" stroke-width="1.7"/>
<circle cx="355" cy="210.68" r="2.1" fill="#0f9e34" stroke="#0f9e34" stroke-width="1.7"/>
<circle cx="339" cy="210.4" r="2.1" fill="#0f9e34" stroke="#0f9e34" stroke-width="1.7"/>
<circle cx="345.5" cy="210.22" r="2.1" fill="#0f9e34" stroke="#0f9e34" stroke-width="1.7"/>
<circle cx="348.5" cy="209.79" r="2.1" fill="#0f9e34" stroke="#0f9e34" stroke-width="1.7"/>
<circle cx="351.5" cy="209.47" r="2.1" fill="#0f9e34" stroke="#0f9e34" stroke-width="1.7"/>
<circle cx="343" cy="209.33" r="2.1" fill="#0f9e34" stroke="#0f9e34" stroke-width="1.7"/>
<circle cx="354" cy="208.87" r="2.1" fill="#0f9e34" stroke="#0f9e34" stroke-width="1.7"/>
<circle cx="346.5" cy="208.49" r="2.1" fill="#0f9e34" stroke="#0f9e34" stroke-width="1.7"/>
<circle cx="340.5" cy="208" r="2.1" fill="#0f9e34" stroke="#0f9e34" stroke-width="1.7"/>
<circle cx="349.5" cy="207.56" r="2.1" fill="#0f9e34" stroke="#0f9e34" stroke-width="1.7"/>
<circle cx="344" cy="207.22" r="2.1" fill="#0f9e34" stroke="#0f9e34" stroke-width="1.7"/>
<circle cx="352" cy="206.53" r="2.1" fill="#0f9e34" stroke="#0f9e34" stroke-width="1.7"/>
<circle cx="347" cy="206.29" r="2.1" fill="#0f9e34" stroke="#0f9e34" stroke-width="1.7"/>
<circle cx="342" cy="205.77" r="2.1" fill="#0f9e34" stroke="#0f9e34" stroke-width="1.7"/>
<circle cx="349.5" cy="204.95" r="2.1" fill="none" stroke="#0f9e34" stroke-width="1.7"/>
<circle cx="345" cy="204.65" r="2.1" fill="none" stroke="#0f9e34" stroke-width="1.7"/>
<circle cx="353.5" cy="204.03" r="2.1" fill="none" stroke="#0f9e34" stroke-width="1.7"/>
<circle cx="347.5" cy="203.27" r="2.1" fill="none" stroke="#0f9e34" stroke-width="1.7"/>
<circle cx="343" cy="202.69" r="2.1" fill="none" stroke="#0f9e34" stroke-width="1.7"/>
<circle cx="350" cy="202.1" r="2.1" fill="none" stroke="#0f9e34" stroke-width="1.7"/>
<circle cx="345.5" cy="201.04" r="2.1" fill="none" stroke="#0f9e34" stroke-width="1.7"/>
<circle cx="348" cy="200.55" r="2.1" fill="none" stroke="#0f9e34" stroke-width="1.7"/>
<circle cx="343" cy="199.64" r="2.1" fill="none" stroke="#0f9e34" stroke-width="1.7"/>
<circle cx="350.5" cy="199.17" r="2.1" fill="none" stroke="#0f9e34" stroke-width="1.7"/>
<circle cx="346.5" cy="198.02" r="2.1" fill="none" stroke="#0f9e34" stroke-width="1.7"/>
<circle cx="375.3" cy="210.52" r="2.1" fill="none" stroke="#1c1ce6" stroke-width="1.7"/>
<circle cx="371.3" cy="208.69" r="2.1" fill="none" stroke="#1c1ce6" stroke-width="1.7"/>
<circle cx="378.3" cy="207.71" r="2.1" fill="none" stroke="#1c1ce6" stroke-width="1.7"/>
<circle cx="374.3" cy="206.17" r="2.1" fill="none" stroke="#1c1ce6" stroke-width="1.7"/>
<circle cx="368.8" cy="205.11" r="2.1" fill="none" stroke="#1c1ce6" stroke-width="1.7"/>
<circle cx="380.3" cy="204" r="2.1" fill="none" stroke="#1c1ce6" stroke-width="1.7"/>
<circle cx="376.3" cy="202.85" r="2.1" fill="none" stroke="#1c1ce6" stroke-width="1.7"/>
<circle cx="372.3" cy="201.34" r="2.1" fill="none" stroke="#1c1ce6" stroke-width="1.7"/>
<circle cx="381.8" cy="200.46" r="2.1" fill="none" stroke="#1c1ce6" stroke-width="1.7"/>
<circle cx="368.8" cy="199.52" r="2.1" fill="none" stroke="#1c1ce6" stroke-width="1.7"/>
<circle cx="375.3" cy="197.58" r="2.1" fill="none" stroke="#1c1ce6" stroke-width="1.7"/>
<circle cx="379.3" cy="196.44" r="2.1" fill="none" stroke="#1c1ce6" stroke-width="1.7"/>
<circle cx="371.8" cy="195.32" r="2.1" fill="none" stroke="#1c1ce6" stroke-width="1.7"/>
<circle cx="375.8" cy="194.03" r="2.1" fill="none" stroke="#1c1ce6" stroke-width="1.7"/>
<circle cx="381.8" cy="193.24" r="2.1" fill="none" stroke="#1c1ce6" stroke-width="1.7"/>
<circle cx="369.3" cy="191.8" r="2.1" fill="none" stroke="#1c1ce6" stroke-width="1.7"/>
<circle cx="375.3" cy="182.69" r="2.1" fill="none" stroke="#1c1ce6" stroke-width="1.7"/>
<circle cx="371.3" cy="180.58" r="2.1" fill="none" stroke="#1c1ce6" stroke-width="1.7"/>
<circle cx="375.3" cy="176.35" r="2.1" fill="none" stroke="#1c1ce6" stroke-width="1.7"/>
<circle cx="375.3" cy="167.19" r="2.1" fill="none" stroke="#1c1ce6" stroke-width="1.7"/>
<line x1="318.6" y1="211.46" x2="318.6" y2="211.04" stroke="#ff2a3a" stroke-width="1.2" />
<line x1="308.6" y1="211.25" x2="328.6" y2="211.25" stroke="#ff2a3a" stroke-width="1.3" />
<line x1="313.6" y1="211.04" x2="323.6" y2="211.04" stroke="#ff2a3a" stroke-width="1.3" />
<line x1="313.6" y1="211.46" x2="323.6" y2="211.46" stroke="#ff2a3a" stroke-width="1.3" />
<line x1="347" y1="209.7" x2="347" y2="202.65" stroke="#ff2a3a" stroke-width="1.2" />
<line x1="337" y1="206.17" x2="357" y2="206.17" stroke="#ff2a3a" stroke-width="1.3" />
<line x1="342" y1="202.65" x2="352" y2="202.65" stroke="#ff2a3a" stroke-width="1.3" />
<line x1="342" y1="209.7" x2="352" y2="209.7" stroke="#ff2a3a" stroke-width="1.3" />
<line x1="375.3" y1="207.37" x2="375.3" y2="183.4" stroke="#ff2a3a" stroke-width="1.2" />
<line x1="365.3" y1="195.38" x2="385.3" y2="195.38" stroke="#ff2a3a" stroke-width="1.3" />
<line x1="370.3" y1="183.4" x2="380.3" y2="183.4" stroke="#ff2a3a" stroke-width="1.3" />
<line x1="370.3" y1="207.37" x2="380.3" y2="207.37" stroke="#ff2a3a" stroke-width="1.3" />
<line x1="304.3" y1="154.7" x2="304.3" y2="212.2" stroke="#111" stroke-width="1.3" />
<line x1="303.7" y1="211.6" x2="389" y2="211.6" stroke="#111" stroke-width="1.3" />
<line x1="301.8" y1="211.6" x2="304.3" y2="211.6" stroke="#111" stroke-width="1.2" />
<text x="298.5" y="212.7" font-size="9.4" text-anchor="end" fill="#111" stroke="#111" >0</text>
<line x1="301.8" y1="183.4" x2="304.3" y2="183.4" stroke="#111" stroke-width="1.2" />
<text x="298.5" y="184.5" font-size="9.4" text-anchor="end" fill="#111" stroke="#111" >40</text>
<line x1="301.8" y1="155.2" x2="304.3" y2="155.2" stroke="#111" stroke-width="1.2" />
<text x="298.5" y="156.3" font-size="9.4" text-anchor="end" fill="#111" stroke="#111" >80</text>
<line x1="318.6" y1="211.6" x2="318.6" y2="213.6" stroke="#111" stroke-width="1" />
<line x1="347" y1="211.6" x2="347" y2="213.6" stroke="#111" stroke-width="1" />
<line x1="375.3" y1="211.6" x2="375.3" y2="213.6" stroke="#111" stroke-width="1" />
<text x="0" y="0" transform="translate(285.9,180.5) rotate(-90)" font-size="10.3" text-anchor="middle" fill="#111" stroke="#111" >Cells %</text>
<text x="314.8" y="226" font-size="10" text-anchor="middle" fill="#111" stroke="#111" >PBMC</text>
<text x="345.3" y="226" font-size="10" text-anchor="middle" fill="#111" stroke="#111" >NILs</text>
<text x="374.1" y="226" font-size="10" text-anchor="middle" fill="#111" stroke="#111" >TILs</text>
<line x1="319" y1="149" x2="375.6" y2="149" stroke="#111" stroke-width="1.4" />
<text x="348.6" y="149.3" font-size="8.6" text-anchor="middle" fill="#111" stroke="#111" style="stroke-width:0.75px;stroke-linejoin:round" letter-spacing="1.0">***</text>
<line x1="319" y1="162" x2="344" y2="162" stroke="#111" stroke-width="1.4" />
<text x="332.8" y="162.3" font-size="8.6" text-anchor="middle" fill="#111" stroke="#111" style="stroke-width:0.75px;stroke-linejoin:round" letter-spacing="1.0">***</text>
<line x1="348.6" y1="162" x2="375.6" y2="162" stroke="#111" stroke-width="1.4" />
<text x="363.4" y="162.3" font-size="8.6" text-anchor="middle" fill="#111" stroke="#111" style="stroke-width:0.75px;stroke-linejoin:round" letter-spacing="1.0">***</text>
<circle cx="451.4" cy="203.97" r="2.1" fill="#111" stroke="#111" stroke-width="1.7"/>
<circle cx="448.9" cy="203.89" r="2.1" fill="#111" stroke="#111" stroke-width="1.7"/>
<circle cx="453.9" cy="203.79" r="2.1" fill="#111" stroke="#111" stroke-width="1.7"/>
<circle cx="446.4" cy="203.71" r="2.1" fill="#111" stroke="#111" stroke-width="1.7"/>
<circle cx="456.4" cy="203.49" r="2.1" fill="#111" stroke="#111" stroke-width="1.7"/>
<circle cx="444.4" cy="203.38" r="2.1" fill="#111" stroke="#111" stroke-width="1.7"/>
<circle cx="458.4" cy="203.15" r="2.1" fill="#111" stroke="#111" stroke-width="1.7"/>
<circle cx="450.4" cy="202.95" r="2.1" fill="#111" stroke="#111" stroke-width="1.7"/>
<circle cx="452.9" cy="202.75" r="2.1" fill="#111" stroke="#111" stroke-width="1.7"/>
<circle cx="447.9" cy="202.4" r="2.1" fill="#111" stroke="#111" stroke-width="1.7"/>
<circle cx="455.4" cy="202.24" r="2.1" fill="#111" stroke="#111" stroke-width="1.7"/>
<circle cx="445.4" cy="201.96" r="2.1" fill="#111" stroke="#111" stroke-width="1.7"/>
<circle cx="451.4" cy="201.65" r="2.1" fill="#111" stroke="#111" stroke-width="1.7"/>
<circle cx="457.4" cy="201.28" r="2.1" fill="#111" stroke="#111" stroke-width="1.7"/>
<circle cx="449.4" cy="200.92" r="2.1" fill="#111" stroke="#111" stroke-width="1.7"/>
<circle cx="453.9" cy="200.64" r="2.1" fill="#111" stroke="#111" stroke-width="1.7"/>
<circle cx="446.9" cy="200.35" r="2.1" fill="#111" stroke="#111" stroke-width="1.7"/>
<circle cx="451.4" cy="199.95" r="2.1" fill="#111" stroke="#111" stroke-width="1.7"/>
<circle cx="455.9" cy="199.6" r="2.1" fill="#111" stroke="#111" stroke-width="1.7"/>
<circle cx="448.9" cy="199.12" r="2.1" fill="#111" stroke="#111" stroke-width="1.7"/>
<circle cx="453.4" cy="198.72" r="2.1" fill="#111" stroke="#111" stroke-width="1.7"/>
<circle cx="445.4" cy="198.38" r="2.1" fill="#111" stroke="#111" stroke-width="1.7"/>
<circle cx="450.9" cy="198.12" r="2.1" fill="#111" stroke="#111" stroke-width="1.7"/>
<circle cx="457.4" cy="197.59" r="2.1" fill="#111" stroke="#111" stroke-width="1.7"/>
<circle cx="447.4" cy="197.19" r="2.1" fill="#111" stroke="#111" stroke-width="1.7"/>
<circle cx="454.9" cy="196.8" r="2.1" fill="none" stroke="#111" stroke-width="1.7"/>
<circle cx="452.4" cy="196.16" r="2.1" fill="none" stroke="#111" stroke-width="1.7"/>
<circle cx="449.9" cy="195.88" r="2.1" fill="none" stroke="#111" stroke-width="1.7"/>
<circle cx="451.4" cy="190.21" r="2.1" fill="none" stroke="#111" stroke-width="1.7"/>
<circle cx="451.4" cy="182.9" r="2.1" fill="none" stroke="#111" stroke-width="1.7"/>
<circle cx="451.4" cy="173.77" r="2.1" fill="none" stroke="#111" stroke-width="1.7"/>
<circle cx="479.7" cy="196.23" r="2.1" fill="#0f9e34" stroke="#0f9e34" stroke-width="1.7"/>
<circle cx="482.7" cy="196.15" r="2.1" fill="#0f9e34" stroke="#0f9e34" stroke-width="1.7"/>
<circle cx="476.7" cy="196.02" r="2.1" fill="#0f9e34" stroke="#0f9e34" stroke-width="1.7"/>
<circle cx="473.7" cy="195.78" r="2.1" fill="#0f9e34" stroke="#0f9e34" stroke-width="1.7"/>
<circle cx="485.7" cy="195.51" r="2.1" fill="#0f9e34" stroke="#0f9e34" stroke-width="1.7"/>
<circle cx="472.2" cy="195.14" r="2.1" fill="#0f9e34" stroke="#0f9e34" stroke-width="1.7"/>
<circle cx="481.2" cy="194.78" r="2.1" fill="#0f9e34" stroke="#0f9e34" stroke-width="1.7"/>
<circle cx="478.2" cy="194.43" r="2.1" fill="#0f9e34" stroke="#0f9e34" stroke-width="1.7"/>
<circle cx="475.2" cy="194.15" r="2.1" fill="#0f9e34" stroke="#0f9e34" stroke-width="1.7"/>
<circle cx="483.7" cy="193.54" r="2.1" fill="#0f9e34" stroke="#0f9e34" stroke-width="1.7"/>
<circle cx="487.2" cy="193.08" r="2.1" fill="none" stroke="#0f9e34" stroke-width="1.7"/>
<circle cx="480.2" cy="192.33" r="2.1" fill="none" stroke="#0f9e34" stroke-width="1.7"/>
<circle cx="477.2" cy="191.93" r="2.1" fill="none" stroke="#0f9e34" stroke-width="1.7"/>
<circle cx="473.7" cy="191.33" r="2.1" fill="none" stroke="#0f9e34" stroke-width="1.7"/>
<circle cx="482.7" cy="190.81" r="2.1" fill="none" stroke="#0f9e34" stroke-width="1.7"/>
<circle cx="479.2" cy="189.87" r="2.1" fill="none" stroke="#0f9e34" stroke-width="1.7"/>
<circle cx="476.2" cy="189.07" r="2.1" fill="none" stroke="#0f9e34" stroke-width="1.7"/>
<circle cx="484.7" cy="188.4" r="2.1" fill="none" stroke="#0f9e34" stroke-width="1.7"/>
<circle cx="481.2" cy="187.69" r="2.1" fill="none" stroke="#0f9e34" stroke-width="1.7"/>
<circle cx="478.2" cy="186.59" r="2.1" fill="none" stroke="#0f9e34" stroke-width="1.7"/>
<circle cx="475.2" cy="185.95" r="2.1" fill="none" stroke="#0f9e34" stroke-width="1.7"/>
<circle cx="480.7" cy="184.94" r="2.1" fill="none" stroke="#0f9e34" stroke-width="1.7"/>
<circle cx="477.7" cy="183.78" r="2.1" fill="none" stroke="#0f9e34" stroke-width="1.7"/>
<circle cx="483.2" cy="182.83" r="2.1" fill="none" stroke="#0f9e34" stroke-width="1.7"/>
<circle cx="479.7" cy="179.39" r="2.1" fill="none" stroke="#0f9e34" stroke-width="1.7"/>
<circle cx="479.7" cy="175.17" r="2.1" fill="none" stroke="#0f9e34" stroke-width="1.7"/>
<circle cx="507" cy="198.61" r="2.1" fill="none" stroke="#1c1ce6" stroke-width="1.7"/>
<circle cx="511" cy="197.53" r="2.1" fill="none" stroke="#1c1ce6" stroke-width="1.7"/>
<circle cx="503.5" cy="196.51" r="2.1" fill="none" stroke="#1c1ce6" stroke-width="1.7"/>
<circle cx="499.5" cy="195.54" r="2.1" fill="none" stroke="#1c1ce6" stroke-width="1.7"/>
<circle cx="507" cy="194.43" r="2.1" fill="none" stroke="#1c1ce6" stroke-width="1.7"/>
<circle cx="511" cy="192.72" r="2.1" fill="none" stroke="#1c1ce6" stroke-width="1.7"/>
<circle cx="504.5" cy="191.09" r="2.1" fill="none" stroke="#1c1ce6" stroke-width="1.7"/>
<circle cx="500.5" cy="190.42" r="2.1" fill="none" stroke="#1c1ce6" stroke-width="1.7"/>
<circle cx="508" cy="189.05" r="2.1" fill="none" stroke="#1c1ce6" stroke-width="1.7"/>
<circle cx="512" cy="187.76" r="2.1" fill="none" stroke="#1c1ce6" stroke-width="1.7"/>
<circle cx="505" cy="186.04" r="2.1" fill="none" stroke="#1c1ce6" stroke-width="1.7"/>
<circle cx="509" cy="184.92" r="2.1" fill="none" stroke="#1c1ce6" stroke-width="1.7"/>
<circle cx="502" cy="183.28" r="2.1" fill="none" stroke="#1c1ce6" stroke-width="1.7"/>
<circle cx="512.5" cy="182.66" r="2.1" fill="none" stroke="#1c1ce6" stroke-width="1.7"/>
<circle cx="507" cy="181.16" r="2.1" fill="none" stroke="#1c1ce6" stroke-width="1.7"/>
<circle cx="503.5" cy="179.71" r="2.1" fill="none" stroke="#1c1ce6" stroke-width="1.7"/>
<circle cx="510" cy="178.15" r="2.1" fill="none" stroke="#1c1ce6" stroke-width="1.7"/>
<circle cx="506" cy="176.72" r="2.1" fill="none" stroke="#1c1ce6" stroke-width="1.7"/>
<circle cx="502" cy="175.31" r="2.1" fill="none" stroke="#1c1ce6" stroke-width="1.7"/>
<circle cx="508.5" cy="173.31" r="2.1" fill="none" stroke="#1c1ce6" stroke-width="1.7"/>
<circle cx="505" cy="170.82" r="2.1" fill="none" stroke="#1c1ce6" stroke-width="1.7"/>
<circle cx="509" cy="169.13" r="2.1" fill="none" stroke="#1c1ce6" stroke-width="1.7"/>
<circle cx="507" cy="164.78" r="2.1" fill="none" stroke="#1c1ce6" stroke-width="1.7"/>
<circle cx="504.5" cy="161.4" r="2.1" fill="none" stroke="#1c1ce6" stroke-width="1.7"/>
<line x1="451.4" y1="205.1" x2="451.4" y2="192.31" stroke="#ff2a3a" stroke-width="1.2" />
<line x1="441.4" y1="198.71" x2="461.4" y2="198.71" stroke="#ff2a3a" stroke-width="1.3" />
<line x1="446.4" y1="192.31" x2="456.4" y2="192.31" stroke="#ff2a3a" stroke-width="1.3" />
<line x1="446.4" y1="205.1" x2="456.4" y2="205.1" stroke="#ff2a3a" stroke-width="1.3" />
<line x1="479.7" y1="193.44" x2="479.7" y2="185.01" stroke="#ff2a3a" stroke-width="1.2" />
<line x1="469.7" y1="189.22" x2="489.7" y2="189.22" stroke="#ff2a3a" stroke-width="1.3" />
<line x1="474.7" y1="185.01" x2="484.7" y2="185.01" stroke="#ff2a3a" stroke-width="1.3" />
<line x1="474.7" y1="193.44" x2="484.7" y2="193.44" stroke="#ff2a3a" stroke-width="1.3" />
<line x1="507" y1="195.69" x2="507" y2="176.02" stroke="#ff2a3a" stroke-width="1.2" />
<line x1="497" y1="185.85" x2="517" y2="185.85" stroke="#ff2a3a" stroke-width="1.3" />
<line x1="502" y1="176.02" x2="512" y2="176.02" stroke="#ff2a3a" stroke-width="1.3" />
<line x1="502" y1="195.69" x2="512" y2="195.69" stroke="#ff2a3a" stroke-width="1.3" />
<line x1="436.5" y1="154.3" x2="436.5" y2="211.6" stroke="#111" stroke-width="1.3" />
<line x1="435.9" y1="211" x2="520" y2="211" stroke="#111" stroke-width="1.3" />
<line x1="434" y1="211" x2="436.5" y2="211" stroke="#111" stroke-width="1.2" />
<text x="430.5" y="213" font-size="9.4" text-anchor="end" fill="#111" stroke="#111" >0</text>
<line x1="434" y1="182.9" x2="436.5" y2="182.9" stroke="#111" stroke-width="1.2" />
<text x="430.5" y="184.9" font-size="9.4" text-anchor="end" fill="#111" stroke="#111" >2</text>
<line x1="434" y1="154.8" x2="436.5" y2="154.8" stroke="#111" stroke-width="1.2" />
<text x="430.5" y="156.8" font-size="9.4" text-anchor="end" fill="#111" stroke="#111" >4</text>
<line x1="451.4" y1="211" x2="451.4" y2="213" stroke="#111" stroke-width="1" />
<line x1="479.7" y1="211" x2="479.7" y2="213" stroke="#111" stroke-width="1" />
<line x1="507" y1="211" x2="507" y2="213" stroke="#111" stroke-width="1" />
<text x="0" y="0" transform="translate(417.4,182.5) rotate(-90)" font-size="10.8" text-anchor="middle" fill="#111" stroke="#111" >MFI (x1000)</text>
<text x="447.4" y="226" font-size="10" text-anchor="middle" fill="#111" stroke="#111" >PBMC</text>
<text x="478.3" y="226" font-size="10" text-anchor="middle" fill="#111" stroke="#111" >NILs</text>
<text x="506.6" y="226" font-size="10" text-anchor="middle" fill="#111" stroke="#111" >TILs</text>
<line x1="447" y1="148.8" x2="503.6" y2="148.8" stroke="#111" stroke-width="1.4" />
<text x="476.6" y="149.1" font-size="8.6" text-anchor="middle" fill="#111" stroke="#111" style="stroke-width:0.75px;stroke-linejoin:round" letter-spacing="1.0">***</text>
<line x1="447" y1="162" x2="472.8" y2="162" stroke="#111" stroke-width="1.4" />
<text x="461.2" y="162.3" font-size="8.6" text-anchor="middle" fill="#111" stroke="#111" style="stroke-width:0.75px;stroke-linejoin:round" letter-spacing="1.0">***</text>
<line x1="477" y1="162" x2="502.8" y2="162" stroke="#111" stroke-width="1.4" />
<text x="489.4" y="162.3" font-size="8.6" text-anchor="middle" fill="#111" stroke="#111" style="stroke-width:0.75px;stroke-linejoin:round" letter-spacing="1.0">*</text>
<circle cx="317" cy="321.38" r="2.1" fill="#111" stroke="#111" stroke-width="1.7"/>
<circle cx="320" cy="321.36" r="2.1" fill="#111" stroke="#111" stroke-width="1.7"/>
<circle cx="314" cy="321.27" r="2.1" fill="#111" stroke="#111" stroke-width="1.7"/>
<circle cx="323" cy="321.2" r="2.1" fill="#111" stroke="#111" stroke-width="1.7"/>
<circle cx="311" cy="321.06" r="2.1" fill="#111" stroke="#111" stroke-width="1.7"/>
<circle cx="318.5" cy="320.93" r="2.1" fill="#111" stroke="#111" stroke-width="1.7"/>
<circle cx="315.5" cy="320.81" r="2.1" fill="#111" stroke="#111" stroke-width="1.7"/>
<circle cx="321.5" cy="320.58" r="2.1" fill="#111" stroke="#111" stroke-width="1.7"/>
<circle cx="312.5" cy="320.47" r="2.1" fill="#111" stroke="#111" stroke-width="1.7"/>
<circle cx="324" cy="320.27" r="2.1" fill="#111" stroke="#111" stroke-width="1.7"/>
<circle cx="310" cy="320.02" r="2.1" fill="#111" stroke="#111" stroke-width="1.7"/>
<circle cx="317" cy="319.88" r="2.1" fill="#111" stroke="#111" stroke-width="1.7"/>
<circle cx="319.5" cy="319.52" r="2.1" fill="#111" stroke="#111" stroke-width="1.7"/>
<circle cx="314.5" cy="319.36" r="2.1" fill="#111" stroke="#111" stroke-width="1.7"/>
<circle cx="322" cy="318.99" r="2.1" fill="#111" stroke="#111" stroke-width="1.7"/>
<circle cx="312" cy="318.85" r="2.1" fill="#111" stroke="#111" stroke-width="1.7"/>
<circle cx="317" cy="318.57" r="2.1" fill="#111" stroke="#111" stroke-width="1.7"/>
<circle cx="324" cy="318.16" r="2.1" fill="none" stroke="#111" stroke-width="1.7"/>
<circle cx="319.5" cy="317.92" r="2.1" fill="none" stroke="#111" stroke-width="1.7"/>
<circle cx="314.5" cy="317.55" r="2.1" fill="none" stroke="#111" stroke-width="1.7"/>
<circle cx="310" cy="317.26" r="2.1" fill="none" stroke="#111" stroke-width="1.7"/>
<circle cx="317" cy="316.78" r="2.1" fill="none" stroke="#111" stroke-width="1.7"/>
<circle cx="321.5" cy="316.41" r="2.1" fill="none" stroke="#111" stroke-width="1.7"/>
<circle cx="312.5" cy="316.04" r="2.1" fill="none" stroke="#111" stroke-width="1.7"/>
<circle cx="346.6" cy="320.95" r="2.1" fill="none" stroke="#0f9e34" stroke-width="1.7"/>
<circle cx="351.1" cy="320.49" r="2.1" fill="none" stroke="#0f9e34" stroke-width="1.7"/>
<circle cx="342.1" cy="319.67" r="2.1" fill="none" stroke="#0f9e34" stroke-width="1.7"/>
<circle cx="355.1" cy="319.25" r="2.1" fill="none" stroke="#0f9e34" stroke-width="1.7"/>
<circle cx="338.1" cy="318.25" r="2.1" fill="none" stroke="#0f9e34" stroke-width="1.7"/>
<circle cx="348.1" cy="317.6" r="2.1" fill="none" stroke="#0f9e34" stroke-width="1.7"/>
<circle cx="344.1" cy="316.64" r="2.1" fill="none" stroke="#0f9e34" stroke-width="1.7"/>
<circle cx="352.1" cy="315.91" r="2.1" fill="none" stroke="#0f9e34" stroke-width="1.7"/>
<circle cx="340.1" cy="315.2" r="2.1" fill="none" stroke="#0f9e34" stroke-width="1.7"/>
<circle cx="347.6" cy="314.28" r="2.1" fill="none" stroke="#0f9e34" stroke-width="1.7"/>
<circle cx="355.1" cy="313.63" r="2.1" fill="none" stroke="#0f9e34" stroke-width="1.7"/>
<circle cx="343.6" cy="312.91" r="2.1" fill="none" stroke="#0f9e34" stroke-width="1.7"/>
<circle cx="351.1" cy="312.18" r="2.1" fill="none" stroke="#0f9e34" stroke-width="1.7"/>
<circle cx="339.1" cy="310.9" r="2.1" fill="none" stroke="#0f9e34" stroke-width="1.7"/>
<circle cx="347.1" cy="310.03" r="2.1" fill="none" stroke="#0f9e34" stroke-width="1.7"/>
<circle cx="354.6" cy="309.14" r="2.1" fill="none" stroke="#0f9e34" stroke-width="1.7"/>
<circle cx="343.1" cy="308.3" r="2.1" fill="none" stroke="#0f9e34" stroke-width="1.7"/>
<circle cx="350.6" cy="307.4" r="2.1" fill="none" stroke="#0f9e34" stroke-width="1.7"/>
<circle cx="339.1" cy="306.15" r="2.1" fill="none" stroke="#0f9e34" stroke-width="1.7"/>
<circle cx="346.6" cy="305.56" r="2.1" fill="none" stroke="#0f9e34" stroke-width="1.7"/>
<circle cx="354.1" cy="304.76" r="2.1" fill="none" stroke="#0f9e34" stroke-width="1.7"/>
<circle cx="342.6" cy="303.24" r="2.1" fill="none" stroke="#0f9e34" stroke-width="1.7"/>
<circle cx="346.6" cy="300.49" r="2.1" fill="none" stroke="#0f9e34" stroke-width="1.7"/>
<circle cx="346.6" cy="294.25" r="2.1" fill="none" stroke="#0f9e34" stroke-width="1.7"/>
<circle cx="375.3" cy="318.67" r="2.1" fill="none" stroke="#1c1ce6" stroke-width="1.7"/>
<circle cx="370.8" cy="317.68" r="2.1" fill="none" stroke="#1c1ce6" stroke-width="1.7"/>
<circle cx="379.3" cy="316.65" r="2.1" fill="none" stroke="#1c1ce6" stroke-width="1.7"/>
<circle cx="383.8" cy="316.04" r="2.1" fill="none" stroke="#1c1ce6" stroke-width="1.7"/>
<circle cx="366.8" cy="315.22" r="2.1" fill="none" stroke="#1c1ce6" stroke-width="1.7"/>
<circle cx="375.3" cy="313.93" r="2.1" fill="none" stroke="#1c1ce6" stroke-width="1.7"/>
<circle cx="370.8" cy="312.87" r="2.1" fill="none" stroke="#1c1ce6" stroke-width="1.7"/>
<circle cx="379.3" cy="311.87" r="2.1" fill="none" stroke="#1c1ce6" stroke-width="1.7"/>
<circle cx="383.8" cy="310.47" r="2.1" fill="none" stroke="#1c1ce6" stroke-width="1.7"/>
<circle cx="374.3" cy="309.78" r="2.1" fill="none" stroke="#1c1ce6" stroke-width="1.7"/>
<circle cx="369.8" cy="308.1" r="2.1" fill="none" stroke="#1c1ce6" stroke-width="1.7"/>
<circle cx="378.3" cy="307.56" r="2.1" fill="none" stroke="#1c1ce6" stroke-width="1.7"/>
<circle cx="382.8" cy="306.37" r="2.1" fill="none" stroke="#1c1ce6" stroke-width="1.7"/>
<circle cx="374.8" cy="304.78" r="2.1" fill="none" stroke="#1c1ce6" stroke-width="1.7"/>
<circle cx="367.8" cy="304.11" r="2.1" fill="none" stroke="#1c1ce6" stroke-width="1.7"/>
<circle cx="378.8" cy="302.54" r="2.1" fill="none" stroke="#1c1ce6" stroke-width="1.7"/>
<circle cx="371.8" cy="301.74" r="2.1" fill="none" stroke="#1c1ce6" stroke-width="1.7"/>
<circle cx="382.8" cy="300.45" r="2.1" fill="none" stroke="#1c1ce6" stroke-width="1.7"/>
<circle cx="375.8" cy="299.21" r="2.1" fill="none" stroke="#1c1ce6" stroke-width="1.7"/>
<circle cx="368.8" cy="298.21" r="2.1" fill="none" stroke="#1c1ce6" stroke-width="1.7"/>
<circle cx="379.3" cy="296.52" r="2.1" fill="none" stroke="#1c1ce6" stroke-width="1.7"/>
<circle cx="373.8" cy="295.22" r="2.1" fill="none" stroke="#1c1ce6" stroke-width="1.7"/>
<circle cx="375.3" cy="285.45" r="2.1" fill="none" stroke="#1c1ce6" stroke-width="1.7"/>
<circle cx="375.3" cy="279.58" r="2.1" fill="none" stroke="#1c1ce6" stroke-width="1.7"/>
<circle cx="375.3" cy="273.71" r="2.1" fill="none" stroke="#1c1ce6" stroke-width="1.7"/>
<line x1="317" y1="321.03" x2="317" y2="318.83" stroke="#ff2a3a" stroke-width="1.2" />
<line x1="307" y1="319.93" x2="327" y2="319.93" stroke="#ff2a3a" stroke-width="1.3" />
<line x1="313" y1="318.83" x2="321" y2="318.83" stroke="#ff2a3a" stroke-width="1.3" />
<line x1="313" y1="321.03" x2="321" y2="321.03" stroke="#ff2a3a" stroke-width="1.3" />
<line x1="346.6" y1="319.27" x2="346.6" y2="305.48" stroke="#ff2a3a" stroke-width="1.2" />
<line x1="336.6" y1="312.37" x2="356.6" y2="312.37" stroke="#ff2a3a" stroke-width="1.3" />
<line x1="341.6" y1="305.48" x2="351.6" y2="305.48" stroke="#ff2a3a" stroke-width="1.3" />
<line x1="341.6" y1="319.27" x2="351.6" y2="319.27" stroke="#ff2a3a" stroke-width="1.3" />
<line x1="375.3" y1="317" x2="375.3" y2="294.98" stroke="#ff2a3a" stroke-width="1.2" />
<line x1="365.3" y1="305.99" x2="385.3" y2="305.99" stroke="#ff2a3a" stroke-width="1.3" />
<line x1="370.3" y1="294.98" x2="380.3" y2="294.98" stroke="#ff2a3a" stroke-width="1.3" />
<line x1="370.3" y1="317" x2="380.3" y2="317" stroke="#ff2a3a" stroke-width="1.3" />
<line x1="302" y1="262.2" x2="302" y2="322" stroke="#111" stroke-width="1.3" />
<line x1="301.4" y1="321.4" x2="389" y2="321.4" stroke="#111" stroke-width="1.3" />
<line x1="299.5" y1="321.4" x2="302" y2="321.4" stroke="#111" stroke-width="1.2" />
<text x="298.8" y="323.7" font-size="9.4" text-anchor="end" fill="#111" stroke="#111" >0</text>
<line x1="299.5" y1="292.05" x2="302" y2="292.05" stroke="#111" stroke-width="1.2" />
<text x="298.8" y="294.35" font-size="9.4" text-anchor="end" fill="#111" stroke="#111" >40</text>
<line x1="299.5" y1="262.7" x2="302" y2="262.7" stroke="#111" stroke-width="1.2" />
<text x="298.8" y="265" font-size="9.4" text-anchor="end" fill="#111" stroke="#111" >80</text>
<line x1="317" y1="321.4" x2="317" y2="323.4" stroke="#111" stroke-width="1" />
<line x1="346.6" y1="321.4" x2="346.6" y2="323.4" stroke="#111" stroke-width="1" />
<line x1="375.3" y1="321.4" x2="375.3" y2="323.4" stroke="#111" stroke-width="1" />
<text x="0" y="0" transform="translate(285.9,290.5) rotate(-90)" font-size="10.3" text-anchor="middle" fill="#111" stroke="#111" >Cells %</text>
<text x="314.8" y="335.2" font-size="10" text-anchor="middle" fill="#111" stroke="#111" >PBMC</text>
<text x="345.3" y="335.2" font-size="10" text-anchor="middle" fill="#111" stroke="#111" >NILs</text>
<text x="374.1" y="335.2" font-size="10" text-anchor="middle" fill="#111" stroke="#111" >TILs</text>
<line x1="320.2" y1="261.5" x2="376.2" y2="261.5" stroke="#111" stroke-width="1.4" />
<text x="349.5" y="261.8" font-size="8.6" text-anchor="middle" fill="#111" stroke="#111" style="stroke-width:0.75px;stroke-linejoin:round" letter-spacing="1.0">***</text>
<line x1="320.2" y1="274.7" x2="344.9" y2="274.7" stroke="#111" stroke-width="1.4" />
<text x="333.85" y="275" font-size="8.6" text-anchor="middle" fill="#111" stroke="#111" style="stroke-width:0.75px;stroke-linejoin:round" letter-spacing="1.0">***</text>
<line x1="349.7" y1="274.7" x2="376.2" y2="274.7" stroke="#111" stroke-width="1.4" />
<text x="362.45" y="275" font-size="8.6" text-anchor="middle" fill="#111" stroke="#111" style="stroke-width:0.75px;stroke-linejoin:round" letter-spacing="1.0">*</text>
<circle cx="451" cy="314.57" r="2.1" fill="#111" stroke="#111" stroke-width="1.7"/>
<circle cx="448.5" cy="314.52" r="2.1" fill="#111" stroke="#111" stroke-width="1.7"/>
<circle cx="453.5" cy="314.36" r="2.1" fill="#111" stroke="#111" stroke-width="1.7"/>
<circle cx="446" cy="314.2" r="2.1" fill="#111" stroke="#111" stroke-width="1.7"/>
<circle cx="456" cy="314.13" r="2.1" fill="#111" stroke="#111" stroke-width="1.7"/>
<circle cx="444" cy="313.91" r="2.1" fill="#111" stroke="#111" stroke-width="1.7"/>
<circle cx="458" cy="313.73" r="2.1" fill="#111" stroke="#111" stroke-width="1.7"/>
<circle cx="450" cy="313.54" r="2.1" fill="#111" stroke="#111" stroke-width="1.7"/>
<circle cx="452.5" cy="313.35" r="2.1" fill="#111" stroke="#111" stroke-width="1.7"/>
<circle cx="447.5" cy="313.09" r="2.1" fill="#111" stroke="#111" stroke-width="1.7"/>
<circle cx="455" cy="312.72" r="2.1" fill="#111" stroke="#111" stroke-width="1.7"/>
<circle cx="445.5" cy="312.48" r="2.1" fill="#111" stroke="#111" stroke-width="1.7"/>
<circle cx="451" cy="312.18" r="2.1" fill="#111" stroke="#111" stroke-width="1.7"/>
<circle cx="457" cy="311.98" r="2.1" fill="#111" stroke="#111" stroke-width="1.7"/>
<circle cx="449" cy="311.68" r="2.1" fill="#111" stroke="#111" stroke-width="1.7"/>
<circle cx="453" cy="311.47" r="2.1" fill="#111" stroke="#111" stroke-width="1.7"/>
<circle cx="447" cy="311.08" r="2.1" fill="#111" stroke="#111" stroke-width="1.7"/>
<circle cx="455" cy="310.72" r="2.1" fill="#111" stroke="#111" stroke-width="1.7"/>
<circle cx="451" cy="310.28" r="2.1" fill="#111" stroke="#111" stroke-width="1.7"/>
<circle cx="444.5" cy="310.16" r="2.1" fill="#111" stroke="#111" stroke-width="1.7"/>
<circle cx="449" cy="309.66" r="2.1" fill="none" stroke="#111" stroke-width="1.7"/>
<circle cx="453" cy="309.45" r="2.1" fill="none" stroke="#111" stroke-width="1.7"/>
<circle cx="446.5" cy="308.84" r="2.1" fill="none" stroke="#111" stroke-width="1.7"/>
<circle cx="456" cy="308.66" r="2.1" fill="none" stroke="#111" stroke-width="1.7"/>
<circle cx="451" cy="308.14" r="2.1" fill="none" stroke="#111" stroke-width="1.7"/>
<circle cx="448.5" cy="307.76" r="2.1" fill="none" stroke="#111" stroke-width="1.7"/>
<circle cx="479.3" cy="313.89" r="2.1" fill="#0f9e34" stroke="#0f9e34" stroke-width="1.7"/>
<circle cx="482.3" cy="313.78" r="2.1" fill="#0f9e34" stroke="#0f9e34" stroke-width="1.7"/>
<circle cx="476.3" cy="313.64" r="2.1" fill="#0f9e34" stroke="#0f9e34" stroke-width="1.7"/>
<circle cx="473.3" cy="313.49" r="2.1" fill="#0f9e34" stroke="#0f9e34" stroke-width="1.7"/>
<circle cx="484.8" cy="313.26" r="2.1" fill="#0f9e34" stroke="#0f9e34" stroke-width="1.7"/>
<circle cx="486.3" cy="313.09" r="2.1" fill="#0f9e34" stroke="#0f9e34" stroke-width="1.7"/>
<circle cx="480.8" cy="312.72" r="2.1" fill="#0f9e34" stroke="#0f9e34" stroke-width="1.7"/>
<circle cx="477.8" cy="312.4" r="2.1" fill="#0f9e34" stroke="#0f9e34" stroke-width="1.7"/>
<circle cx="474.8" cy="312.19" r="2.1" fill="#0f9e34" stroke="#0f9e34" stroke-width="1.7"/>
<circle cx="483.3" cy="311.91" r="2.1" fill="#0f9e34" stroke="#0f9e34" stroke-width="1.7"/>
<circle cx="472.3" cy="311.56" r="2.1" fill="#0f9e34" stroke="#0f9e34" stroke-width="1.7"/>
<circle cx="479.3" cy="311.31" r="2.1" fill="#0f9e34" stroke="#0f9e34" stroke-width="1.7"/>
<circle cx="485.8" cy="310.81" r="2.1" fill="#0f9e34" stroke="#0f9e34" stroke-width="1.7"/>
<circle cx="476.8" cy="310.44" r="2.1" fill="#0f9e34" stroke="#0f9e34" stroke-width="1.7"/>
<circle cx="481.3" cy="310.22" r="2.1" fill="#0f9e34" stroke="#0f9e34" stroke-width="1.7"/>
<circle cx="474.3" cy="309.75" r="2.1" fill="#0f9e34" stroke="#0f9e34" stroke-width="1.7"/>
<circle cx="483.8" cy="309.41" r="2.1" fill="#0f9e34" stroke="#0f9e34" stroke-width="1.7"/>
<circle cx="478.8" cy="308.81" r="2.1" fill="#0f9e34" stroke="#0f9e34" stroke-width="1.7"/>
<circle cx="472.3" cy="308.59" r="2.1" fill="#0f9e34" stroke="#0f9e34" stroke-width="1.7"/>
<circle cx="476.3" cy="307.87" r="2.1" fill="#0f9e34" stroke="#0f9e34" stroke-width="1.7"/>
<circle cx="481.3" cy="307.67" r="2.1" fill="#0f9e34" stroke="#0f9e34" stroke-width="1.7"/>
<circle cx="483.8" cy="306.94" r="2.1" fill="none" stroke="#0f9e34" stroke-width="1.7"/>
<circle cx="478.8" cy="306.68" r="2.1" fill="none" stroke="#0f9e34" stroke-width="1.7"/>
<circle cx="474.3" cy="306.07" r="2.1" fill="none" stroke="#0f9e34" stroke-width="1.7"/>
<circle cx="481.3" cy="305.5" r="2.1" fill="none" stroke="#0f9e34" stroke-width="1.7"/>
<circle cx="476.8" cy="304.9" r="2.1" fill="none" stroke="#0f9e34" stroke-width="1.7"/>
<circle cx="479.3" cy="302" r="2.1" fill="none" stroke="#0f9e34" stroke-width="1.7"/>
<circle cx="507.3" cy="312.78" r="2.1" fill="#1c1ce6" stroke="#1c1ce6" stroke-width="1.7"/>
<circle cx="510.3" cy="312.6" r="2.1" fill="#1c1ce6" stroke="#1c1ce6" stroke-width="1.7"/>
<circle cx="504.3" cy="312.08" r="2.1" fill="#1c1ce6" stroke="#1c1ce6" stroke-width="1.7"/>
<circle cx="513.3" cy="311.79" r="2.1" fill="#1c1ce6" stroke="#1c1ce6" stroke-width="1.7"/>
<circle cx="501.3" cy="311.49" r="2.1" fill="#1c1ce6" stroke="#1c1ce6" stroke-width="1.7"/>
<circle cx="508.3" cy="311.04" r="2.1" fill="#1c1ce6" stroke="#1c1ce6" stroke-width="1.7"/>
<circle cx="505.8" cy="310.55" r="2.1" fill="#1c1ce6" stroke="#1c1ce6" stroke-width="1.7"/>
<circle cx="511.3" cy="310.42" r="2.1" fill="#1c1ce6" stroke="#1c1ce6" stroke-width="1.7"/>
<circle cx="514.8" cy="309.87" r="2.1" fill="#1c1ce6" stroke="#1c1ce6" stroke-width="1.7"/>
<circle cx="503.3" cy="309.54" r="2.1" fill="#1c1ce6" stroke="#1c1ce6" stroke-width="1.7"/>
<circle cx="499.8" cy="309.09" r="2.1" fill="#1c1ce6" stroke="#1c1ce6" stroke-width="1.7"/>
<circle cx="508.8" cy="308.82" r="2.1" fill="#1c1ce6" stroke="#1c1ce6" stroke-width="1.7"/>
<circle cx="512.8" cy="308.51" r="2.1" fill="#1c1ce6" stroke="#1c1ce6" stroke-width="1.7"/>
<circle cx="505.8" cy="307.99" r="2.1" fill="#1c1ce6" stroke="#1c1ce6" stroke-width="1.7"/>
<circle cx="501.8" cy="307.81" r="2.1" fill="#1c1ce6" stroke="#1c1ce6" stroke-width="1.7"/>
<circle cx="510.8" cy="307.29" r="2.1" fill="#1c1ce6" stroke="#1c1ce6" stroke-width="1.7"/>
<circle cx="514.8" cy="307.02" r="2.1" fill="#1c1ce6" stroke="#1c1ce6" stroke-width="1.7"/>
<circle cx="507.8" cy="306.72" r="2.1" fill="none" stroke="#1c1ce6" stroke-width="1.7"/>
<circle cx="503.8" cy="306.32" r="2.1" fill="none" stroke="#1c1ce6" stroke-width="1.7"/>
<circle cx="499.8" cy="305.77" r="2.1" fill="none" stroke="#1c1ce6" stroke-width="1.7"/>
<circle cx="512.8" cy="305.58" r="2.1" fill="none" stroke="#1c1ce6" stroke-width="1.7"/>
<circle cx="509.8" cy="305.02" r="2.1" fill="none" stroke="#1c1ce6" stroke-width="1.7"/>
<circle cx="507.3" cy="302.84" r="2.1" fill="none" stroke="#1c1ce6" stroke-width="1.7"/>
<circle cx="507.3" cy="299.06" r="2.1" fill="none" stroke="#1c1ce6" stroke-width="1.7"/>
<circle cx="507.3" cy="293.46" r="2.1" fill="none" stroke="#1c1ce6" stroke-width="1.7"/>
<circle cx="507.3" cy="290.38" r="2.1" fill="none" stroke="#1c1ce6" stroke-width="1.7"/>
<circle cx="507.3" cy="281" r="2.1" fill="none" stroke="#1c1ce6" stroke-width="1.7"/>
<line x1="451" y1="312.92" x2="451" y2="310.12" stroke="#ff2a3a" stroke-width="1.2" />
<line x1="441" y1="311.52" x2="461" y2="311.52" stroke="#ff2a3a" stroke-width="1.3" />
<line x1="444" y1="310.12" x2="458" y2="310.12" stroke="#ff2a3a" stroke-width="1.3" />
<line x1="444" y1="312.92" x2="458" y2="312.92" stroke="#ff2a3a" stroke-width="1.3" />
<line x1="479.3" y1="311.8" x2="479.3" y2="307.6" stroke="#ff2a3a" stroke-width="1.2" />
<line x1="469.3" y1="309.7" x2="489.3" y2="309.7" stroke="#ff2a3a" stroke-width="1.3" />
<line x1="474.3" y1="307.6" x2="484.3" y2="307.6" stroke="#ff2a3a" stroke-width="1.3" />
<line x1="474.3" y1="311.8" x2="484.3" y2="311.8" stroke="#ff2a3a" stroke-width="1.3" />
<line x1="507.3" y1="313.06" x2="507.3" y2="297.38" stroke="#ff2a3a" stroke-width="1.2" />
<line x1="497.3" y1="305.22" x2="517.3" y2="305.22" stroke="#ff2a3a" stroke-width="1.3" />
<line x1="502.3" y1="297.38" x2="512.3" y2="297.38" stroke="#ff2a3a" stroke-width="1.3" />
<line x1="502.3" y1="313.06" x2="512.3" y2="313.06" stroke="#ff2a3a" stroke-width="1.3" />
<line x1="436.3" y1="264.4" x2="436.3" y2="321.5" stroke="#111" stroke-width="1.3" />
<line x1="435.7" y1="320.9" x2="519" y2="320.9" stroke="#111" stroke-width="1.3" />
<line x1="433.8" y1="320.9" x2="436.3" y2="320.9" stroke="#111" stroke-width="1.2" />
<text x="430.2" y="323.2" font-size="9.4" text-anchor="end" fill="#111" stroke="#111" >0</text>
<line x1="433.8" y1="292.9" x2="436.3" y2="292.9" stroke="#111" stroke-width="1.2" />
<text x="430.2" y="295.2" font-size="9.4" text-anchor="end" fill="#111" stroke="#111" >2</text>
<line x1="433.8" y1="264.9" x2="436.3" y2="264.9" stroke="#111" stroke-width="1.2" />
<text x="430.2" y="267.2" font-size="9.4" text-anchor="end" fill="#111" stroke="#111" >4</text>
<line x1="451" y1="320.9" x2="451" y2="322.9" stroke="#111" stroke-width="1" />
<line x1="479.3" y1="320.9" x2="479.3" y2="322.9" stroke="#111" stroke-width="1" />
<line x1="507.3" y1="320.9" x2="507.3" y2="322.9" stroke="#111" stroke-width="1" />
<text x="0" y="0" transform="translate(417.4,292.5) rotate(-90)" font-size="10.8" text-anchor="middle" fill="#111" stroke="#111" >MFI (x1000)</text>
<text x="447.4" y="335.2" font-size="10" text-anchor="middle" fill="#111" stroke="#111" >PBMC</text>
<text x="478.3" y="335.2" font-size="10" text-anchor="middle" fill="#111" stroke="#111" >NILs</text>
<text x="506.6" y="335.2" font-size="10" text-anchor="middle" fill="#111" stroke="#111" >TILs</text>
<line x1="450.8" y1="261.8" x2="507.3" y2="261.8" stroke="#111" stroke-width="1.4" />
<text x="480.35" y="262.1" font-size="8.6" text-anchor="middle" fill="#111" stroke="#111" style="stroke-width:0.75px;stroke-linejoin:round" letter-spacing="1.0">***</text>
<line x1="450.8" y1="274.7" x2="475.7" y2="274.7" stroke="#111" stroke-width="1.4" />
<text x="464.55" y="275" font-size="8.6" text-anchor="middle" fill="#111" stroke="#111" style="stroke-width:0.75px;stroke-linejoin:round" letter-spacing="1.0">***</text>
<line x1="480.3" y1="274.7" x2="506" y2="274.7" stroke="#111" stroke-width="1.4" />
<text x="494.45" y="275" font-size="8.6" text-anchor="middle" fill="#111" stroke="#111" style="stroke-width:0.75px;stroke-linejoin:round" letter-spacing="1.0">***</text>
<text x="89" y="381.2" font-size="10" text-anchor="middle" fill="#111" stroke="#111" >PBMC</text>
<text x="234.5" y="381.2" font-size="10" text-anchor="middle" fill="#111" stroke="#111" >NILs</text>
<text x="377.8" y="381.2" font-size="10" text-anchor="middle" fill="#111" stroke="#111" >TILs</text>
<circle cx="69.7" cy="442.62" r="2.1" fill="#0f9e34" stroke="#0f9e34" stroke-width="1.7"/>
<circle cx="66.2" cy="442.55" r="2.1" fill="#0f9e34" stroke="#0f9e34" stroke-width="1.7"/>
<circle cx="73.2" cy="442.48" r="2.1" fill="#0f9e34" stroke="#0f9e34" stroke-width="1.7"/>
<circle cx="76.7" cy="442.31" r="2.1" fill="#0f9e34" stroke="#0f9e34" stroke-width="1.7"/>
<circle cx="62.7" cy="442.21" r="2.1" fill="#0f9e34" stroke="#0f9e34" stroke-width="1.7"/>
<circle cx="59.2" cy="441.95" r="2.1" fill="#0f9e34" stroke="#0f9e34" stroke-width="1.7"/>
<circle cx="80.2" cy="441.86" r="2.1" fill="#0f9e34" stroke="#0f9e34" stroke-width="1.7"/>
<circle cx="68.2" cy="441.61" r="2.1" fill="#0f9e34" stroke="#0f9e34" stroke-width="1.7"/>
<circle cx="71.2" cy="441.39" r="2.1" fill="#0f9e34" stroke="#0f9e34" stroke-width="1.7"/>
<circle cx="64.7" cy="441.04" r="2.1" fill="#0f9e34" stroke="#0f9e34" stroke-width="1.7"/>
<circle cx="74.7" cy="440.78" r="2.1" fill="#0f9e34" stroke="#0f9e34" stroke-width="1.7"/>
<circle cx="78.2" cy="440.54" r="2.1" fill="#0f9e34" stroke="#0f9e34" stroke-width="1.7"/>
<circle cx="61.2" cy="440.24" r="2.1" fill="#0f9e34" stroke="#0f9e34" stroke-width="1.7"/>
<circle cx="57.7" cy="439.98" r="2.1" fill="#0f9e34" stroke="#0f9e34" stroke-width="1.7"/>
<circle cx="81.7" cy="439.58" r="2.1" fill="#0f9e34" stroke="#0f9e34" stroke-width="1.7"/>
<circle cx="69.2" cy="439.37" r="2.1" fill="#0f9e34" stroke="#0f9e34" stroke-width="1.7"/>
<circle cx="72.2" cy="438.85" r="2.1" fill="#0f9e34" stroke="#0f9e34" stroke-width="1.7"/>
<circle cx="66.2" cy="438.41" r="2.1" fill="none" stroke="#0f9e34" stroke-width="1.7"/>
<circle cx="76.2" cy="438.16" r="2.1" fill="none" stroke="#0f9e34" stroke-width="1.7"/>
<circle cx="63.2" cy="437.77" r="2.1" fill="none" stroke="#0f9e34" stroke-width="1.7"/>
<circle cx="59.7" cy="437.32" r="2.1" fill="none" stroke="#0f9e34" stroke-width="1.7"/>
<circle cx="69.7" cy="436.97" r="2.1" fill="none" stroke="#0f9e34" stroke-width="1.7"/>
<circle cx="73.7" cy="436.37" r="2.1" fill="none" stroke="#0f9e34" stroke-width="1.7"/>
<circle cx="78.7" cy="436.14" r="2.1" fill="none" stroke="#0f9e34" stroke-width="1.7"/>
<circle cx="66.7" cy="435.6" r="2.1" fill="none" stroke="#0f9e34" stroke-width="1.7"/>
<circle cx="62.2" cy="435.07" r="2.1" fill="none" stroke="#0f9e34" stroke-width="1.7"/>
<circle cx="71.2" cy="434.57" r="2.1" fill="none" stroke="#0f9e34" stroke-width="1.7"/>
<circle cx="76.2" cy="434.23" r="2.1" fill="none" stroke="#0f9e34" stroke-width="1.7"/>
<circle cx="68.7" cy="433.8" r="2.1" fill="none" stroke="#0f9e34" stroke-width="1.7"/>
<circle cx="64.7" cy="433.09" r="2.1" fill="none" stroke="#0f9e34" stroke-width="1.7"/>
<circle cx="73.7" cy="432.78" r="2.1" fill="none" stroke="#0f9e34" stroke-width="1.7"/>
<circle cx="61.2" cy="431.99" r="2.1" fill="none" stroke="#0f9e34" stroke-width="1.7"/>
<circle cx="111.6" cy="442.91" r="2.1" fill="none" stroke="#1c1ce6" stroke-width="1.7"/>
<circle cx="116.1" cy="441.97" r="2.1" fill="none" stroke="#1c1ce6" stroke-width="1.7"/>
<circle cx="107.1" cy="441.39" r="2.1" fill="none" stroke="#1c1ce6" stroke-width="1.7"/>
<circle cx="120.6" cy="440.9" r="2.1" fill="none" stroke="#1c1ce6" stroke-width="1.7"/>
<circle cx="102.6" cy="440.07" r="2.1" fill="none" stroke="#1c1ce6" stroke-width="1.7"/>
<circle cx="112.6" cy="439.46" r="2.1" fill="none" stroke="#1c1ce6" stroke-width="1.7"/>
<circle cx="124.1" cy="438.81" r="2.1" fill="none" stroke="#1c1ce6" stroke-width="1.7"/>
<circle cx="117.1" cy="438.3" r="2.1" fill="none" stroke="#1c1ce6" stroke-width="1.7"/>
<circle cx="108.6" cy="437.65" r="2.1" fill="none" stroke="#1c1ce6" stroke-width="1.7"/>
<circle cx="99.1" cy="436.86" r="2.1" fill="none" stroke="#1c1ce6" stroke-width="1.7"/>
<circle cx="104.6" cy="436.06" r="2.1" fill="none" stroke="#1c1ce6" stroke-width="1.7"/>
<circle cx="112.1" cy="434.85" r="2.1" fill="none" stroke="#1c1ce6" stroke-width="1.7"/>
<circle cx="116.6" cy="433.91" r="2.1" fill="none" stroke="#1c1ce6" stroke-width="1.7"/>
<circle cx="108.1" cy="432.75" r="2.1" fill="none" stroke="#1c1ce6" stroke-width="1.7"/>
<circle cx="102.6" cy="432.11" r="2.1" fill="none" stroke="#1c1ce6" stroke-width="1.7"/>
<circle cx="113.1" cy="431" r="2.1" fill="none" stroke="#1c1ce6" stroke-width="1.7"/>
<circle cx="117.6" cy="429.3" r="2.1" fill="none" stroke="#1c1ce6" stroke-width="1.7"/>
<circle cx="109.6" cy="427.94" r="2.1" fill="none" stroke="#1c1ce6" stroke-width="1.7"/>
<circle cx="113.6" cy="426.06" r="2.1" fill="none" stroke="#1c1ce6" stroke-width="1.7"/>
<circle cx="105.6" cy="425.46" r="2.1" fill="none" stroke="#1c1ce6" stroke-width="1.7"/>
<circle cx="111.6" cy="421.36" r="2.1" fill="none" stroke="#1c1ce6" stroke-width="1.7"/>
<circle cx="115.6" cy="418.85" r="2.1" fill="none" stroke="#1c1ce6" stroke-width="1.7"/>
<circle cx="111.6" cy="396.27" r="2.1" fill="none" stroke="#1c1ce6" stroke-width="1.7"/>
<circle cx="111.6" cy="391.66" r="2.1" fill="none" stroke="#1c1ce6" stroke-width="1.7"/>
<line x1="69.7" y1="441.81" x2="69.7" y2="436.23" stroke="#ff2a3a" stroke-width="1.2" />
<line x1="55.7" y1="439.02" x2="83.7" y2="439.02" stroke="#ff2a3a" stroke-width="1.3" />
<line x1="63.2" y1="436.23" x2="76.2" y2="436.23" stroke="#ff2a3a" stroke-width="1.3" />
<line x1="63.2" y1="441.81" x2="76.2" y2="441.81" stroke="#ff2a3a" stroke-width="1.3" />
<line x1="111.6" y1="443" x2="111.6" y2="416.84" stroke="#ff2a3a" stroke-width="1.2" />
<line x1="97.6" y1="430.51" x2="125.6" y2="430.51" stroke="#ff2a3a" stroke-width="1.3" />
<line x1="105.1" y1="416.84" x2="118.1" y2="416.84" stroke="#ff2a3a" stroke-width="1.3" />
<line x1="47.8" y1="386.7" x2="47.8" y2="443.6" stroke="#111" stroke-width="1.3" />
<line x1="47.2" y1="443" x2="133" y2="443" stroke="#111" stroke-width="1.3" />
<line x1="45.3" y1="443" x2="47.8" y2="443" stroke="#111" stroke-width="1.2" />
<text x="45.3" y="445.3" font-size="9.4" text-anchor="end" fill="#111" stroke="#111" >0</text>
<line x1="45.3" y1="415.1" x2="47.8" y2="415.1" stroke="#111" stroke-width="1.2" />
<text x="45.3" y="417.4" font-size="9.4" text-anchor="end" fill="#111" stroke="#111" >40</text>
<line x1="45.3" y1="387.2" x2="47.8" y2="387.2" stroke="#111" stroke-width="1.2" />
<text x="45.3" y="389.5" font-size="9.4" text-anchor="end" fill="#111" stroke="#111" >80</text>
<line x1="69.7" y1="443" x2="69.7" y2="445" stroke="#111" stroke-width="1" />
<line x1="111.6" y1="443" x2="111.6" y2="445" stroke="#111" stroke-width="1" />
<text x="0" y="0" transform="translate(30.3,413.5) rotate(-90)" font-size="10.3" text-anchor="middle" fill="#111" stroke="#111" >Cells %</text>
<text x="70.2" y="458.7" font-size="10.4" text-anchor="middle" fill="#111" stroke="#111" >CD4<tspan font-size="6.8" baseline-shift="3.3" style="stroke-width:0.5px">+</tspan></text>
<text x="114.2" y="458.7" font-size="10.4" text-anchor="middle" fill="#111" stroke="#111" >CD8<tspan font-size="6.8" baseline-shift="3.3" style="stroke-width:0.5px">+</tspan></text>
<line x1="68" y1="392.8" x2="106" y2="392.8" stroke="#111" stroke-width="1.4" />
<text x="88.3" y="393.1" font-size="8.6" text-anchor="middle" fill="#111" stroke="#111" style="stroke-width:0.75px;stroke-linejoin:round" letter-spacing="1.0">***</text>
<circle cx="216.5" cy="443.3" r="2.1" fill="none" stroke="#0f9e34" stroke-width="1.7"/>
<circle cx="221" cy="442.8" r="2.1" fill="none" stroke="#0f9e34" stroke-width="1.7"/>
<circle cx="212" cy="442.13" r="2.1" fill="none" stroke="#0f9e34" stroke-width="1.7"/>
<circle cx="225.5" cy="441.16" r="2.1" fill="none" stroke="#0f9e34" stroke-width="1.7"/>
<circle cx="207.5" cy="440.43" r="2.1" fill="none" stroke="#0f9e34" stroke-width="1.7"/>
<circle cx="229.5" cy="440.03" r="2.1" fill="none" stroke="#0f9e34" stroke-width="1.7"/>
<circle cx="216.5" cy="438.88" r="2.1" fill="none" stroke="#0f9e34" stroke-width="1.7"/>
<circle cx="221" cy="438.58" r="2.1" fill="none" stroke="#0f9e34" stroke-width="1.7"/>
<circle cx="212" cy="437.75" r="2.1" fill="none" stroke="#0f9e34" stroke-width="1.7"/>
<circle cx="225.5" cy="437" r="2.1" fill="none" stroke="#0f9e34" stroke-width="1.7"/>
<circle cx="206" cy="436.21" r="2.1" fill="none" stroke="#0f9e34" stroke-width="1.7"/>
<circle cx="218.5" cy="435.2" r="2.1" fill="none" stroke="#0f9e34" stroke-width="1.7"/>
<circle cx="214.5" cy="434.71" r="2.1" fill="none" stroke="#0f9e34" stroke-width="1.7"/>
<circle cx="210" cy="433.37" r="2.1" fill="none" stroke="#0f9e34" stroke-width="1.7"/>
<circle cx="222" cy="432.47" r="2.1" fill="none" stroke="#0f9e34" stroke-width="1.7"/>
<circle cx="217" cy="431.44" r="2.1" fill="none" stroke="#0f9e34" stroke-width="1.7"/>
<circle cx="226.5" cy="430.68" r="2.1" fill="none" stroke="#0f9e34" stroke-width="1.7"/>
<circle cx="213" cy="430.05" r="2.1" fill="none" stroke="#0f9e34" stroke-width="1.7"/>
<circle cx="208.5" cy="428.89" r="2.1" fill="none" stroke="#0f9e34" stroke-width="1.7"/>
<circle cx="220" cy="427.91" r="2.1" fill="none" stroke="#0f9e34" stroke-width="1.7"/>
<circle cx="216" cy="426.03" r="2.1" fill="none" stroke="#0f9e34" stroke-width="1.7"/>
<circle cx="211.5" cy="425.01" r="2.1" fill="none" stroke="#0f9e34" stroke-width="1.7"/>
<circle cx="220" cy="423.42" r="2.1" fill="none" stroke="#0f9e34" stroke-width="1.7"/>
<circle cx="215.5" cy="421.6" r="2.1" fill="none" stroke="#0f9e34" stroke-width="1.7"/>
<circle cx="219.5" cy="419.18" r="2.1" fill="none" stroke="#0f9e34" stroke-width="1.7"/>
<circle cx="216.5" cy="410.56" r="2.1" fill="none" stroke="#0f9e34" stroke-width="1.7"/>
<circle cx="216.5" cy="405.33" r="2.1" fill="none" stroke="#0f9e34" stroke-width="1.7"/>
<circle cx="216.5" cy="399.75" r="2.1" fill="none" stroke="#0f9e34" stroke-width="1.7"/>
<circle cx="258.5" cy="444.6" r="2.1" fill="none" stroke="#1c1ce6" stroke-width="1.7"/>
<circle cx="263" cy="444.37" r="2.1" fill="none" stroke="#1c1ce6" stroke-width="1.7"/>
<circle cx="254" cy="443.8" r="2.1" fill="none" stroke="#1c1ce6" stroke-width="1.7"/>
<circle cx="249.5" cy="443.24" r="2.1" fill="none" stroke="#1c1ce6" stroke-width="1.7"/>
<circle cx="267.5" cy="442.65" r="2.1" fill="none" stroke="#1c1ce6" stroke-width="1.7"/>
<circle cx="245.5" cy="442.14" r="2.1" fill="none" stroke="#1c1ce6" stroke-width="1.7"/>
<circle cx="271.5" cy="441.67" r="2.1" fill="none" stroke="#1c1ce6" stroke-width="1.7"/>
<circle cx="260.5" cy="441.05" r="2.1" fill="none" stroke="#1c1ce6" stroke-width="1.7"/>
<circle cx="256" cy="440.28" r="2.1" fill="none" stroke="#1c1ce6" stroke-width="1.7"/>
<circle cx="264.5" cy="439.91" r="2.1" fill="none" stroke="#1c1ce6" stroke-width="1.7"/>
<circle cx="251.5" cy="438.88" r="2.1" fill="none" stroke="#1c1ce6" stroke-width="1.7"/>
<circle cx="268.5" cy="438.54" r="2.1" fill="none" stroke="#1c1ce6" stroke-width="1.7"/>
<circle cx="247" cy="437.62" r="2.1" fill="none" stroke="#1c1ce6" stroke-width="1.7"/>
<circle cx="258.5" cy="436.55" r="2.1" fill="none" stroke="#1c1ce6" stroke-width="1.7"/>
<circle cx="263" cy="436.1" r="2.1" fill="none" stroke="#1c1ce6" stroke-width="1.7"/>
<circle cx="254" cy="434.91" r="2.1" fill="none" stroke="#1c1ce6" stroke-width="1.7"/>
<circle cx="267" cy="434.07" r="2.1" fill="none" stroke="#1c1ce6" stroke-width="1.7"/>
<circle cx="260" cy="432.89" r="2.1" fill="none" stroke="#1c1ce6" stroke-width="1.7"/>
<circle cx="256" cy="430.46" r="2.1" fill="none" stroke="#1c1ce6" stroke-width="1.7"/>
<circle cx="259" cy="427.09" r="2.1" fill="none" stroke="#1c1ce6" stroke-width="1.7"/>
<circle cx="254.5" cy="425.92" r="2.1" fill="none" stroke="#1c1ce6" stroke-width="1.7"/>
<circle cx="258.5" cy="419.52" r="2.1" fill="none" stroke="#1c1ce6" stroke-width="1.7"/>
<line x1="216.5" y1="440.59" x2="216.5" y2="419.38" stroke="#ff2a3a" stroke-width="1.2" />
<line x1="202.5" y1="429.99" x2="230.5" y2="429.99" stroke="#ff2a3a" stroke-width="1.3" />
<line x1="210" y1="419.38" x2="223" y2="419.38" stroke="#ff2a3a" stroke-width="1.3" />
<line x1="210" y1="440.59" x2="223" y2="440.59" stroke="#ff2a3a" stroke-width="1.3" />
<line x1="258.5" y1="442.8" x2="258.5" y2="429.71" stroke="#ff2a3a" stroke-width="1.2" />
<line x1="244.5" y1="436.25" x2="272.5" y2="436.25" stroke="#ff2a3a" stroke-width="1.3" />
<line x1="252" y1="429.71" x2="265" y2="429.71" stroke="#ff2a3a" stroke-width="1.3" />
<line x1="252" y1="442.8" x2="265" y2="442.8" stroke="#ff2a3a" stroke-width="1.3" />
<line x1="195.1" y1="389.4" x2="195.1" y2="445.6" stroke="#111" stroke-width="1.3" />
<line x1="194.5" y1="445" x2="280" y2="445" stroke="#111" stroke-width="1.3" />
<line x1="192.6" y1="445" x2="195.1" y2="445" stroke="#111" stroke-width="1.2" />
<text x="188.2" y="446.3" font-size="9.4" text-anchor="end" fill="#111" stroke="#111" >0</text>
<line x1="192.6" y1="417.45" x2="195.1" y2="417.45" stroke="#111" stroke-width="1.2" />
<text x="188.2" y="418.75" font-size="9.4" text-anchor="end" fill="#111" stroke="#111" >40</text>
<line x1="192.6" y1="389.9" x2="195.1" y2="389.9" stroke="#111" stroke-width="1.2" />
<text x="188.2" y="391.2" font-size="9.4" text-anchor="end" fill="#111" stroke="#111" >80</text>
<line x1="216.5" y1="445" x2="216.5" y2="447" stroke="#111" stroke-width="1" />
<line x1="258.5" y1="445" x2="258.5" y2="447" stroke="#111" stroke-width="1" />
<text x="0" y="0" transform="translate(174.1,414.8) rotate(-90)" font-size="10.3" text-anchor="middle" fill="#111" stroke="#111" >Cells %</text>
<text x="215.6" y="458.7" font-size="10.4" text-anchor="middle" fill="#111" stroke="#111" >CD4<tspan font-size="6.8" baseline-shift="3.3" style="stroke-width:0.5px">+</tspan></text>
<text x="260.5" y="458.7" font-size="10.4" text-anchor="middle" fill="#111" stroke="#111" >CD8<tspan font-size="6.8" baseline-shift="3.3" style="stroke-width:0.5px">+</tspan></text>
<line x1="213.1" y1="392.8" x2="257.6" y2="392.8" stroke="#111" stroke-width="1.4" />
<text x="234.85" y="393.1" font-size="8.6" text-anchor="middle" fill="#111" stroke="#111" style="stroke-width:0.75px;stroke-linejoin:round" letter-spacing="1.0">*</text>
<circle cx="361.7" cy="442.65" r="2.1" fill="none" stroke="#0f9e34" stroke-width="1.7"/>
<circle cx="357.2" cy="441.93" r="2.1" fill="none" stroke="#0f9e34" stroke-width="1.7"/>
<circle cx="366.2" cy="441.29" r="2.1" fill="none" stroke="#0f9e34" stroke-width="1.7"/>
<circle cx="352.7" cy="440.55" r="2.1" fill="none" stroke="#0f9e34" stroke-width="1.7"/>
<circle cx="370.7" cy="439.59" r="2.1" fill="none" stroke="#0f9e34" stroke-width="1.7"/>
<circle cx="360.2" cy="438.76" r="2.1" fill="none" stroke="#0f9e34" stroke-width="1.7"/>
<circle cx="364.2" cy="437.85" r="2.1" fill="none" stroke="#0f9e34" stroke-width="1.7"/>
<circle cx="355.7" cy="437.32" r="2.1" fill="none" stroke="#0f9e34" stroke-width="1.7"/>
<circle cx="368.2" cy="435.9" r="2.1" fill="none" stroke="#0f9e34" stroke-width="1.7"/>
<circle cx="351.7" cy="435.07" r="2.1" fill="none" stroke="#0f9e34" stroke-width="1.7"/>
<circle cx="361.2" cy="434.58" r="2.1" fill="none" stroke="#0f9e34" stroke-width="1.7"/>
<circle cx="357.2" cy="433.44" r="2.1" fill="none" stroke="#0f9e34" stroke-width="1.7"/>
<circle cx="365.2" cy="432.25" r="2.1" fill="none" stroke="#0f9e34" stroke-width="1.7"/>
<circle cx="369.7" cy="431.66" r="2.1" fill="none" stroke="#0f9e34" stroke-width="1.7"/>
<circle cx="360.7" cy="430.49" r="2.1" fill="none" stroke="#0f9e34" stroke-width="1.7"/>
<circle cx="355.2" cy="429.34" r="2.1" fill="none" stroke="#0f9e34" stroke-width="1.7"/>
<circle cx="364.2" cy="427.84" r="2.1" fill="none" stroke="#0f9e34" stroke-width="1.7"/>
<circle cx="359.2" cy="426.29" r="2.1" fill="none" stroke="#0f9e34" stroke-width="1.7"/>
<circle cx="367.7" cy="424.68" r="2.1" fill="none" stroke="#0f9e34" stroke-width="1.7"/>
<circle cx="362.7" cy="423.46" r="2.1" fill="none" stroke="#0f9e34" stroke-width="1.7"/>
<circle cx="358.2" cy="421.82" r="2.1" fill="none" stroke="#0f9e34" stroke-width="1.7"/>
<circle cx="361.7" cy="415.12" r="2.1" fill="none" stroke="#0f9e34" stroke-width="1.7"/>
<circle cx="361.7" cy="410.25" r="2.1" fill="none" stroke="#0f9e34" stroke-width="1.7"/>
<circle cx="361.7" cy="402.12" r="2.1" fill="none" stroke="#0f9e34" stroke-width="1.7"/>
<circle cx="366.2" cy="402.12" r="2.1" fill="none" stroke="#0f9e34" stroke-width="1.7"/>
<circle cx="404.5" cy="444.85" r="2.1" fill="none" stroke="#1c1ce6" stroke-width="1.7"/>
<circle cx="409" cy="444.02" r="2.1" fill="none" stroke="#1c1ce6" stroke-width="1.7"/>
<circle cx="400" cy="443.45" r="2.1" fill="none" stroke="#1c1ce6" stroke-width="1.7"/>
<circle cx="413.5" cy="442.63" r="2.1" fill="none" stroke="#1c1ce6" stroke-width="1.7"/>
<circle cx="395.5" cy="441.63" r="2.1" fill="none" stroke="#1c1ce6" stroke-width="1.7"/>
<circle cx="406" cy="441.05" r="2.1" fill="none" stroke="#1c1ce6" stroke-width="1.7"/>
<circle cx="417.5" cy="440.38" r="2.1" fill="none" stroke="#1c1ce6" stroke-width="1.7"/>
<circle cx="402" cy="439.53" r="2.1" fill="none" stroke="#1c1ce6" stroke-width="1.7"/>
<circle cx="410" cy="438.49" r="2.1" fill="none" stroke="#1c1ce6" stroke-width="1.7"/>
<circle cx="398" cy="437.58" r="2.1" fill="none" stroke="#1c1ce6" stroke-width="1.7"/>
<circle cx="405.5" cy="436.91" r="2.1" fill="none" stroke="#1c1ce6" stroke-width="1.7"/>
<circle cx="414" cy="436.41" r="2.1" fill="none" stroke="#1c1ce6" stroke-width="1.7"/>
<circle cx="401.5" cy="435.06" r="2.1" fill="none" stroke="#1c1ce6" stroke-width="1.7"/>
<circle cx="409" cy="434.09" r="2.1" fill="none" stroke="#1c1ce6" stroke-width="1.7"/>
<circle cx="396.5" cy="433.42" r="2.1" fill="none" stroke="#1c1ce6" stroke-width="1.7"/>
<circle cx="405" cy="432.63" r="2.1" fill="none" stroke="#1c1ce6" stroke-width="1.7"/>
<circle cx="412.5" cy="431.22" r="2.1" fill="none" stroke="#1c1ce6" stroke-width="1.7"/>
<circle cx="401" cy="430.02" r="2.1" fill="none" stroke="#1c1ce6" stroke-width="1.7"/>
<circle cx="407" cy="428.7" r="2.1" fill="none" stroke="#1c1ce6" stroke-width="1.7"/>
<circle cx="397" cy="427.57" r="2.1" fill="none" stroke="#1c1ce6" stroke-width="1.7"/>
<circle cx="411" cy="426.78" r="2.1" fill="none" stroke="#1c1ce6" stroke-width="1.7"/>
<circle cx="404" cy="425.38" r="2.1" fill="none" stroke="#1c1ce6" stroke-width="1.7"/>
<circle cx="407.5" cy="422.63" r="2.1" fill="none" stroke="#1c1ce6" stroke-width="1.7"/>
<circle cx="403.5" cy="420.09" r="2.1" fill="none" stroke="#1c1ce6" stroke-width="1.7"/>
<circle cx="404.5" cy="410.25" r="2.1" fill="none" stroke="#1c1ce6" stroke-width="1.7"/>
<circle cx="404.5" cy="405.04" r="2.1" fill="none" stroke="#1c1ce6" stroke-width="1.7"/>
<circle cx="404.5" cy="399.48" r="2.1" fill="none" stroke="#1c1ce6" stroke-width="1.7"/>
<line x1="361.7" y1="442.22" x2="361.7" y2="417.2" stroke="#ff2a3a" stroke-width="1.2" />
<line x1="347.7" y1="429.71" x2="375.7" y2="429.71" stroke="#ff2a3a" stroke-width="1.3" />
<line x1="355.2" y1="417.2" x2="368.2" y2="417.2" stroke="#ff2a3a" stroke-width="1.3" />
<line x1="355.2" y1="442.22" x2="368.2" y2="442.22" stroke="#ff2a3a" stroke-width="1.3" />
<line x1="404.5" y1="440.13" x2="404.5" y2="419.28" stroke="#ff2a3a" stroke-width="1.2" />
<line x1="390.5" y1="429.71" x2="418.5" y2="429.71" stroke="#ff2a3a" stroke-width="1.3" />
<line x1="398" y1="419.28" x2="411" y2="419.28" stroke="#ff2a3a" stroke-width="1.3" />
<line x1="398" y1="440.13" x2="411" y2="440.13" stroke="#ff2a3a" stroke-width="1.3" />
<line x1="340.3" y1="388.9" x2="340.3" y2="445.6" stroke="#111" stroke-width="1.3" />
<line x1="339.7" y1="445" x2="425.6" y2="445" stroke="#111" stroke-width="1.3" />
<line x1="337.8" y1="445" x2="340.3" y2="445" stroke="#111" stroke-width="1.2" />
<text x="334.5" y="448" font-size="9.4" text-anchor="end" fill="#111" stroke="#111" >0</text>
<line x1="337.8" y1="417.2" x2="340.3" y2="417.2" stroke="#111" stroke-width="1.2" />
<text x="334.5" y="420.2" font-size="9.4" text-anchor="end" fill="#111" stroke="#111" >40</text>
<line x1="337.8" y1="389.4" x2="340.3" y2="389.4" stroke="#111" stroke-width="1.2" />
<text x="334.5" y="392.4" font-size="9.4" text-anchor="end" fill="#111" stroke="#111" >80</text>
<line x1="361.7" y1="445" x2="361.7" y2="447" stroke="#111" stroke-width="1" />
<line x1="404.5" y1="445" x2="404.5" y2="447" stroke="#111" stroke-width="1" />
<text x="0" y="0" transform="translate(320.4,415.8) rotate(-90)" font-size="10.3" text-anchor="middle" fill="#111" stroke="#111" >Cells %</text>
<text x="359.5" y="458.7" font-size="10.4" text-anchor="middle" fill="#111" stroke="#111" >CD4<tspan font-size="6.8" baseline-shift="3.3" style="stroke-width:0.5px">+</tspan></text>
<text x="402.3" y="458.7" font-size="10.4" text-anchor="middle" fill="#111" stroke="#111" >CD8<tspan font-size="6.8" baseline-shift="3.3" style="stroke-width:0.5px">+</tspan></text>
<circle cx="70" cy="525.71" r="2.1" fill="none" stroke="#0f9e34" stroke-width="1.7"/>
<circle cx="73.5" cy="525.57" r="2.1" fill="none" stroke="#0f9e34" stroke-width="1.7"/>
<circle cx="66.5" cy="525.18" r="2.1" fill="none" stroke="#0f9e34" stroke-width="1.7"/>
<circle cx="77" cy="525.03" r="2.1" fill="none" stroke="#0f9e34" stroke-width="1.7"/>
<circle cx="63" cy="524.61" r="2.1" fill="none" stroke="#0f9e34" stroke-width="1.7"/>
<circle cx="59.5" cy="524.34" r="2.1" fill="none" stroke="#0f9e34" stroke-width="1.7"/>
<circle cx="80.5" cy="523.95" r="2.1" fill="none" stroke="#0f9e34" stroke-width="1.7"/>
<circle cx="71.5" cy="523.76" r="2.1" fill="none" stroke="#0f9e34" stroke-width="1.7"/>
<circle cx="68.5" cy="523.25" r="2.1" fill="none" stroke="#0f9e34" stroke-width="1.7"/>
<circle cx="75" cy="522.91" r="2.1" fill="none" stroke="#0f9e34" stroke-width="1.7"/>
<circle cx="65" cy="522.59" r="2.1" fill="none" stroke="#0f9e34" stroke-width="1.7"/>
<circle cx="78" cy="522.11" r="2.1" fill="none" stroke="#0f9e34" stroke-width="1.7"/>
<circle cx="61.5" cy="521.85" r="2.1" fill="none" stroke="#0f9e34" stroke-width="1.7"/>
<circle cx="58" cy="521.42" r="2.1" fill="none" stroke="#0f9e34" stroke-width="1.7"/>
<circle cx="70.5" cy="521.08" r="2.1" fill="none" stroke="#0f9e34" stroke-width="1.7"/>
<circle cx="67.5" cy="520.51" r="2.1" fill="none" stroke="#0f9e34" stroke-width="1.7"/>
<circle cx="73.5" cy="520.25" r="2.1" fill="none" stroke="#0f9e34" stroke-width="1.7"/>
<circle cx="64" cy="519.6" r="2.1" fill="none" stroke="#0f9e34" stroke-width="1.7"/>
<circle cx="76.5" cy="519.15" r="2.1" fill="none" stroke="#0f9e34" stroke-width="1.7"/>
<circle cx="80" cy="518.95" r="2.1" fill="none" stroke="#0f9e34" stroke-width="1.7"/>
<circle cx="70" cy="518.31" r="2.1" fill="none" stroke="#0f9e34" stroke-width="1.7"/>
<circle cx="61" cy="518.15" r="2.1" fill="none" stroke="#0f9e34" stroke-width="1.7"/>
<circle cx="66.5" cy="517.5" r="2.1" fill="none" stroke="#0f9e34" stroke-width="1.7"/>
<circle cx="73" cy="517.03" r="2.1" fill="none" stroke="#0f9e34" stroke-width="1.7"/>
<circle cx="63.5" cy="516.57" r="2.1" fill="none" stroke="#0f9e34" stroke-width="1.7"/>
<circle cx="78" cy="516.17" r="2.1" fill="none" stroke="#0f9e34" stroke-width="1.7"/>
<circle cx="69" cy="515.85" r="2.1" fill="none" stroke="#0f9e34" stroke-width="1.7"/>
<circle cx="59.5" cy="515.19" r="2.1" fill="none" stroke="#0f9e34" stroke-width="1.7"/>
<circle cx="75" cy="514.74" r="2.1" fill="none" stroke="#0f9e34" stroke-width="1.7"/>
<circle cx="66" cy="514.41" r="2.1" fill="none" stroke="#0f9e34" stroke-width="1.7"/>
<circle cx="70" cy="509.44" r="2.1" fill="none" stroke="#0f9e34" stroke-width="1.7"/>
<circle cx="70" cy="502.54" r="2.1" fill="none" stroke="#0f9e34" stroke-width="1.7"/>
<circle cx="70" cy="493.29" r="2.1" fill="none" stroke="#0f9e34" stroke-width="1.7"/>
<circle cx="111.6" cy="523.03" r="2.1" fill="none" stroke="#1c1ce6" stroke-width="1.7"/>
<circle cx="108.6" cy="522.88" r="2.1" fill="none" stroke="#1c1ce6" stroke-width="1.7"/>
<circle cx="114.6" cy="522.67" r="2.1" fill="none" stroke="#1c1ce6" stroke-width="1.7"/>
<circle cx="105.6" cy="522.58" r="2.1" fill="none" stroke="#1c1ce6" stroke-width="1.7"/>
<circle cx="117.6" cy="522.34" r="2.1" fill="none" stroke="#1c1ce6" stroke-width="1.7"/>
<circle cx="102.6" cy="522.22" r="2.1" fill="none" stroke="#1c1ce6" stroke-width="1.7"/>
<circle cx="121.1" cy="522.06" r="2.1" fill="none" stroke="#1c1ce6" stroke-width="1.7"/>
<circle cx="99.6" cy="521.9" r="2.1" fill="none" stroke="#1c1ce6" stroke-width="1.7"/>
<circle cx="124.1" cy="521.74" r="2.1" fill="none" stroke="#1c1ce6" stroke-width="1.7"/>
<circle cx="110.6" cy="521.59" r="2.1" fill="none" stroke="#1c1ce6" stroke-width="1.7"/>
<circle cx="113.6" cy="521.41" r="2.1" fill="none" stroke="#1c1ce6" stroke-width="1.7"/>
<circle cx="107.6" cy="521.29" r="2.1" fill="none" stroke="#1c1ce6" stroke-width="1.7"/>
<circle cx="119.1" cy="521.11" r="2.1" fill="none" stroke="#1c1ce6" stroke-width="1.7"/>
<circle cx="104.6" cy="520.92" r="2.1" fill="none" stroke="#1c1ce6" stroke-width="1.7"/>
<circle cx="116.1" cy="520.77" r="2.1" fill="none" stroke="#1c1ce6" stroke-width="1.7"/>
<circle cx="101.6" cy="520.66" r="2.1" fill="none" stroke="#1c1ce6" stroke-width="1.7"/>
<circle cx="122.1" cy="520.45" r="2.1" fill="none" stroke="#1c1ce6" stroke-width="1.7"/>
<circle cx="112.1" cy="520.29" r="2.1" fill="none" stroke="#1c1ce6" stroke-width="1.7"/>
<circle cx="99.1" cy="520.14" r="2.1" fill="none" stroke="#1c1ce6" stroke-width="1.7"/>
<circle cx="109.1" cy="520.01" r="2.1" fill="none" stroke="#1c1ce6" stroke-width="1.7"/>
<circle cx="106.1" cy="519.8" r="2.1" fill="none" stroke="#1c1ce6" stroke-width="1.7"/>
<circle cx="124.1" cy="519.6" r="2.1" fill="none" stroke="#1c1ce6" stroke-width="1.7"/>
<circle cx="118.1" cy="519.51" r="2.1" fill="none" stroke="#1c1ce6" stroke-width="1.7"/>
<circle cx="114.6" cy="519.37" r="2.1" fill="none" stroke="#1c1ce6" stroke-width="1.7"/>
<line x1="70" y1="524.76" x2="70" y2="512.34" stroke="#ff2a3a" stroke-width="1.2" />
<line x1="56" y1="518.55" x2="84" y2="518.55" stroke="#ff2a3a" stroke-width="1.3" />
<line x1="63.5" y1="512.34" x2="76.5" y2="512.34" stroke="#ff2a3a" stroke-width="1.3" />
<line x1="63.5" y1="524.76" x2="76.5" y2="524.76" stroke="#ff2a3a" stroke-width="1.3" />
<line x1="111.6" y1="522.13" x2="111.6" y2="520.75" stroke="#ff2a3a" stroke-width="1.2" />
<line x1="97.6" y1="521.44" x2="125.6" y2="521.44" stroke="#ff2a3a" stroke-width="1.3" />
<line x1="105.1" y1="520.75" x2="118.1" y2="520.75" stroke="#ff2a3a" stroke-width="1.3" />
<line x1="105.1" y1="522.13" x2="118.1" y2="522.13" stroke="#ff2a3a" stroke-width="1.3" />
<line x1="48.8" y1="474.3" x2="48.8" y2="530.6" stroke="#111" stroke-width="1.3" />
<line x1="48.2" y1="530" x2="133" y2="530" stroke="#111" stroke-width="1.3" />
<line x1="46.3" y1="530" x2="48.8" y2="530" stroke="#111" stroke-width="1.2" />
<text x="42.8" y="531.5" font-size="9.4" text-anchor="end" fill="#111" stroke="#111" >0</text>
<line x1="46.3" y1="502.4" x2="48.8" y2="502.4" stroke="#111" stroke-width="1.2" />
<text x="42.8" y="503.9" font-size="9.4" text-anchor="end" fill="#111" stroke="#111" >2</text>
<line x1="46.3" y1="474.8" x2="48.8" y2="474.8" stroke="#111" stroke-width="1.2" />
<text x="42.8" y="476.3" font-size="9.4" text-anchor="end" fill="#111" stroke="#111" >4</text>
<line x1="70" y1="530" x2="70" y2="532" stroke="#111" stroke-width="1" />
<line x1="111.6" y1="530" x2="111.6" y2="532" stroke="#111" stroke-width="1" />
<text x="0" y="0" transform="translate(30.2,500.5) rotate(-90)" font-size="10.8" text-anchor="middle" fill="#111" stroke="#111" >MFI (x1000)</text>
<text x="69.3" y="545.3" font-size="10.4" text-anchor="middle" fill="#111" stroke="#111" >CD4<tspan font-size="6.8" baseline-shift="3.3" style="stroke-width:0.5px">+</tspan></text>
<text x="114.5" y="545.3" font-size="10.4" text-anchor="middle" fill="#111" stroke="#111" >CD8<tspan font-size="6.8" baseline-shift="3.3" style="stroke-width:0.5px">+</tspan></text>
<line x1="68.8" y1="476" x2="113.9" y2="476" stroke="#111" stroke-width="1.4" />
<text x="92.45" y="476.3" font-size="8.6" text-anchor="middle" fill="#111" stroke="#111" style="stroke-width:0.75px;stroke-linejoin:round" letter-spacing="1.0">**</text>
<circle cx="213.3" cy="517.68" r="2.1" fill="none" stroke="#0f9e34" stroke-width="1.7"/>
<circle cx="217.3" cy="517.35" r="2.1" fill="none" stroke="#0f9e34" stroke-width="1.7"/>
<circle cx="209.3" cy="517.11" r="2.1" fill="none" stroke="#0f9e34" stroke-width="1.7"/>
<circle cx="221.3" cy="516.68" r="2.1" fill="none" stroke="#0f9e34" stroke-width="1.7"/>
<circle cx="205.3" cy="516.32" r="2.1" fill="none" stroke="#0f9e34" stroke-width="1.7"/>
<circle cx="225.3" cy="515.92" r="2.1" fill="none" stroke="#0f9e34" stroke-width="1.7"/>
<circle cx="201.3" cy="515.38" r="2.1" fill="none" stroke="#0f9e34" stroke-width="1.7"/>
<circle cx="214.8" cy="515.07" r="2.1" fill="none" stroke="#0f9e34" stroke-width="1.7"/>
<circle cx="211.3" cy="514.41" r="2.1" fill="none" stroke="#0f9e34" stroke-width="1.7"/>
<circle cx="218.8" cy="514.15" r="2.1" fill="none" stroke="#0f9e34" stroke-width="1.7"/>
<circle cx="207.8" cy="513.37" r="2.1" fill="none" stroke="#0f9e34" stroke-width="1.7"/>
<circle cx="222.8" cy="512.92" r="2.1" fill="none" stroke="#0f9e34" stroke-width="1.7"/>
<circle cx="203.8" cy="512.52" r="2.1" fill="none" stroke="#0f9e34" stroke-width="1.7"/>
<circle cx="215.8" cy="511.87" r="2.1" fill="none" stroke="#0f9e34" stroke-width="1.7"/>
<circle cx="212.3" cy="511.48" r="2.1" fill="none" stroke="#0f9e34" stroke-width="1.7"/>
<circle cx="219.8" cy="510.48" r="2.1" fill="none" stroke="#0f9e34" stroke-width="1.7"/>
<circle cx="208.8" cy="509.96" r="2.1" fill="none" stroke="#0f9e34" stroke-width="1.7"/>
<circle cx="224.3" cy="509.37" r="2.1" fill="none" stroke="#0f9e34" stroke-width="1.7"/>
<circle cx="204.8" cy="508.63" r="2.1" fill="none" stroke="#0f9e34" stroke-width="1.7"/>
<circle cx="213.3" cy="507.52" r="2.1" fill="none" stroke="#0f9e34" stroke-width="1.7"/>
<circle cx="217.3" cy="506.19" r="2.1" fill="none" stroke="#0f9e34" stroke-width="1.7"/>
<circle cx="213.3" cy="502.22" r="2.1" fill="none" stroke="#0f9e34" stroke-width="1.7"/>
<circle cx="213.3" cy="496.85" r="2.1" fill="none" stroke="#0f9e34" stroke-width="1.7"/>
<circle cx="255.6" cy="524.62" r="2.1" fill="none" stroke="#1c1ce6" stroke-width="1.7"/>
<circle cx="252.6" cy="524.35" r="2.1" fill="none" stroke="#1c1ce6" stroke-width="1.7"/>
<circle cx="258.6" cy="524.04" r="2.1" fill="none" stroke="#1c1ce6" stroke-width="1.7"/>
<circle cx="249.6" cy="523.68" r="2.1" fill="none" stroke="#1c1ce6" stroke-width="1.7"/>
<circle cx="261.6" cy="523.3" r="2.1" fill="none" stroke="#1c1ce6" stroke-width="1.7"/>
<circle cx="246.6" cy="522.91" r="2.1" fill="none" stroke="#1c1ce6" stroke-width="1.7"/>
<circle cx="264.6" cy="522.62" r="2.1" fill="none" stroke="#1c1ce6" stroke-width="1.7"/>
<circle cx="254.6" cy="522.44" r="2.1" fill="none" stroke="#1c1ce6" stroke-width="1.7"/>
<circle cx="257.1" cy="521.93" r="2.1" fill="none" stroke="#1c1ce6" stroke-width="1.7"/>
<circle cx="251.6" cy="521.79" r="2.1" fill="none" stroke="#1c1ce6" stroke-width="1.7"/>
<circle cx="259.6" cy="521.48" r="2.1" fill="none" stroke="#1c1ce6" stroke-width="1.7"/>
<circle cx="248.6" cy="520.99" r="2.1" fill="none" stroke="#1c1ce6" stroke-width="1.7"/>
<circle cx="262.6" cy="520.7" r="2.1" fill="none" stroke="#1c1ce6" stroke-width="1.7"/>
<circle cx="245.1" cy="520.47" r="2.1" fill="none" stroke="#1c1ce6" stroke-width="1.7"/>
<circle cx="255.1" cy="519.96" r="2.1" fill="none" stroke="#1c1ce6" stroke-width="1.7"/>
<circle cx="265.6" cy="519.67" r="2.1" fill="none" stroke="#1c1ce6" stroke-width="1.7"/>
<circle cx="258.1" cy="519.47" r="2.1" fill="none" stroke="#1c1ce6" stroke-width="1.7"/>
<circle cx="252.1" cy="519.01" r="2.1" fill="none" stroke="#1c1ce6" stroke-width="1.7"/>
<circle cx="260.6" cy="518.83" r="2.1" fill="none" stroke="#1c1ce6" stroke-width="1.7"/>
<circle cx="249.1" cy="518.41" r="2.1" fill="none" stroke="#1c1ce6" stroke-width="1.7"/>
<circle cx="263.1" cy="518.1" r="2.1" fill="none" stroke="#1c1ce6" stroke-width="1.7"/>
<circle cx="255.6" cy="512.97" r="2.1" fill="none" stroke="#1c1ce6" stroke-width="1.7"/>
<line x1="213.3" y1="515.03" x2="213.3" y2="506.22" stroke="#ff2a3a" stroke-width="1.2" />
<line x1="199.3" y1="510.62" x2="227.3" y2="510.62" stroke="#ff2a3a" stroke-width="1.3" />
<line x1="206.8" y1="506.22" x2="219.8" y2="506.22" stroke="#ff2a3a" stroke-width="1.3" />
<line x1="206.8" y1="515.03" x2="219.8" y2="515.03" stroke="#ff2a3a" stroke-width="1.3" />
<line x1="255.6" y1="521.92" x2="255.6" y2="518.61" stroke="#ff2a3a" stroke-width="1.2" />
<line x1="241.6" y1="520.27" x2="269.6" y2="520.27" stroke="#ff2a3a" stroke-width="1.3" />
<line x1="249.1" y1="518.61" x2="262.1" y2="518.61" stroke="#ff2a3a" stroke-width="1.3" />
<line x1="249.1" y1="521.92" x2="262.1" y2="521.92" stroke="#ff2a3a" stroke-width="1.3" />
<line x1="192.3" y1="476.1" x2="192.3" y2="532.3" stroke="#111" stroke-width="1.3" />
<line x1="191.7" y1="531.7" x2="277" y2="531.7" stroke="#111" stroke-width="1.3" />
<line x1="189.8" y1="531.7" x2="192.3" y2="531.7" stroke="#111" stroke-width="1.2" />
<text x="186.2" y="532" font-size="9.4" text-anchor="end" fill="#111" stroke="#111" >0</text>
<line x1="189.8" y1="504.15" x2="192.3" y2="504.15" stroke="#111" stroke-width="1.2" />
<text x="186.2" y="504.45" font-size="9.4" text-anchor="end" fill="#111" stroke="#111" >2</text>
<line x1="189.8" y1="476.6" x2="192.3" y2="476.6" stroke="#111" stroke-width="1.2" />
<text x="186.2" y="476.9" font-size="9.4" text-anchor="end" fill="#111" stroke="#111" >4</text>
<line x1="213.3" y1="531.7" x2="213.3" y2="533.7" stroke="#111" stroke-width="1" />
<line x1="255.6" y1="531.7" x2="255.6" y2="533.7" stroke="#111" stroke-width="1" />
<text x="0" y="0" transform="translate(173.4,501.5) rotate(-90)" font-size="10.8" text-anchor="middle" fill="#111" stroke="#111" >MFI (x1000)</text>
<text x="214.1" y="545.3" font-size="10.4" text-anchor="middle" fill="#111" stroke="#111" >CD4<tspan font-size="6.8" baseline-shift="3.3" style="stroke-width:0.5px">+</tspan></text>
<text x="260" y="545.3" font-size="10.4" text-anchor="middle" fill="#111" stroke="#111" >CD8<tspan font-size="6.8" baseline-shift="3.3" style="stroke-width:0.5px">+</tspan></text>
<line x1="213.7" y1="476" x2="258.5" y2="476" stroke="#111" stroke-width="1.4" />
<text x="237.4" y="476.3" font-size="8.6" text-anchor="middle" fill="#111" stroke="#111" style="stroke-width:0.75px;stroke-linejoin:round" letter-spacing="1.0">***</text>
<circle cx="360.7" cy="519.34" r="2.1" fill="none" stroke="#0f9e34" stroke-width="1.7"/>
<circle cx="356.2" cy="518.83" r="2.1" fill="none" stroke="#0f9e34" stroke-width="1.7"/>
<circle cx="365.2" cy="517.85" r="2.1" fill="none" stroke="#0f9e34" stroke-width="1.7"/>
<circle cx="351.7" cy="517.3" r="2.1" fill="none" stroke="#0f9e34" stroke-width="1.7"/>
<circle cx="369.7" cy="516.25" r="2.1" fill="none" stroke="#0f9e34" stroke-width="1.7"/>
<circle cx="359.2" cy="515.66" r="2.1" fill="none" stroke="#0f9e34" stroke-width="1.7"/>
<circle cx="355.2" cy="514.55" r="2.1" fill="none" stroke="#0f9e34" stroke-width="1.7"/>
<circle cx="363.2" cy="514.11" r="2.1" fill="none" stroke="#0f9e34" stroke-width="1.7"/>
<circle cx="350.2" cy="513.1" r="2.1" fill="none" stroke="#0f9e34" stroke-width="1.7"/>
<circle cx="367.2" cy="512.37" r="2.1" fill="none" stroke="#0f9e34" stroke-width="1.7"/>
<circle cx="359.7" cy="511.43" r="2.1" fill="none" stroke="#0f9e34" stroke-width="1.7"/>
<circle cx="353.7" cy="510.6" r="2.1" fill="none" stroke="#0f9e34" stroke-width="1.7"/>
<circle cx="363.7" cy="509.49" r="2.1" fill="none" stroke="#0f9e34" stroke-width="1.7"/>
<circle cx="370.2" cy="508.8" r="2.1" fill="none" stroke="#0f9e34" stroke-width="1.7"/>
<circle cx="357.2" cy="508.03" r="2.1" fill="none" stroke="#0f9e34" stroke-width="1.7"/>
<circle cx="351.2" cy="506.77" r="2.1" fill="none" stroke="#0f9e34" stroke-width="1.7"/>
<circle cx="361.2" cy="505.98" r="2.1" fill="none" stroke="#0f9e34" stroke-width="1.7"/>
<circle cx="365.7" cy="504.65" r="2.1" fill="none" stroke="#0f9e34" stroke-width="1.7"/>
<circle cx="357.7" cy="503.03" r="2.1" fill="none" stroke="#0f9e34" stroke-width="1.7"/>
<circle cx="362.2" cy="501.8" r="2.1" fill="none" stroke="#0f9e34" stroke-width="1.7"/>
<circle cx="353.7" cy="500.82" r="2.1" fill="none" stroke="#0f9e34" stroke-width="1.7"/>
<circle cx="365.7" cy="499.09" r="2.1" fill="none" stroke="#0f9e34" stroke-width="1.7"/>
<circle cx="360.7" cy="497.07" r="2.1" fill="none" stroke="#0f9e34" stroke-width="1.7"/>
<circle cx="360.7" cy="490.74" r="2.1" fill="none" stroke="#0f9e34" stroke-width="1.7"/>
<circle cx="365.2" cy="489.32" r="2.1" fill="none" stroke="#0f9e34" stroke-width="1.7"/>
<circle cx="360.7" cy="484.38" r="2.1" fill="none" stroke="#0f9e34" stroke-width="1.7"/>
<circle cx="363.7" cy="480.85" r="2.1" fill="none" stroke="#0f9e34" stroke-width="1.7"/>
<circle cx="402.6" cy="523.82" r="2.1" fill="none" stroke="#1c1ce6" stroke-width="1.7"/>
<circle cx="398.1" cy="523.29" r="2.1" fill="none" stroke="#1c1ce6" stroke-width="1.7"/>
<circle cx="407.1" cy="522.8" r="2.1" fill="none" stroke="#1c1ce6" stroke-width="1.7"/>
<circle cx="393.6" cy="522.55" r="2.1" fill="none" stroke="#1c1ce6" stroke-width="1.7"/>
<circle cx="411.6" cy="521.94" r="2.1" fill="none" stroke="#1c1ce6" stroke-width="1.7"/>
<circle cx="389.6" cy="521.54" r="2.1" fill="none" stroke="#1c1ce6" stroke-width="1.7"/>
<circle cx="415.6" cy="521.22" r="2.1" fill="none" stroke="#1c1ce6" stroke-width="1.7"/>
<circle cx="401.1" cy="520.58" r="2.1" fill="none" stroke="#1c1ce6" stroke-width="1.7"/>
<circle cx="405.1" cy="520.4" r="2.1" fill="none" stroke="#1c1ce6" stroke-width="1.7"/>
<circle cx="396.6" cy="519.63" r="2.1" fill="none" stroke="#1c1ce6" stroke-width="1.7"/>
<circle cx="409.1" cy="519.37" r="2.1" fill="none" stroke="#1c1ce6" stroke-width="1.7"/>
<circle cx="392.6" cy="518.8" r="2.1" fill="none" stroke="#1c1ce6" stroke-width="1.7"/>
<circle cx="413.1" cy="518.17" r="2.1" fill="none" stroke="#1c1ce6" stroke-width="1.7"/>
<circle cx="402.6" cy="517.74" r="2.1" fill="none" stroke="#1c1ce6" stroke-width="1.7"/>
<circle cx="389.6" cy="516.99" r="2.1" fill="none" stroke="#1c1ce6" stroke-width="1.7"/>
<circle cx="406.6" cy="516.42" r="2.1" fill="none" stroke="#1c1ce6" stroke-width="1.7"/>
<circle cx="398.6" cy="515.55" r="2.1" fill="none" stroke="#1c1ce6" stroke-width="1.7"/>
<circle cx="410.6" cy="514.01" r="2.1" fill="none" stroke="#1c1ce6" stroke-width="1.7"/>
<circle cx="402.6" cy="509.1" r="2.1" fill="none" stroke="#1c1ce6" stroke-width="1.7"/>
<circle cx="402.6" cy="503.45" r="2.1" fill="none" stroke="#1c1ce6" stroke-width="1.7"/>
<circle cx="407.1" cy="502.04" r="2.1" fill="none" stroke="#1c1ce6" stroke-width="1.7"/>
<circle cx="399.1" cy="500.62" r="2.1" fill="none" stroke="#1c1ce6" stroke-width="1.7"/>
<circle cx="402.6" cy="490.74" r="2.1" fill="none" stroke="#1c1ce6" stroke-width="1.7"/>
<line x1="360.7" y1="516.16" x2="360.7" y2="496.39" stroke="#ff2a3a" stroke-width="1.2" />
<line x1="346.7" y1="506.28" x2="374.7" y2="506.28" stroke="#ff2a3a" stroke-width="1.3" />
<line x1="354.2" y1="496.39" x2="367.2" y2="496.39" stroke="#ff2a3a" stroke-width="1.3" />
<line x1="354.2" y1="516.16" x2="367.2" y2="516.16" stroke="#ff2a3a" stroke-width="1.3" />
<line x1="402.6" y1="522.94" x2="402.6" y2="506.84" stroke="#ff2a3a" stroke-width="1.2" />
<line x1="388.6" y1="514.89" x2="416.6" y2="514.89" stroke="#ff2a3a" stroke-width="1.3" />
<line x1="396.1" y1="506.84" x2="409.1" y2="506.84" stroke="#ff2a3a" stroke-width="1.3" />
<line x1="396.1" y1="522.94" x2="409.1" y2="522.94" stroke="#ff2a3a" stroke-width="1.3" />
<line x1="339.3" y1="474.7" x2="339.3" y2="532.3" stroke="#111" stroke-width="1.3" />
<line x1="338.7" y1="531.7" x2="424" y2="531.7" stroke="#111" stroke-width="1.3" />
<line x1="336.8" y1="531.7" x2="339.3" y2="531.7" stroke="#111" stroke-width="1.2" />
<text x="334.3" y="532" font-size="9.4" text-anchor="end" fill="#111" stroke="#111" >0</text>
<line x1="336.8" y1="503.45" x2="339.3" y2="503.45" stroke="#111" stroke-width="1.2" />
<text x="334.3" y="503.75" font-size="9.4" text-anchor="end" fill="#111" stroke="#111" >2</text>
<line x1="336.8" y1="475.2" x2="339.3" y2="475.2" stroke="#111" stroke-width="1.2" />
<text x="334.3" y="475.5" font-size="9.4" text-anchor="end" fill="#111" stroke="#111" >4</text>
<line x1="360.7" y1="531.7" x2="360.7" y2="533.7" stroke="#111" stroke-width="1" />
<line x1="402.6" y1="531.7" x2="402.6" y2="533.7" stroke="#111" stroke-width="1" />
<text x="0" y="0" transform="translate(320.3,502) rotate(-90)" font-size="10.8" text-anchor="middle" fill="#111" stroke="#111" >MFI (x1000)</text>
<text x="358.3" y="545.3" font-size="10.4" text-anchor="middle" fill="#111" stroke="#111" >CD4<tspan font-size="6.8" baseline-shift="3.3" style="stroke-width:0.5px">+</tspan></text>
<text x="401.3" y="545.3" font-size="10.4" text-anchor="middle" fill="#111" stroke="#111" >CD8<tspan font-size="6.8" baseline-shift="3.3" style="stroke-width:0.5px">+</tspan></text>
<line x1="359" y1="476" x2="403.5" y2="476" stroke="#111" stroke-width="1.4" />
<text x="382.55" y="476.3" font-size="8.6" text-anchor="middle" fill="#111" stroke="#111" style="stroke-width:0.75px;stroke-linejoin:round" letter-spacing="1.0">***</text>
</svg>
</body></html>
